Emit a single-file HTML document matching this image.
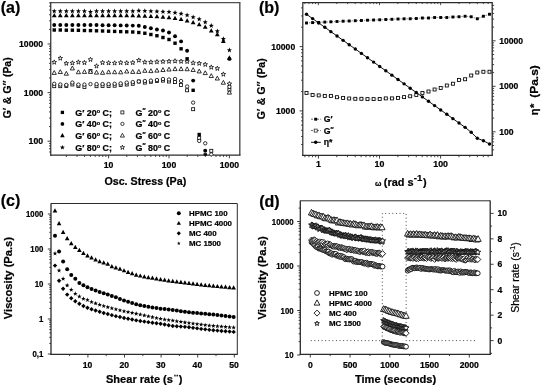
<!DOCTYPE html>
<html><head><meta charset="utf-8"><title>Rheology figure</title>
<style>
html,body{margin:0;padding:0;background:#fff;}
svg{display:block;font-family:'Liberation Sans', Arial, Helvetica, sans-serif;}
text{fill:#000;stroke:#000;stroke-width:0.22px;}
</style></head><body>
<svg width="543" height="387" viewBox="0 0 543 387">
<rect width="543" height="387" fill="#fff"/>
<line x1="50.75" y1="2.60" x2="240.40" y2="2.60" stroke="#505050" stroke-width="1.2" />
<line x1="239.80" y1="2.60" x2="239.80" y2="155.15" stroke="#505050" stroke-width="1.4" />
<line x1="50.75" y1="2.10" x2="50.75" y2="155.65" stroke="#2b2b2b" stroke-width="1.2" />
<line x1="50.15" y1="155.15" x2="240.50" y2="155.15" stroke="#2b2b2b" stroke-width="1.1" />
<line x1="49.05" y1="151.98" x2="50.75" y2="151.98" stroke="#2b2b2b" stroke-width="0.9" />
<line x1="49.05" y1="148.73" x2="50.75" y2="148.73" stroke="#2b2b2b" stroke-width="0.9" />
<line x1="49.05" y1="145.91" x2="50.75" y2="145.91" stroke="#2b2b2b" stroke-width="0.9" />
<line x1="49.05" y1="143.42" x2="50.75" y2="143.42" stroke="#2b2b2b" stroke-width="0.9" />
<line x1="47.55" y1="141.20" x2="50.75" y2="141.20" stroke="#2b2b2b" stroke-width="0.9" />
<line x1="49.05" y1="126.57" x2="50.75" y2="126.57" stroke="#2b2b2b" stroke-width="0.9" />
<line x1="49.05" y1="118.01" x2="50.75" y2="118.01" stroke="#2b2b2b" stroke-width="0.9" />
<line x1="49.05" y1="111.94" x2="50.75" y2="111.94" stroke="#2b2b2b" stroke-width="0.9" />
<line x1="49.05" y1="107.23" x2="50.75" y2="107.23" stroke="#2b2b2b" stroke-width="0.9" />
<line x1="49.05" y1="103.38" x2="50.75" y2="103.38" stroke="#2b2b2b" stroke-width="0.9" />
<line x1="49.05" y1="100.13" x2="50.75" y2="100.13" stroke="#2b2b2b" stroke-width="0.9" />
<line x1="49.05" y1="97.31" x2="50.75" y2="97.31" stroke="#2b2b2b" stroke-width="0.9" />
<line x1="49.05" y1="94.82" x2="50.75" y2="94.82" stroke="#2b2b2b" stroke-width="0.9" />
<line x1="47.55" y1="92.60" x2="50.75" y2="92.60" stroke="#2b2b2b" stroke-width="0.9" />
<line x1="49.05" y1="77.97" x2="50.75" y2="77.97" stroke="#2b2b2b" stroke-width="0.9" />
<line x1="49.05" y1="69.41" x2="50.75" y2="69.41" stroke="#2b2b2b" stroke-width="0.9" />
<line x1="49.05" y1="63.34" x2="50.75" y2="63.34" stroke="#2b2b2b" stroke-width="0.9" />
<line x1="49.05" y1="58.63" x2="50.75" y2="58.63" stroke="#2b2b2b" stroke-width="0.9" />
<line x1="49.05" y1="54.78" x2="50.75" y2="54.78" stroke="#2b2b2b" stroke-width="0.9" />
<line x1="49.05" y1="51.53" x2="50.75" y2="51.53" stroke="#2b2b2b" stroke-width="0.9" />
<line x1="49.05" y1="48.71" x2="50.75" y2="48.71" stroke="#2b2b2b" stroke-width="0.9" />
<line x1="49.05" y1="46.22" x2="50.75" y2="46.22" stroke="#2b2b2b" stroke-width="0.9" />
<line x1="47.55" y1="44.00" x2="50.75" y2="44.00" stroke="#2b2b2b" stroke-width="0.9" />
<line x1="49.05" y1="29.37" x2="50.75" y2="29.37" stroke="#2b2b2b" stroke-width="0.9" />
<line x1="49.05" y1="20.81" x2="50.75" y2="20.81" stroke="#2b2b2b" stroke-width="0.9" />
<line x1="49.05" y1="14.74" x2="50.75" y2="14.74" stroke="#2b2b2b" stroke-width="0.9" />
<line x1="49.05" y1="10.03" x2="50.75" y2="10.03" stroke="#2b2b2b" stroke-width="0.9" />
<line x1="49.05" y1="6.18" x2="50.75" y2="6.18" stroke="#2b2b2b" stroke-width="0.9" />
<line x1="49.05" y1="2.93" x2="50.75" y2="2.93" stroke="#2b2b2b" stroke-width="0.9" />
<line x1="66.38" y1="155.15" x2="66.38" y2="156.95" stroke="#2b2b2b" stroke-width="0.9" />
<line x1="77.02" y1="155.15" x2="77.02" y2="156.95" stroke="#2b2b2b" stroke-width="0.9" />
<line x1="84.56" y1="155.15" x2="84.56" y2="156.95" stroke="#2b2b2b" stroke-width="0.9" />
<line x1="90.42" y1="155.15" x2="90.42" y2="156.95" stroke="#2b2b2b" stroke-width="0.9" />
<line x1="95.20" y1="155.15" x2="95.20" y2="156.95" stroke="#2b2b2b" stroke-width="0.9" />
<line x1="99.24" y1="155.15" x2="99.24" y2="156.95" stroke="#2b2b2b" stroke-width="0.9" />
<line x1="102.75" y1="155.15" x2="102.75" y2="156.95" stroke="#2b2b2b" stroke-width="0.9" />
<line x1="105.84" y1="155.15" x2="105.84" y2="156.95" stroke="#2b2b2b" stroke-width="0.9" />
<line x1="108.60" y1="155.15" x2="108.60" y2="158.35" stroke="#2b2b2b" stroke-width="0.9" />
<line x1="126.78" y1="155.15" x2="126.78" y2="156.95" stroke="#2b2b2b" stroke-width="0.9" />
<line x1="137.42" y1="155.15" x2="137.42" y2="156.95" stroke="#2b2b2b" stroke-width="0.9" />
<line x1="144.96" y1="155.15" x2="144.96" y2="156.95" stroke="#2b2b2b" stroke-width="0.9" />
<line x1="150.82" y1="155.15" x2="150.82" y2="156.95" stroke="#2b2b2b" stroke-width="0.9" />
<line x1="155.60" y1="155.15" x2="155.60" y2="156.95" stroke="#2b2b2b" stroke-width="0.9" />
<line x1="159.64" y1="155.15" x2="159.64" y2="156.95" stroke="#2b2b2b" stroke-width="0.9" />
<line x1="163.15" y1="155.15" x2="163.15" y2="156.95" stroke="#2b2b2b" stroke-width="0.9" />
<line x1="166.24" y1="155.15" x2="166.24" y2="156.95" stroke="#2b2b2b" stroke-width="0.9" />
<line x1="169.00" y1="155.15" x2="169.00" y2="158.35" stroke="#2b2b2b" stroke-width="0.9" />
<line x1="187.18" y1="155.15" x2="187.18" y2="156.95" stroke="#2b2b2b" stroke-width="0.9" />
<line x1="197.82" y1="155.15" x2="197.82" y2="156.95" stroke="#2b2b2b" stroke-width="0.9" />
<line x1="205.36" y1="155.15" x2="205.36" y2="156.95" stroke="#2b2b2b" stroke-width="0.9" />
<line x1="211.22" y1="155.15" x2="211.22" y2="156.95" stroke="#2b2b2b" stroke-width="0.9" />
<line x1="216.00" y1="155.15" x2="216.00" y2="156.95" stroke="#2b2b2b" stroke-width="0.9" />
<line x1="220.04" y1="155.15" x2="220.04" y2="156.95" stroke="#2b2b2b" stroke-width="0.9" />
<line x1="223.55" y1="155.15" x2="223.55" y2="156.95" stroke="#2b2b2b" stroke-width="0.9" />
<line x1="226.64" y1="155.15" x2="226.64" y2="156.95" stroke="#2b2b2b" stroke-width="0.9" />
<line x1="229.40" y1="155.15" x2="229.40" y2="158.35" stroke="#2b2b2b" stroke-width="0.9" />
<text x="43.20" y="47.20" font-size="9" font-weight="bold" text-anchor="end" transform="translate(43.20 47.20) scale(0.97 1) translate(-43.20 -47.20)" >10000</text>
<text x="43.20" y="95.80" font-size="9" font-weight="bold" text-anchor="end" transform="translate(43.20 95.80) scale(0.97 1) translate(-43.20 -95.80)" >1000</text>
<text x="43.20" y="144.40" font-size="9" font-weight="bold" text-anchor="end" transform="translate(43.20 144.40) scale(0.97 1) translate(-43.20 -144.40)" >100</text>
<text x="108.60" y="167.60" font-size="8.7" font-weight="bold" text-anchor="middle" >10</text>
<text x="169.00" y="167.60" font-size="8.7" font-weight="bold" text-anchor="middle" >100</text>
<text x="229.40" y="167.60" font-size="8.7" font-weight="bold" text-anchor="middle" >1000</text>
<text x="11.50" y="87.85" font-size="10.4" font-weight="bold" text-anchor="middle" transform="rotate(-90 11.50 87.85)" style="word-spacing:0.5px">G′ &amp; G″ (Pa)</text>
<text x="145.35" y="185.00" font-size="10.66" font-weight="bold" text-anchor="middle" >Osc. Stress (Pa)</text>
<text x="0.70" y="12.90" font-size="16" font-weight="bold" text-anchor="start" >(a)</text>
<clipPath id="ca"><rect x="50.75" y="2.6" width="189.05" height="152.85000000000002"/></clipPath><g clip-path="url(#ca)">
<rect x="52.74" y="84.70" width="3.00" height="3.00" fill="#fff" stroke="#000" stroke-width="0.8"/>
<rect x="58.78" y="84.70" width="3.00" height="3.00" fill="#fff" stroke="#000" stroke-width="0.8"/>
<rect x="64.82" y="84.50" width="3.00" height="3.00" fill="#fff" stroke="#000" stroke-width="0.8"/>
<rect x="70.86" y="83.00" width="3.00" height="3.00" fill="#fff" stroke="#000" stroke-width="0.8"/>
<rect x="76.90" y="84.50" width="3.00" height="3.00" fill="#fff" stroke="#000" stroke-width="0.8"/>
<rect x="82.94" y="85.40" width="3.00" height="3.00" fill="#fff" stroke="#000" stroke-width="0.8"/>
<rect x="88.98" y="69.50" width="3.00" height="3.00" fill="#fff" stroke="#000" stroke-width="0.8"/>
<rect x="95.02" y="84.70" width="3.00" height="3.00" fill="#fff" stroke="#000" stroke-width="0.8"/>
<rect x="101.06" y="84.50" width="3.00" height="3.00" fill="#fff" stroke="#000" stroke-width="0.8"/>
<rect x="107.10" y="84.50" width="3.00" height="3.00" fill="#fff" stroke="#000" stroke-width="0.8"/>
<rect x="113.14" y="84.20" width="3.00" height="3.00" fill="#fff" stroke="#000" stroke-width="0.8"/>
<rect x="119.18" y="83.40" width="3.00" height="3.00" fill="#fff" stroke="#000" stroke-width="0.8"/>
<rect x="125.22" y="83.00" width="3.00" height="3.00" fill="#fff" stroke="#000" stroke-width="0.8"/>
<rect x="131.26" y="82.30" width="3.00" height="3.00" fill="#fff" stroke="#000" stroke-width="0.8"/>
<rect x="137.30" y="80.00" width="3.00" height="3.00" fill="#fff" stroke="#000" stroke-width="0.8"/>
<rect x="143.34" y="81.10" width="3.00" height="3.00" fill="#fff" stroke="#000" stroke-width="0.8"/>
<rect x="149.38" y="80.30" width="3.00" height="3.00" fill="#fff" stroke="#000" stroke-width="0.8"/>
<rect x="155.42" y="79.50" width="3.00" height="3.00" fill="#fff" stroke="#000" stroke-width="0.8"/>
<rect x="161.46" y="79.10" width="3.00" height="3.00" fill="#fff" stroke="#000" stroke-width="0.8"/>
<rect x="167.50" y="80.00" width="3.00" height="3.00" fill="#fff" stroke="#000" stroke-width="0.8"/>
<rect x="173.54" y="80.60" width="3.00" height="3.00" fill="#fff" stroke="#000" stroke-width="0.8"/>
<rect x="179.58" y="83.40" width="3.00" height="3.00" fill="#fff" stroke="#000" stroke-width="0.8"/>
<rect x="185.62" y="88.80" width="3.00" height="3.00" fill="#fff" stroke="#000" stroke-width="0.8"/>
<rect x="191.66" y="107.70" width="3.00" height="3.00" fill="#fff" stroke="#000" stroke-width="0.8"/>
<rect x="197.70" y="136.60" width="3.00" height="3.00" fill="#fff" stroke="#000" stroke-width="0.8"/>
<rect x="209.78" y="149.30" width="3.00" height="3.00" fill="#fff" stroke="#000" stroke-width="0.8"/>
<rect x="227.90" y="88.30" width="3.00" height="3.00" fill="#fff" stroke="#000" stroke-width="0.8"/>
<circle cx="54.24" cy="83.80" r="1.70" fill="#fff" stroke="#000" stroke-width="0.8"/>
<circle cx="60.28" cy="84.50" r="1.70" fill="#fff" stroke="#000" stroke-width="0.8"/>
<circle cx="66.32" cy="84.90" r="1.70" fill="#fff" stroke="#000" stroke-width="0.8"/>
<circle cx="72.36" cy="82.60" r="1.70" fill="#fff" stroke="#000" stroke-width="0.8"/>
<circle cx="78.40" cy="84.60" r="1.70" fill="#fff" stroke="#000" stroke-width="0.8"/>
<circle cx="84.44" cy="84.60" r="1.70" fill="#fff" stroke="#000" stroke-width="0.8"/>
<circle cx="90.48" cy="84.10" r="1.70" fill="#fff" stroke="#000" stroke-width="0.8"/>
<circle cx="96.52" cy="84.10" r="1.70" fill="#fff" stroke="#000" stroke-width="0.8"/>
<circle cx="102.56" cy="84.10" r="1.70" fill="#fff" stroke="#000" stroke-width="0.8"/>
<circle cx="108.60" cy="84.10" r="1.70" fill="#fff" stroke="#000" stroke-width="0.8"/>
<circle cx="114.64" cy="83.80" r="1.70" fill="#fff" stroke="#000" stroke-width="0.8"/>
<circle cx="120.68" cy="83.40" r="1.70" fill="#fff" stroke="#000" stroke-width="0.8"/>
<circle cx="126.72" cy="82.60" r="1.70" fill="#fff" stroke="#000" stroke-width="0.8"/>
<circle cx="132.76" cy="82.10" r="1.70" fill="#fff" stroke="#000" stroke-width="0.8"/>
<circle cx="138.80" cy="81.50" r="1.70" fill="#fff" stroke="#000" stroke-width="0.8"/>
<circle cx="144.84" cy="81.00" r="1.70" fill="#fff" stroke="#000" stroke-width="0.8"/>
<circle cx="150.88" cy="80.60" r="1.70" fill="#fff" stroke="#000" stroke-width="0.8"/>
<circle cx="156.92" cy="80.00" r="1.70" fill="#fff" stroke="#000" stroke-width="0.8"/>
<circle cx="162.96" cy="79.00" r="1.70" fill="#fff" stroke="#000" stroke-width="0.8"/>
<circle cx="169.00" cy="79.50" r="1.70" fill="#fff" stroke="#000" stroke-width="0.8"/>
<circle cx="175.04" cy="79.00" r="1.70" fill="#fff" stroke="#000" stroke-width="0.8"/>
<circle cx="181.08" cy="81.00" r="1.70" fill="#fff" stroke="#000" stroke-width="0.8"/>
<circle cx="187.12" cy="86.50" r="1.70" fill="#fff" stroke="#000" stroke-width="0.8"/>
<circle cx="193.16" cy="102.60" r="1.70" fill="#fff" stroke="#000" stroke-width="0.8"/>
<circle cx="199.20" cy="140.90" r="1.70" fill="#fff" stroke="#000" stroke-width="0.8"/>
<circle cx="205.24" cy="143.30" r="1.70" fill="#fff" stroke="#000" stroke-width="0.8"/>
<circle cx="211.28" cy="154.40" r="1.70" fill="#fff" stroke="#000" stroke-width="0.8"/>
<circle cx="229.40" cy="86.80" r="1.70" fill="#fff" stroke="#000" stroke-width="0.8"/>
<polygon points="54.24,70.56 52.14,74.42 56.34,74.42" fill="#fff" stroke="#000" stroke-width="0.8" stroke-linejoin="miter"/>
<polygon points="60.28,69.66 58.18,73.52 62.38,73.52" fill="#fff" stroke="#000" stroke-width="0.8" stroke-linejoin="miter"/>
<polygon points="66.32,71.36 64.22,75.22 68.42,75.22" fill="#fff" stroke="#000" stroke-width="0.8" stroke-linejoin="miter"/>
<polygon points="72.36,66.06 70.26,69.92 74.46,69.92" fill="#fff" stroke="#000" stroke-width="0.8" stroke-linejoin="miter"/>
<polygon points="78.40,69.86 76.30,73.72 80.50,73.72" fill="#fff" stroke="#000" stroke-width="0.8" stroke-linejoin="miter"/>
<polygon points="84.44,69.56 82.34,73.42 86.54,73.42" fill="#fff" stroke="#000" stroke-width="0.8" stroke-linejoin="miter"/>
<polygon points="90.48,69.56 88.38,73.42 92.58,73.42" fill="#fff" stroke="#000" stroke-width="0.8" stroke-linejoin="miter"/>
<polygon points="96.52,70.26 94.42,74.12 98.62,74.12" fill="#fff" stroke="#000" stroke-width="0.8" stroke-linejoin="miter"/>
<polygon points="102.56,70.46 100.46,74.32 104.66,74.32" fill="#fff" stroke="#000" stroke-width="0.8" stroke-linejoin="miter"/>
<polygon points="108.60,69.86 106.50,73.72 110.70,73.72" fill="#fff" stroke="#000" stroke-width="0.8" stroke-linejoin="miter"/>
<polygon points="114.64,69.86 112.54,73.72 116.74,73.72" fill="#fff" stroke="#000" stroke-width="0.8" stroke-linejoin="miter"/>
<polygon points="120.68,69.96 118.58,73.82 122.78,73.82" fill="#fff" stroke="#000" stroke-width="0.8" stroke-linejoin="miter"/>
<polygon points="126.72,69.16 124.62,73.02 128.82,73.02" fill="#fff" stroke="#000" stroke-width="0.8" stroke-linejoin="miter"/>
<polygon points="132.76,69.56 130.66,73.42 134.86,73.42" fill="#fff" stroke="#000" stroke-width="0.8" stroke-linejoin="miter"/>
<polygon points="138.80,69.56 136.70,73.42 140.90,73.42" fill="#fff" stroke="#000" stroke-width="0.8" stroke-linejoin="miter"/>
<polygon points="144.84,68.46 142.74,72.32 146.94,72.32" fill="#fff" stroke="#000" stroke-width="0.8" stroke-linejoin="miter"/>
<polygon points="150.88,68.76 148.78,72.62 152.98,72.62" fill="#fff" stroke="#000" stroke-width="0.8" stroke-linejoin="miter"/>
<polygon points="156.92,68.26 154.82,72.12 159.02,72.12" fill="#fff" stroke="#000" stroke-width="0.8" stroke-linejoin="miter"/>
<polygon points="162.96,67.66 160.86,71.52 165.06,71.52" fill="#fff" stroke="#000" stroke-width="0.8" stroke-linejoin="miter"/>
<polygon points="169.00,67.16 166.90,71.02 171.10,71.02" fill="#fff" stroke="#000" stroke-width="0.8" stroke-linejoin="miter"/>
<polygon points="175.04,66.76 172.94,70.62 177.14,70.62" fill="#fff" stroke="#000" stroke-width="0.8" stroke-linejoin="miter"/>
<polygon points="181.08,66.76 178.98,70.62 183.18,70.62" fill="#fff" stroke="#000" stroke-width="0.8" stroke-linejoin="miter"/>
<polygon points="187.12,66.86 185.02,70.72 189.22,70.72" fill="#fff" stroke="#000" stroke-width="0.8" stroke-linejoin="miter"/>
<polygon points="193.16,67.66 191.06,71.52 195.26,71.52" fill="#fff" stroke="#000" stroke-width="0.8" stroke-linejoin="miter"/>
<polygon points="199.20,69.06 197.10,72.92 201.30,72.92" fill="#fff" stroke="#000" stroke-width="0.8" stroke-linejoin="miter"/>
<polygon points="205.24,70.76 203.14,74.62 207.34,74.62" fill="#fff" stroke="#000" stroke-width="0.8" stroke-linejoin="miter"/>
<polygon points="211.28,73.66 209.18,77.52 213.38,77.52" fill="#fff" stroke="#000" stroke-width="0.8" stroke-linejoin="miter"/>
<polygon points="217.32,76.16 215.22,80.02 219.42,80.02" fill="#fff" stroke="#000" stroke-width="0.8" stroke-linejoin="miter"/>
<polygon points="223.36,80.36 221.26,84.22 225.46,84.22" fill="#fff" stroke="#000" stroke-width="0.8" stroke-linejoin="miter"/>
<polygon points="229.40,90.26 227.30,94.12 231.50,94.12" fill="#fff" stroke="#000" stroke-width="0.8" stroke-linejoin="miter"/>
<polygon points="54.24,59.89 54.83,61.48 56.52,61.55 55.20,62.60 55.65,64.23 54.24,63.30 52.83,64.23 53.28,62.60 51.96,61.55 53.65,61.48" fill="#fff" stroke="#000" stroke-width="0.75"/>
<polygon points="60.28,55.89 60.87,57.48 62.56,57.55 61.24,58.60 61.69,60.23 60.28,59.30 58.87,60.23 59.32,58.60 58.00,57.55 59.69,57.48" fill="#fff" stroke="#000" stroke-width="0.75"/>
<polygon points="66.32,60.99 66.91,62.58 68.60,62.65 67.28,63.70 67.73,65.33 66.32,64.40 64.91,65.33 65.36,63.70 64.04,62.65 65.73,62.58" fill="#fff" stroke="#000" stroke-width="0.75"/>
<polygon points="72.36,60.69 72.95,62.28 74.64,62.35 73.32,63.40 73.77,65.03 72.36,64.10 70.95,65.03 71.40,63.40 70.08,62.35 71.77,62.28" fill="#fff" stroke="#000" stroke-width="0.75"/>
<polygon points="78.40,59.79 78.99,61.38 80.68,61.45 79.36,62.50 79.81,64.13 78.40,63.20 76.99,64.13 77.44,62.50 76.12,61.45 77.81,61.38" fill="#fff" stroke="#000" stroke-width="0.75"/>
<polygon points="84.44,60.29 85.03,61.88 86.72,61.95 85.40,63.00 85.85,64.63 84.44,63.70 83.03,64.63 83.48,63.00 82.16,61.95 83.85,61.88" fill="#fff" stroke="#000" stroke-width="0.75"/>
<polygon points="90.48,57.19 91.07,58.78 92.76,58.85 91.44,59.90 91.89,61.53 90.48,60.60 89.07,61.53 89.52,59.90 88.20,58.85 89.89,58.78" fill="#fff" stroke="#000" stroke-width="0.75"/>
<polygon points="96.52,63.69 97.11,65.28 98.80,65.35 97.48,66.40 97.93,68.03 96.52,67.10 95.11,68.03 95.56,66.40 94.24,65.35 95.93,65.28" fill="#fff" stroke="#000" stroke-width="0.75"/>
<polygon points="102.56,60.29 103.15,61.88 104.84,61.95 103.52,63.00 103.97,64.63 102.56,63.70 101.15,64.63 101.60,63.00 100.28,61.95 101.97,61.88" fill="#fff" stroke="#000" stroke-width="0.75"/>
<polygon points="108.60,60.59 109.19,62.18 110.88,62.25 109.56,63.30 110.01,64.93 108.60,64.00 107.19,64.93 107.64,63.30 106.32,62.25 108.01,62.18" fill="#fff" stroke="#000" stroke-width="0.75"/>
<polygon points="114.64,60.69 115.23,62.28 116.92,62.35 115.60,63.40 116.05,65.03 114.64,64.10 113.23,65.03 113.68,63.40 112.36,62.35 114.05,62.28" fill="#fff" stroke="#000" stroke-width="0.75"/>
<polygon points="120.68,60.29 121.27,61.88 122.96,61.95 121.64,63.00 122.09,64.63 120.68,63.70 119.27,64.63 119.72,63.00 118.40,61.95 120.09,61.88" fill="#fff" stroke="#000" stroke-width="0.75"/>
<polygon points="126.72,60.59 127.31,62.18 129.00,62.25 127.68,63.30 128.13,64.93 126.72,64.00 125.31,64.93 125.76,63.30 124.44,62.25 126.13,62.18" fill="#fff" stroke="#000" stroke-width="0.75"/>
<polygon points="132.76,60.29 133.35,61.88 135.04,61.95 133.72,63.00 134.17,64.63 132.76,63.70 131.35,64.63 131.80,63.00 130.48,61.95 132.17,61.88" fill="#fff" stroke="#000" stroke-width="0.75"/>
<polygon points="138.80,57.89 139.39,59.48 141.08,59.55 139.76,60.60 140.21,62.23 138.80,61.30 137.39,62.23 137.84,60.60 136.52,59.55 138.21,59.48" fill="#fff" stroke="#000" stroke-width="0.75"/>
<polygon points="144.84,59.79 145.43,61.38 147.12,61.45 145.80,62.50 146.25,64.13 144.84,63.20 143.43,64.13 143.88,62.50 142.56,61.45 144.25,61.38" fill="#fff" stroke="#000" stroke-width="0.75"/>
<polygon points="150.88,59.79 151.47,61.38 153.16,61.45 151.84,62.50 152.29,64.13 150.88,63.20 149.47,64.13 149.92,62.50 148.60,61.45 150.29,61.38" fill="#fff" stroke="#000" stroke-width="0.75"/>
<polygon points="156.92,59.49 157.51,61.08 159.20,61.15 157.88,62.20 158.33,63.83 156.92,62.90 155.51,63.83 155.96,62.20 154.64,61.15 156.33,61.08" fill="#fff" stroke="#000" stroke-width="0.75"/>
<polygon points="162.96,59.19 163.55,60.78 165.24,60.85 163.92,61.90 164.37,63.53 162.96,62.60 161.55,63.53 162.00,61.90 160.68,60.85 162.37,60.78" fill="#fff" stroke="#000" stroke-width="0.75"/>
<polygon points="169.00,58.99 169.59,60.58 171.28,60.65 169.96,61.70 170.41,63.33 169.00,62.40 167.59,63.33 168.04,61.70 166.72,60.65 168.41,60.58" fill="#fff" stroke="#000" stroke-width="0.75"/>
<polygon points="175.04,58.69 175.63,60.28 177.32,60.35 176.00,61.40 176.45,63.03 175.04,62.10 173.63,63.03 174.08,61.40 172.76,60.35 174.45,60.28" fill="#fff" stroke="#000" stroke-width="0.75"/>
<polygon points="181.08,58.99 181.67,60.58 183.36,60.65 182.04,61.70 182.49,63.33 181.08,62.40 179.67,63.33 180.12,61.70 178.80,60.65 180.49,60.58" fill="#fff" stroke="#000" stroke-width="0.75"/>
<polygon points="187.12,59.19 187.71,60.78 189.40,60.85 188.08,61.90 188.53,63.53 187.12,62.60 185.71,63.53 186.16,61.90 184.84,60.85 186.53,60.78" fill="#fff" stroke="#000" stroke-width="0.75"/>
<polygon points="193.16,60.59 193.75,62.18 195.44,62.25 194.12,63.30 194.57,64.93 193.16,64.00 191.75,64.93 192.20,63.30 190.88,62.25 192.57,62.18" fill="#fff" stroke="#000" stroke-width="0.75"/>
<polygon points="199.20,60.99 199.79,62.58 201.48,62.65 200.16,63.70 200.61,65.33 199.20,64.40 197.79,65.33 198.24,63.70 196.92,62.65 198.61,62.58" fill="#fff" stroke="#000" stroke-width="0.75"/>
<polygon points="205.24,62.09 205.83,63.68 207.52,63.75 206.20,64.80 206.65,66.43 205.24,65.50 203.83,66.43 204.28,64.80 202.96,63.75 204.65,63.68" fill="#fff" stroke="#000" stroke-width="0.75"/>
<polygon points="211.28,64.89 211.87,66.48 213.56,66.55 212.24,67.60 212.69,69.23 211.28,68.30 209.87,69.23 210.32,67.60 209.00,66.55 210.69,66.48" fill="#fff" stroke="#000" stroke-width="0.75"/>
<polygon points="217.32,66.09 217.91,67.68 219.60,67.75 218.28,68.80 218.73,70.43 217.32,69.50 215.91,70.43 216.36,68.80 215.04,67.75 216.73,67.68" fill="#fff" stroke="#000" stroke-width="0.75"/>
<polygon points="223.36,71.89 223.95,73.48 225.64,73.55 224.32,74.60 224.77,76.23 223.36,75.30 221.95,76.23 222.40,74.60 221.08,73.55 222.77,73.48" fill="#fff" stroke="#000" stroke-width="0.75"/>
<polygon points="229.40,81.49 229.99,83.08 231.68,83.15 230.36,84.20 230.81,85.83 229.40,84.90 227.99,85.83 228.44,84.20 227.12,83.15 228.81,83.08" fill="#fff" stroke="#000" stroke-width="0.75"/>
<rect x="52.54" y="28.30" width="3.40" height="3.40" fill="#000" stroke="none" stroke-width="0.7"/>
<rect x="58.58" y="28.30" width="3.40" height="3.40" fill="#000" stroke="none" stroke-width="0.7"/>
<rect x="64.62" y="28.50" width="3.40" height="3.40" fill="#000" stroke="none" stroke-width="0.7"/>
<rect x="70.66" y="28.50" width="3.40" height="3.40" fill="#000" stroke="none" stroke-width="0.7"/>
<rect x="76.70" y="28.60" width="3.40" height="3.40" fill="#000" stroke="none" stroke-width="0.7"/>
<rect x="82.74" y="28.80" width="3.40" height="3.40" fill="#000" stroke="none" stroke-width="0.7"/>
<rect x="88.78" y="28.90" width="3.40" height="3.40" fill="#000" stroke="none" stroke-width="0.7"/>
<rect x="94.82" y="29.10" width="3.40" height="3.40" fill="#000" stroke="none" stroke-width="0.7"/>
<rect x="100.86" y="29.30" width="3.40" height="3.40" fill="#000" stroke="none" stroke-width="0.7"/>
<rect x="106.90" y="29.50" width="3.40" height="3.40" fill="#000" stroke="none" stroke-width="0.7"/>
<rect x="112.94" y="29.70" width="3.40" height="3.40" fill="#000" stroke="none" stroke-width="0.7"/>
<rect x="118.98" y="29.90" width="3.40" height="3.40" fill="#000" stroke="none" stroke-width="0.7"/>
<rect x="125.02" y="30.10" width="3.40" height="3.40" fill="#000" stroke="none" stroke-width="0.7"/>
<rect x="131.06" y="30.30" width="3.40" height="3.40" fill="#000" stroke="none" stroke-width="0.7"/>
<rect x="137.10" y="30.80" width="3.40" height="3.40" fill="#000" stroke="none" stroke-width="0.7"/>
<rect x="143.14" y="31.55" width="3.40" height="3.40" fill="#000" stroke="none" stroke-width="0.7"/>
<rect x="149.18" y="32.80" width="3.40" height="3.40" fill="#000" stroke="none" stroke-width="0.7"/>
<rect x="155.22" y="34.05" width="3.40" height="3.40" fill="#000" stroke="none" stroke-width="0.7"/>
<rect x="161.26" y="35.80" width="3.40" height="3.40" fill="#000" stroke="none" stroke-width="0.7"/>
<rect x="167.30" y="37.80" width="3.40" height="3.40" fill="#000" stroke="none" stroke-width="0.7"/>
<rect x="173.34" y="41.50" width="3.40" height="3.40" fill="#000" stroke="none" stroke-width="0.7"/>
<rect x="179.38" y="47.10" width="3.40" height="3.40" fill="#000" stroke="none" stroke-width="0.7"/>
<rect x="185.42" y="57.10" width="3.40" height="3.40" fill="#000" stroke="none" stroke-width="0.7"/>
<rect x="191.46" y="88.60" width="3.40" height="3.40" fill="#000" stroke="none" stroke-width="0.7"/>
<rect x="197.50" y="132.80" width="3.40" height="3.40" fill="#000" stroke="none" stroke-width="0.7"/>
<rect x="203.54" y="153.20" width="3.40" height="3.40" fill="#000" stroke="none" stroke-width="0.7"/>
<circle cx="54.24" cy="25.00" r="1.95" fill="#000" stroke="none" stroke-width="0.7"/>
<circle cx="60.28" cy="25.00" r="1.95" fill="#000" stroke="none" stroke-width="0.7"/>
<circle cx="66.32" cy="25.00" r="1.95" fill="#000" stroke="none" stroke-width="0.7"/>
<circle cx="72.36" cy="25.00" r="1.95" fill="#000" stroke="none" stroke-width="0.7"/>
<circle cx="78.40" cy="25.00" r="1.95" fill="#000" stroke="none" stroke-width="0.7"/>
<circle cx="84.44" cy="25.00" r="1.95" fill="#000" stroke="none" stroke-width="0.7"/>
<circle cx="90.48" cy="25.00" r="1.95" fill="#000" stroke="none" stroke-width="0.7"/>
<circle cx="96.52" cy="25.00" r="1.95" fill="#000" stroke="none" stroke-width="0.7"/>
<circle cx="102.56" cy="25.20" r="1.95" fill="#000" stroke="none" stroke-width="0.7"/>
<circle cx="108.60" cy="25.20" r="1.95" fill="#000" stroke="none" stroke-width="0.7"/>
<circle cx="114.64" cy="25.30" r="1.95" fill="#000" stroke="none" stroke-width="0.7"/>
<circle cx="120.68" cy="25.40" r="1.95" fill="#000" stroke="none" stroke-width="0.7"/>
<circle cx="126.72" cy="25.50" r="1.95" fill="#000" stroke="none" stroke-width="0.7"/>
<circle cx="132.76" cy="25.60" r="1.95" fill="#000" stroke="none" stroke-width="0.7"/>
<circle cx="138.80" cy="25.75" r="1.95" fill="#000" stroke="none" stroke-width="0.7"/>
<circle cx="144.84" cy="27.00" r="1.95" fill="#000" stroke="none" stroke-width="0.7"/>
<circle cx="150.88" cy="28.25" r="1.95" fill="#000" stroke="none" stroke-width="0.7"/>
<circle cx="156.92" cy="29.50" r="1.95" fill="#000" stroke="none" stroke-width="0.7"/>
<circle cx="162.96" cy="30.50" r="1.95" fill="#000" stroke="none" stroke-width="0.7"/>
<circle cx="169.00" cy="32.50" r="1.95" fill="#000" stroke="none" stroke-width="0.7"/>
<circle cx="175.04" cy="36.25" r="1.95" fill="#000" stroke="none" stroke-width="0.7"/>
<circle cx="181.08" cy="41.40" r="1.95" fill="#000" stroke="none" stroke-width="0.7"/>
<circle cx="187.12" cy="50.70" r="1.95" fill="#000" stroke="none" stroke-width="0.7"/>
<circle cx="193.16" cy="80.60" r="1.95" fill="#000" stroke="none" stroke-width="0.7"/>
<circle cx="205.24" cy="150.80" r="1.95" fill="#000" stroke="none" stroke-width="0.7"/>
<circle cx="229.40" cy="58.90" r="1.95" fill="#000" stroke="none" stroke-width="0.7"/>
<polygon points="54.24,12.94 51.84,17.35 56.64,17.35" fill="#000" stroke="none" stroke-width="0.7" stroke-linejoin="miter"/>
<polygon points="60.28,12.94 57.88,17.35 62.68,17.35" fill="#000" stroke="none" stroke-width="0.7" stroke-linejoin="miter"/>
<polygon points="66.32,12.94 63.92,17.35 68.72,17.35" fill="#000" stroke="none" stroke-width="0.7" stroke-linejoin="miter"/>
<polygon points="72.36,12.94 69.96,17.35 74.76,17.35" fill="#000" stroke="none" stroke-width="0.7" stroke-linejoin="miter"/>
<polygon points="78.40,12.94 76.00,17.35 80.80,17.35" fill="#000" stroke="none" stroke-width="0.7" stroke-linejoin="miter"/>
<polygon points="84.44,12.94 82.04,17.35 86.84,17.35" fill="#000" stroke="none" stroke-width="0.7" stroke-linejoin="miter"/>
<polygon points="90.48,12.94 88.08,17.35 92.88,17.35" fill="#000" stroke="none" stroke-width="0.7" stroke-linejoin="miter"/>
<polygon points="96.52,12.94 94.12,17.35 98.92,17.35" fill="#000" stroke="none" stroke-width="0.7" stroke-linejoin="miter"/>
<polygon points="102.56,12.94 100.16,17.35 104.96,17.35" fill="#000" stroke="none" stroke-width="0.7" stroke-linejoin="miter"/>
<polygon points="108.60,12.94 106.20,17.35 111.00,17.35" fill="#000" stroke="none" stroke-width="0.7" stroke-linejoin="miter"/>
<polygon points="114.64,12.94 112.24,17.35 117.04,17.35" fill="#000" stroke="none" stroke-width="0.7" stroke-linejoin="miter"/>
<polygon points="120.68,12.94 118.28,17.35 123.08,17.35" fill="#000" stroke="none" stroke-width="0.7" stroke-linejoin="miter"/>
<polygon points="126.72,12.94 124.32,17.35 129.12,17.35" fill="#000" stroke="none" stroke-width="0.7" stroke-linejoin="miter"/>
<polygon points="132.76,12.94 130.36,17.35 135.16,17.35" fill="#000" stroke="none" stroke-width="0.7" stroke-linejoin="miter"/>
<polygon points="138.80,13.19 136.40,17.60 141.20,17.60" fill="#000" stroke="none" stroke-width="0.7" stroke-linejoin="miter"/>
<polygon points="144.84,13.44 142.44,17.85 147.24,17.85" fill="#000" stroke="none" stroke-width="0.7" stroke-linejoin="miter"/>
<polygon points="150.88,13.69 148.48,18.10 153.28,18.10" fill="#000" stroke="none" stroke-width="0.7" stroke-linejoin="miter"/>
<polygon points="156.92,13.94 154.52,18.35 159.32,18.35" fill="#000" stroke="none" stroke-width="0.7" stroke-linejoin="miter"/>
<polygon points="162.96,14.44 160.56,18.85 165.36,18.85" fill="#000" stroke="none" stroke-width="0.7" stroke-linejoin="miter"/>
<polygon points="169.00,14.94 166.60,19.35 171.40,19.35" fill="#000" stroke="none" stroke-width="0.7" stroke-linejoin="miter"/>
<polygon points="175.04,15.69 172.64,20.10 177.44,20.10" fill="#000" stroke="none" stroke-width="0.7" stroke-linejoin="miter"/>
<polygon points="181.08,16.69 178.68,21.10 183.48,21.10" fill="#000" stroke="none" stroke-width="0.7" stroke-linejoin="miter"/>
<polygon points="187.12,18.19 184.72,22.60 189.52,22.60" fill="#000" stroke="none" stroke-width="0.7" stroke-linejoin="miter"/>
<polygon points="193.16,19.94 190.76,24.35 195.56,24.35" fill="#000" stroke="none" stroke-width="0.7" stroke-linejoin="miter"/>
<polygon points="199.20,21.94 196.80,26.35 201.60,26.35" fill="#000" stroke="none" stroke-width="0.7" stroke-linejoin="miter"/>
<polygon points="205.24,24.44 202.84,28.85 207.64,28.85" fill="#000" stroke="none" stroke-width="0.7" stroke-linejoin="miter"/>
<polygon points="211.28,28.19 208.88,32.60 213.68,32.60" fill="#000" stroke="none" stroke-width="0.7" stroke-linejoin="miter"/>
<polygon points="217.32,31.94 214.92,36.35 219.72,36.35" fill="#000" stroke="none" stroke-width="0.7" stroke-linejoin="miter"/>
<polygon points="223.36,38.64 220.96,43.05 225.76,43.05" fill="#000" stroke="none" stroke-width="0.7" stroke-linejoin="miter"/>
<polygon points="229.40,55.24 227.00,59.65 231.80,59.65" fill="#000" stroke="none" stroke-width="0.7" stroke-linejoin="miter"/>
<polygon points="54.24,8.52 54.91,10.30 56.81,10.38 55.32,11.57 55.83,13.40 54.24,12.35 52.65,13.40 53.16,11.57 51.67,10.38 53.57,10.30" fill="#000" stroke="none" stroke-width="0.7"/>
<polygon points="60.28,8.52 60.95,10.30 62.85,10.38 61.36,11.57 61.87,13.40 60.28,12.35 58.69,13.40 59.20,11.57 57.71,10.38 59.61,10.30" fill="#000" stroke="none" stroke-width="0.7"/>
<polygon points="66.32,8.52 66.99,10.30 68.89,10.38 67.40,11.57 67.91,13.40 66.32,12.35 64.73,13.40 65.24,11.57 63.75,10.38 65.65,10.30" fill="#000" stroke="none" stroke-width="0.7"/>
<polygon points="72.36,8.52 73.03,10.30 74.93,10.38 73.44,11.57 73.95,13.40 72.36,12.35 70.77,13.40 71.28,11.57 69.79,10.38 71.69,10.30" fill="#000" stroke="none" stroke-width="0.7"/>
<polygon points="78.40,8.52 79.07,10.30 80.97,10.38 79.48,11.57 79.99,13.40 78.40,12.35 76.81,13.40 77.32,11.57 75.83,10.38 77.73,10.30" fill="#000" stroke="none" stroke-width="0.7"/>
<polygon points="84.44,8.52 85.11,10.30 87.01,10.38 85.52,11.57 86.03,13.40 84.44,12.35 82.85,13.40 83.36,11.57 81.87,10.38 83.77,10.30" fill="#000" stroke="none" stroke-width="0.7"/>
<polygon points="90.48,9.12 91.15,10.90 93.05,10.98 91.56,12.17 92.07,14.00 90.48,12.95 88.89,14.00 89.40,12.17 87.91,10.98 89.81,10.90" fill="#000" stroke="none" stroke-width="0.7"/>
<polygon points="96.52,8.52 97.19,10.30 99.09,10.38 97.60,11.57 98.11,13.40 96.52,12.35 94.93,13.40 95.44,11.57 93.95,10.38 95.85,10.30" fill="#000" stroke="none" stroke-width="0.7"/>
<polygon points="102.56,8.52 103.23,10.30 105.13,10.38 103.64,11.57 104.15,13.40 102.56,12.35 100.97,13.40 101.48,11.57 99.99,10.38 101.89,10.30" fill="#000" stroke="none" stroke-width="0.7"/>
<polygon points="108.60,8.52 109.27,10.30 111.17,10.38 109.68,11.57 110.19,13.40 108.60,12.35 107.01,13.40 107.52,11.57 106.03,10.38 107.93,10.30" fill="#000" stroke="none" stroke-width="0.7"/>
<polygon points="114.64,8.52 115.31,10.30 117.21,10.38 115.72,11.57 116.23,13.40 114.64,12.35 113.05,13.40 113.56,11.57 112.07,10.38 113.97,10.30" fill="#000" stroke="none" stroke-width="0.7"/>
<polygon points="120.68,8.52 121.35,10.30 123.25,10.38 121.76,11.57 122.27,13.40 120.68,12.35 119.09,13.40 119.60,11.57 118.11,10.38 120.01,10.30" fill="#000" stroke="none" stroke-width="0.7"/>
<polygon points="126.72,8.52 127.39,10.30 129.29,10.38 127.80,11.57 128.31,13.40 126.72,12.35 125.13,13.40 125.64,11.57 124.15,10.38 126.05,10.30" fill="#000" stroke="none" stroke-width="0.7"/>
<polygon points="132.76,8.52 133.43,10.30 135.33,10.38 133.84,11.57 134.35,13.40 132.76,12.35 131.17,13.40 131.68,11.57 130.19,10.38 132.09,10.30" fill="#000" stroke="none" stroke-width="0.7"/>
<polygon points="138.80,8.02 139.47,9.80 141.37,9.88 139.88,11.07 140.39,12.90 138.80,11.85 137.21,12.90 137.72,11.07 136.23,9.88 138.13,9.80" fill="#000" stroke="none" stroke-width="0.7"/>
<polygon points="144.84,8.27 145.51,10.05 147.41,10.13 145.92,11.32 146.43,13.15 144.84,12.10 143.25,13.15 143.76,11.32 142.27,10.13 144.17,10.05" fill="#000" stroke="none" stroke-width="0.7"/>
<polygon points="150.88,8.52 151.55,10.30 153.45,10.38 151.96,11.57 152.47,13.40 150.88,12.35 149.29,13.40 149.80,11.57 148.31,10.38 150.21,10.30" fill="#000" stroke="none" stroke-width="0.7"/>
<polygon points="156.92,8.77 157.59,10.55 159.49,10.63 158.00,11.82 158.51,13.65 156.92,12.60 155.33,13.65 155.84,11.82 154.35,10.63 156.25,10.55" fill="#000" stroke="none" stroke-width="0.7"/>
<polygon points="162.96,9.02 163.63,10.80 165.53,10.88 164.04,12.07 164.55,13.90 162.96,12.85 161.37,13.90 161.88,12.07 160.39,10.88 162.29,10.80" fill="#000" stroke="none" stroke-width="0.7"/>
<polygon points="169.00,9.27 169.67,11.05 171.57,11.13 170.08,12.32 170.59,14.15 169.00,13.10 167.41,14.15 167.92,12.32 166.43,11.13 168.33,11.05" fill="#000" stroke="none" stroke-width="0.7"/>
<polygon points="175.04,10.02 175.71,11.80 177.61,11.88 176.12,13.07 176.63,14.90 175.04,13.85 173.45,14.90 173.96,13.07 172.47,11.88 174.37,11.80" fill="#000" stroke="none" stroke-width="0.7"/>
<polygon points="181.08,11.02 181.75,12.80 183.65,12.88 182.16,14.07 182.67,15.90 181.08,14.85 179.49,15.90 180.00,14.07 178.51,12.88 180.41,12.80" fill="#000" stroke="none" stroke-width="0.7"/>
<polygon points="187.12,12.52 187.79,14.30 189.69,14.38 188.20,15.57 188.71,17.40 187.12,16.35 185.53,17.40 186.04,15.57 184.55,14.38 186.45,14.30" fill="#000" stroke="none" stroke-width="0.7"/>
<polygon points="193.16,14.52 193.83,16.30 195.73,16.38 194.24,17.57 194.75,19.40 193.16,18.35 191.57,19.40 192.08,17.57 190.59,16.38 192.49,16.30" fill="#000" stroke="none" stroke-width="0.7"/>
<polygon points="199.20,16.52 199.87,18.30 201.77,18.38 200.28,19.57 200.79,21.40 199.20,20.35 197.61,21.40 198.12,19.57 196.63,18.38 198.53,18.30" fill="#000" stroke="none" stroke-width="0.7"/>
<polygon points="205.24,19.52 205.91,21.30 207.81,21.38 206.32,22.57 206.83,24.40 205.24,23.35 203.65,24.40 204.16,22.57 202.67,21.38 204.57,21.30" fill="#000" stroke="none" stroke-width="0.7"/>
<polygon points="211.28,23.02 211.95,24.80 213.85,24.88 212.36,26.07 212.87,27.90 211.28,26.85 209.69,27.90 210.20,26.07 208.71,24.88 210.61,24.80" fill="#000" stroke="none" stroke-width="0.7"/>
<polygon points="217.32,28.52 217.99,30.30 219.89,30.38 218.40,31.57 218.91,33.40 217.32,32.35 215.73,33.40 216.24,31.57 214.75,30.38 216.65,30.30" fill="#000" stroke="none" stroke-width="0.7"/>
<polygon points="223.36,36.27 224.03,38.05 225.93,38.13 224.44,39.32 224.95,41.15 223.36,40.10 221.77,41.15 222.28,39.32 220.79,38.13 222.69,38.05" fill="#000" stroke="none" stroke-width="0.7"/>
<polygon points="229.40,47.52 230.07,49.30 231.97,49.38 230.48,50.57 230.99,52.40 229.40,51.35 227.81,52.40 228.32,50.57 226.83,49.38 228.73,49.30" fill="#000" stroke="none" stroke-width="0.7"/>
</g>
<rect x="60.75" y="110.75" width="3.30" height="3.30" fill="#000" stroke="none" stroke-width="0.7"/>
<rect x="120.90" y="110.90" width="3.00" height="3.00" fill="#fff" stroke="#000" stroke-width="0.75"/>
<text x="75.30" y="115.60" font-size="8.9" font-weight="bold" text-anchor="start" >G′ 20<tspan font-size="5.5" dy="-2.6">o</tspan><tspan dy="2.6"> C;</tspan></text>
<text x="135.60" y="115.60" font-size="8.9" font-weight="bold" text-anchor="start" >G<tspan font-size="6.5" dy="-2.2">″</tspan><tspan dy="2.2"> 20</tspan><tspan font-size="5.5" dy="-2.6">o</tspan><tspan dy="2.6"> C</tspan></text>
<circle cx="62.40" cy="123.90" r="1.85" fill="#000" stroke="none" stroke-width="0.7"/>
<circle cx="122.40" cy="123.90" r="1.65" fill="#fff" stroke="#000" stroke-width="0.75"/>
<text x="75.30" y="127.10" font-size="8.9" font-weight="bold" text-anchor="start" >G′ 40<tspan font-size="5.5" dy="-2.6">o</tspan><tspan dy="2.6"> C;</tspan></text>
<text x="135.60" y="127.10" font-size="8.9" font-weight="bold" text-anchor="start" >G<tspan font-size="6.5" dy="-2.2">″</tspan><tspan dy="2.2"> 40</tspan><tspan font-size="5.5" dy="-2.6">o</tspan><tspan dy="2.6"> C</tspan></text>
<polygon points="62.40,133.05 60.10,137.28 64.70,137.28" fill="#000" stroke="none" stroke-width="0.7" stroke-linejoin="miter"/>
<polygon points="122.40,133.31 120.35,137.08 124.45,137.08" fill="#fff" stroke="#000" stroke-width="0.75" stroke-linejoin="miter"/>
<text x="75.30" y="138.70" font-size="8.9" font-weight="bold" text-anchor="start" >G′ 60<tspan font-size="5.5" dy="-2.6">o</tspan><tspan dy="2.6"> C;</tspan></text>
<text x="135.60" y="138.70" font-size="8.9" font-weight="bold" text-anchor="start" >G<tspan font-size="6.5" dy="-2.2">″</tspan><tspan dy="2.2"> 60</tspan><tspan font-size="5.5" dy="-2.6">o</tspan><tspan dy="2.6"> C</tspan></text>
<polygon points="62.40,144.91 63.04,146.62 64.87,146.70 63.44,147.85 63.93,149.61 62.40,148.60 60.87,149.61 61.36,147.85 59.93,146.70 61.76,146.62" fill="#000" stroke="none" stroke-width="0.7"/>
<polygon points="122.40,145.14 122.98,146.69 124.63,146.76 123.34,147.79 123.78,149.39 122.40,148.47 121.02,149.39 121.46,147.79 120.17,146.76 121.82,146.69" fill="#fff" stroke="#000" stroke-width="0.75"/>
<text x="75.30" y="150.50" font-size="8.9" font-weight="bold" text-anchor="start" >G′ 80<tspan font-size="5.5" dy="-2.6">o</tspan><tspan dy="2.6"> C;</tspan></text>
<text x="135.60" y="150.50" font-size="8.9" font-weight="bold" text-anchor="start" >G<tspan font-size="6.5" dy="-2.2">″</tspan><tspan dy="2.2"> 80</tspan><tspan font-size="5.5" dy="-2.6">o</tspan><tspan dy="2.6"> C</tspan></text>
<line x1="302.80" y1="2.60" x2="492.20" y2="2.60" stroke="#2b2b2b" stroke-width="1.1" />
<line x1="302.80" y1="2.10" x2="302.80" y2="155.90" stroke="#2b2b2b" stroke-width="1.2" />
<line x1="302.20" y1="155.40" x2="492.80" y2="155.40" stroke="#2b2b2b" stroke-width="1.2" />
<line x1="492.20" y1="2.10" x2="492.20" y2="155.90" stroke="#2b2b2b" stroke-width="1.3" />
<line x1="301.10" y1="144.52" x2="302.80" y2="144.52" stroke="#2b2b2b" stroke-width="0.9" />
<line x1="301.10" y1="136.49" x2="302.80" y2="136.49" stroke="#2b2b2b" stroke-width="0.9" />
<line x1="301.10" y1="130.26" x2="302.80" y2="130.26" stroke="#2b2b2b" stroke-width="0.9" />
<line x1="301.10" y1="125.16" x2="302.80" y2="125.16" stroke="#2b2b2b" stroke-width="0.9" />
<line x1="301.10" y1="120.86" x2="302.80" y2="120.86" stroke="#2b2b2b" stroke-width="0.9" />
<line x1="301.10" y1="117.13" x2="302.80" y2="117.13" stroke="#2b2b2b" stroke-width="0.9" />
<line x1="301.10" y1="113.84" x2="302.80" y2="113.84" stroke="#2b2b2b" stroke-width="0.9" />
<line x1="299.60" y1="110.90" x2="302.80" y2="110.90" stroke="#2b2b2b" stroke-width="0.9" />
<line x1="301.10" y1="91.54" x2="302.80" y2="91.54" stroke="#2b2b2b" stroke-width="0.9" />
<line x1="301.10" y1="80.22" x2="302.80" y2="80.22" stroke="#2b2b2b" stroke-width="0.9" />
<line x1="301.10" y1="72.19" x2="302.80" y2="72.19" stroke="#2b2b2b" stroke-width="0.9" />
<line x1="301.10" y1="65.96" x2="302.80" y2="65.96" stroke="#2b2b2b" stroke-width="0.9" />
<line x1="301.10" y1="60.86" x2="302.80" y2="60.86" stroke="#2b2b2b" stroke-width="0.9" />
<line x1="301.10" y1="56.56" x2="302.80" y2="56.56" stroke="#2b2b2b" stroke-width="0.9" />
<line x1="301.10" y1="52.83" x2="302.80" y2="52.83" stroke="#2b2b2b" stroke-width="0.9" />
<line x1="301.10" y1="49.54" x2="302.80" y2="49.54" stroke="#2b2b2b" stroke-width="0.9" />
<line x1="299.60" y1="46.60" x2="302.80" y2="46.60" stroke="#2b2b2b" stroke-width="0.9" />
<line x1="301.10" y1="27.24" x2="302.80" y2="27.24" stroke="#2b2b2b" stroke-width="0.9" />
<line x1="301.10" y1="15.92" x2="302.80" y2="15.92" stroke="#2b2b2b" stroke-width="0.9" />
<line x1="301.10" y1="7.89" x2="302.80" y2="7.89" stroke="#2b2b2b" stroke-width="0.9" />
<line x1="492.20" y1="149.91" x2="494.10" y2="149.91" stroke="#2b2b2b" stroke-width="0.9" />
<line x1="492.20" y1="145.50" x2="494.10" y2="145.50" stroke="#2b2b2b" stroke-width="0.9" />
<line x1="492.20" y1="141.89" x2="494.10" y2="141.89" stroke="#2b2b2b" stroke-width="0.9" />
<line x1="492.20" y1="138.85" x2="494.10" y2="138.85" stroke="#2b2b2b" stroke-width="0.9" />
<line x1="492.20" y1="136.21" x2="494.10" y2="136.21" stroke="#2b2b2b" stroke-width="0.9" />
<line x1="492.20" y1="133.88" x2="494.10" y2="133.88" stroke="#2b2b2b" stroke-width="0.9" />
<line x1="492.20" y1="131.80" x2="495.60" y2="131.80" stroke="#2b2b2b" stroke-width="0.9" />
<line x1="492.20" y1="118.10" x2="494.10" y2="118.10" stroke="#2b2b2b" stroke-width="0.9" />
<line x1="492.20" y1="110.09" x2="494.10" y2="110.09" stroke="#2b2b2b" stroke-width="0.9" />
<line x1="492.20" y1="104.41" x2="494.10" y2="104.41" stroke="#2b2b2b" stroke-width="0.9" />
<line x1="492.20" y1="100.00" x2="494.10" y2="100.00" stroke="#2b2b2b" stroke-width="0.9" />
<line x1="492.20" y1="96.39" x2="494.10" y2="96.39" stroke="#2b2b2b" stroke-width="0.9" />
<line x1="492.20" y1="93.35" x2="494.10" y2="93.35" stroke="#2b2b2b" stroke-width="0.9" />
<line x1="492.20" y1="90.71" x2="494.10" y2="90.71" stroke="#2b2b2b" stroke-width="0.9" />
<line x1="492.20" y1="88.38" x2="494.10" y2="88.38" stroke="#2b2b2b" stroke-width="0.9" />
<line x1="492.20" y1="86.30" x2="495.60" y2="86.30" stroke="#2b2b2b" stroke-width="0.9" />
<line x1="492.20" y1="72.60" x2="494.10" y2="72.60" stroke="#2b2b2b" stroke-width="0.9" />
<line x1="492.20" y1="64.59" x2="494.10" y2="64.59" stroke="#2b2b2b" stroke-width="0.9" />
<line x1="492.20" y1="58.91" x2="494.10" y2="58.91" stroke="#2b2b2b" stroke-width="0.9" />
<line x1="492.20" y1="54.50" x2="494.10" y2="54.50" stroke="#2b2b2b" stroke-width="0.9" />
<line x1="492.20" y1="50.89" x2="494.10" y2="50.89" stroke="#2b2b2b" stroke-width="0.9" />
<line x1="492.20" y1="47.85" x2="494.10" y2="47.85" stroke="#2b2b2b" stroke-width="0.9" />
<line x1="492.20" y1="45.21" x2="494.10" y2="45.21" stroke="#2b2b2b" stroke-width="0.9" />
<line x1="492.20" y1="42.88" x2="494.10" y2="42.88" stroke="#2b2b2b" stroke-width="0.9" />
<line x1="492.20" y1="40.80" x2="495.60" y2="40.80" stroke="#2b2b2b" stroke-width="0.9" />
<line x1="492.20" y1="27.10" x2="494.10" y2="27.10" stroke="#2b2b2b" stroke-width="0.9" />
<line x1="492.20" y1="19.09" x2="494.10" y2="19.09" stroke="#2b2b2b" stroke-width="0.9" />
<line x1="492.20" y1="13.41" x2="494.10" y2="13.41" stroke="#2b2b2b" stroke-width="0.9" />
<line x1="492.20" y1="9.00" x2="494.10" y2="9.00" stroke="#2b2b2b" stroke-width="0.9" />
<line x1="492.20" y1="5.39" x2="494.10" y2="5.39" stroke="#2b2b2b" stroke-width="0.9" />
<line x1="304.85" y1="155.40" x2="304.85" y2="157.20" stroke="#2b2b2b" stroke-width="0.9" />
<line x1="304.85" y1="2.60" x2="304.85" y2="4.10" stroke="#2b2b2b" stroke-width="0.8" />
<line x1="308.94" y1="155.40" x2="308.94" y2="157.20" stroke="#2b2b2b" stroke-width="0.9" />
<line x1="308.94" y1="2.60" x2="308.94" y2="4.10" stroke="#2b2b2b" stroke-width="0.8" />
<line x1="312.48" y1="155.40" x2="312.48" y2="157.20" stroke="#2b2b2b" stroke-width="0.9" />
<line x1="312.48" y1="2.60" x2="312.48" y2="4.10" stroke="#2b2b2b" stroke-width="0.8" />
<line x1="315.60" y1="155.40" x2="315.60" y2="157.20" stroke="#2b2b2b" stroke-width="0.9" />
<line x1="315.60" y1="2.60" x2="315.60" y2="4.10" stroke="#2b2b2b" stroke-width="0.8" />
<line x1="318.40" y1="155.40" x2="318.40" y2="158.60" stroke="#2b2b2b" stroke-width="0.9" />
<line x1="318.40" y1="2.60" x2="318.40" y2="5.20" stroke="#2b2b2b" stroke-width="0.8" />
<line x1="336.79" y1="155.40" x2="336.79" y2="157.20" stroke="#2b2b2b" stroke-width="0.9" />
<line x1="336.79" y1="2.60" x2="336.79" y2="4.10" stroke="#2b2b2b" stroke-width="0.8" />
<line x1="347.55" y1="155.40" x2="347.55" y2="157.20" stroke="#2b2b2b" stroke-width="0.9" />
<line x1="347.55" y1="2.60" x2="347.55" y2="4.10" stroke="#2b2b2b" stroke-width="0.8" />
<line x1="355.19" y1="155.40" x2="355.19" y2="157.20" stroke="#2b2b2b" stroke-width="0.9" />
<line x1="355.19" y1="2.60" x2="355.19" y2="4.10" stroke="#2b2b2b" stroke-width="0.8" />
<line x1="361.11" y1="155.40" x2="361.11" y2="157.20" stroke="#2b2b2b" stroke-width="0.9" />
<line x1="361.11" y1="2.60" x2="361.11" y2="4.10" stroke="#2b2b2b" stroke-width="0.8" />
<line x1="365.95" y1="155.40" x2="365.95" y2="157.20" stroke="#2b2b2b" stroke-width="0.9" />
<line x1="365.95" y1="2.60" x2="365.95" y2="4.10" stroke="#2b2b2b" stroke-width="0.8" />
<line x1="370.04" y1="155.40" x2="370.04" y2="157.20" stroke="#2b2b2b" stroke-width="0.9" />
<line x1="370.04" y1="2.60" x2="370.04" y2="4.10" stroke="#2b2b2b" stroke-width="0.8" />
<line x1="373.58" y1="155.40" x2="373.58" y2="157.20" stroke="#2b2b2b" stroke-width="0.9" />
<line x1="373.58" y1="2.60" x2="373.58" y2="4.10" stroke="#2b2b2b" stroke-width="0.8" />
<line x1="376.70" y1="155.40" x2="376.70" y2="157.20" stroke="#2b2b2b" stroke-width="0.9" />
<line x1="376.70" y1="2.60" x2="376.70" y2="4.10" stroke="#2b2b2b" stroke-width="0.8" />
<line x1="379.50" y1="155.40" x2="379.50" y2="158.60" stroke="#2b2b2b" stroke-width="0.9" />
<line x1="379.50" y1="2.60" x2="379.50" y2="5.20" stroke="#2b2b2b" stroke-width="0.8" />
<line x1="397.89" y1="155.40" x2="397.89" y2="157.20" stroke="#2b2b2b" stroke-width="0.9" />
<line x1="397.89" y1="2.60" x2="397.89" y2="4.10" stroke="#2b2b2b" stroke-width="0.8" />
<line x1="408.65" y1="155.40" x2="408.65" y2="157.20" stroke="#2b2b2b" stroke-width="0.9" />
<line x1="408.65" y1="2.60" x2="408.65" y2="4.10" stroke="#2b2b2b" stroke-width="0.8" />
<line x1="416.29" y1="155.40" x2="416.29" y2="157.20" stroke="#2b2b2b" stroke-width="0.9" />
<line x1="416.29" y1="2.60" x2="416.29" y2="4.10" stroke="#2b2b2b" stroke-width="0.8" />
<line x1="422.21" y1="155.40" x2="422.21" y2="157.20" stroke="#2b2b2b" stroke-width="0.9" />
<line x1="422.21" y1="2.60" x2="422.21" y2="4.10" stroke="#2b2b2b" stroke-width="0.8" />
<line x1="427.05" y1="155.40" x2="427.05" y2="157.20" stroke="#2b2b2b" stroke-width="0.9" />
<line x1="427.05" y1="2.60" x2="427.05" y2="4.10" stroke="#2b2b2b" stroke-width="0.8" />
<line x1="431.14" y1="155.40" x2="431.14" y2="157.20" stroke="#2b2b2b" stroke-width="0.9" />
<line x1="431.14" y1="2.60" x2="431.14" y2="4.10" stroke="#2b2b2b" stroke-width="0.8" />
<line x1="434.68" y1="155.40" x2="434.68" y2="157.20" stroke="#2b2b2b" stroke-width="0.9" />
<line x1="434.68" y1="2.60" x2="434.68" y2="4.10" stroke="#2b2b2b" stroke-width="0.8" />
<line x1="437.80" y1="155.40" x2="437.80" y2="157.20" stroke="#2b2b2b" stroke-width="0.9" />
<line x1="437.80" y1="2.60" x2="437.80" y2="4.10" stroke="#2b2b2b" stroke-width="0.8" />
<line x1="440.60" y1="155.40" x2="440.60" y2="158.60" stroke="#2b2b2b" stroke-width="0.9" />
<line x1="440.60" y1="2.60" x2="440.60" y2="5.20" stroke="#2b2b2b" stroke-width="0.8" />
<line x1="458.99" y1="155.40" x2="458.99" y2="157.20" stroke="#2b2b2b" stroke-width="0.9" />
<line x1="458.99" y1="2.60" x2="458.99" y2="4.10" stroke="#2b2b2b" stroke-width="0.8" />
<line x1="469.75" y1="155.40" x2="469.75" y2="157.20" stroke="#2b2b2b" stroke-width="0.9" />
<line x1="469.75" y1="2.60" x2="469.75" y2="4.10" stroke="#2b2b2b" stroke-width="0.8" />
<line x1="477.39" y1="155.40" x2="477.39" y2="157.20" stroke="#2b2b2b" stroke-width="0.9" />
<line x1="477.39" y1="2.60" x2="477.39" y2="4.10" stroke="#2b2b2b" stroke-width="0.8" />
<line x1="483.31" y1="155.40" x2="483.31" y2="157.20" stroke="#2b2b2b" stroke-width="0.9" />
<line x1="483.31" y1="2.60" x2="483.31" y2="4.10" stroke="#2b2b2b" stroke-width="0.8" />
<line x1="488.15" y1="155.40" x2="488.15" y2="157.20" stroke="#2b2b2b" stroke-width="0.9" />
<line x1="488.15" y1="2.60" x2="488.15" y2="4.10" stroke="#2b2b2b" stroke-width="0.8" />
<text x="295.20" y="49.70" font-size="8.6" font-weight="bold" text-anchor="end" >10000</text>
<text x="295.20" y="114.00" font-size="8.6" font-weight="bold" text-anchor="end" >1000</text>
<text x="499.20" y="43.80" font-size="8.6" font-weight="bold" text-anchor="start" >10000</text>
<text x="499.20" y="89.30" font-size="8.6" font-weight="bold" text-anchor="start" >1000</text>
<text x="499.20" y="134.80" font-size="8.6" font-weight="bold" text-anchor="start" >100</text>
<text x="318.40" y="167.20" font-size="8.8" font-weight="bold" text-anchor="middle" >1</text>
<text x="379.50" y="167.20" font-size="8.8" font-weight="bold" text-anchor="middle" >10</text>
<text x="440.60" y="167.20" font-size="8.8" font-weight="bold" text-anchor="middle" >100</text>
<text x="265.10" y="88.85" font-size="10.4" font-weight="bold" text-anchor="middle" transform="rotate(-90 265.10 88.85)" style="word-spacing:0.5px">G′ &amp; G″ (Pa)</text>
<text x="375.00" y="185.50" font-size="7.6" font-weight="bold" text-anchor="start" >ω</text>
<text x="383.80" y="185.70" font-size="10.9" font-weight="bold" text-anchor="start" >(rad s<tspan font-size="9.6" dy="-4.3" dx="0.4">-1</tspan><tspan dy="4.3" dx="0.5">)</tspan></text>
<text x="537.80" y="115.30" font-size="11" font-weight="bold" text-anchor="start" transform="rotate(-90 537.80 115.30)" >η</text>
<text x="537.80" y="108.00" font-size="11" font-weight="bold" text-anchor="start" transform="rotate(-90 537.80 108.00)" >*</text>
<text x="537.80" y="97.80" font-size="11" font-weight="bold" text-anchor="start" transform="rotate(-90 537.80 97.80) translate(537.80 97.80) scale(1.09 1) translate(-537.80 -97.80)" >(Pa.s)</text>
<text x="258.90" y="13.20" font-size="16" font-weight="bold" text-anchor="start" >(b)</text>
<polyline points="306.50,92.90 312.60,95.00 318.70,95.40 324.80,95.90 330.90,95.90 337.00,97.20 343.10,97.90 349.20,98.50 355.30,98.80 361.40,98.80 367.50,99.10 373.60,99.10 379.70,99.00 385.80,98.40 391.90,98.40 398.00,97.90 404.10,97.10 410.20,96.25 416.30,95.00 422.40,92.90 428.50,91.50 434.60,89.50 440.70,88.00 446.80,85.50 452.90,83.75 459.00,80.00 465.10,79.25 471.20,75.50 477.30,72.50 483.40,71.75 489.50,71.75" fill="none" stroke="#777" stroke-width="0.6" stroke-dasharray="1.2 1"/>
<polyline points="306.50,23.00 312.60,22.60 318.70,22.40 324.80,22.10 330.90,21.80 337.00,21.50 343.10,21.20 349.20,21.00 355.30,20.70 361.40,20.50 367.50,20.20 373.60,20.00 379.70,19.80 385.80,19.50 391.90,19.30 398.00,19.00 404.10,18.80 410.20,18.75 416.30,18.50 422.40,18.00 428.50,18.00 434.60,17.50 440.70,17.50 446.80,17.50 452.90,17.00 459.00,16.75 465.10,16.25 471.20,16.75 477.30,18.75 483.40,16.25 489.50,14.25" fill="none" stroke="#555" stroke-width="0.7" stroke-dasharray="1.5 1"/>
<polyline points="306.50,14.25 312.60,18.60 318.70,22.95 324.80,27.30 330.90,31.65 337.00,36.00 343.10,40.35 349.20,44.70 355.30,49.05 361.40,53.40 367.50,57.75 373.60,62.10 379.70,66.45 385.80,70.80 391.90,75.15 398.00,79.50 404.10,83.85 410.20,88.20 416.30,92.55 422.40,96.90 428.50,101.25 434.60,105.60 440.70,109.95 446.80,114.30 452.90,118.65 459.00,123.00 465.10,127.35 471.20,132.30 477.30,138.25 483.40,140.75 489.50,144.00" fill="none" stroke="#111" stroke-width="1.0" />
<rect x="305.00" y="91.40" width="3.00" height="3.00" fill="#fff" stroke="#000" stroke-width="0.85"/>
<rect x="311.10" y="93.50" width="3.00" height="3.00" fill="#fff" stroke="#000" stroke-width="0.85"/>
<rect x="317.20" y="93.90" width="3.00" height="3.00" fill="#fff" stroke="#000" stroke-width="0.85"/>
<rect x="323.30" y="94.40" width="3.00" height="3.00" fill="#fff" stroke="#000" stroke-width="0.85"/>
<rect x="329.40" y="94.40" width="3.00" height="3.00" fill="#fff" stroke="#000" stroke-width="0.85"/>
<rect x="335.50" y="95.70" width="3.00" height="3.00" fill="#fff" stroke="#000" stroke-width="0.85"/>
<rect x="341.60" y="96.40" width="3.00" height="3.00" fill="#fff" stroke="#000" stroke-width="0.85"/>
<rect x="347.70" y="97.00" width="3.00" height="3.00" fill="#fff" stroke="#000" stroke-width="0.85"/>
<rect x="353.80" y="97.30" width="3.00" height="3.00" fill="#fff" stroke="#000" stroke-width="0.85"/>
<rect x="359.90" y="97.30" width="3.00" height="3.00" fill="#fff" stroke="#000" stroke-width="0.85"/>
<rect x="366.00" y="97.60" width="3.00" height="3.00" fill="#fff" stroke="#000" stroke-width="0.85"/>
<rect x="372.10" y="97.60" width="3.00" height="3.00" fill="#fff" stroke="#000" stroke-width="0.85"/>
<rect x="378.20" y="97.50" width="3.00" height="3.00" fill="#fff" stroke="#000" stroke-width="0.85"/>
<rect x="384.30" y="96.90" width="3.00" height="3.00" fill="#fff" stroke="#000" stroke-width="0.85"/>
<rect x="390.40" y="96.90" width="3.00" height="3.00" fill="#fff" stroke="#000" stroke-width="0.85"/>
<rect x="396.50" y="96.40" width="3.00" height="3.00" fill="#fff" stroke="#000" stroke-width="0.85"/>
<rect x="402.60" y="95.60" width="3.00" height="3.00" fill="#fff" stroke="#000" stroke-width="0.85"/>
<rect x="408.70" y="94.75" width="3.00" height="3.00" fill="#fff" stroke="#000" stroke-width="0.85"/>
<rect x="414.80" y="93.50" width="3.00" height="3.00" fill="#fff" stroke="#000" stroke-width="0.85"/>
<rect x="420.90" y="91.40" width="3.00" height="3.00" fill="#fff" stroke="#000" stroke-width="0.85"/>
<rect x="427.00" y="90.00" width="3.00" height="3.00" fill="#fff" stroke="#000" stroke-width="0.85"/>
<rect x="433.10" y="88.00" width="3.00" height="3.00" fill="#fff" stroke="#000" stroke-width="0.85"/>
<rect x="439.20" y="86.50" width="3.00" height="3.00" fill="#fff" stroke="#000" stroke-width="0.85"/>
<rect x="445.30" y="84.00" width="3.00" height="3.00" fill="#fff" stroke="#000" stroke-width="0.85"/>
<rect x="451.40" y="82.25" width="3.00" height="3.00" fill="#fff" stroke="#000" stroke-width="0.85"/>
<rect x="457.50" y="78.50" width="3.00" height="3.00" fill="#fff" stroke="#000" stroke-width="0.85"/>
<rect x="463.60" y="77.75" width="3.00" height="3.00" fill="#fff" stroke="#000" stroke-width="0.85"/>
<rect x="469.70" y="74.00" width="3.00" height="3.00" fill="#fff" stroke="#000" stroke-width="0.85"/>
<rect x="475.80" y="71.00" width="3.00" height="3.00" fill="#fff" stroke="#000" stroke-width="0.85"/>
<rect x="481.90" y="70.25" width="3.00" height="3.00" fill="#fff" stroke="#000" stroke-width="0.85"/>
<rect x="488.00" y="70.25" width="3.00" height="3.00" fill="#fff" stroke="#000" stroke-width="0.85"/>
<rect x="305.05" y="21.55" width="2.90" height="2.90" fill="#000" stroke="none" stroke-width="0.7"/>
<rect x="311.15" y="21.15" width="2.90" height="2.90" fill="#000" stroke="none" stroke-width="0.7"/>
<rect x="317.25" y="20.95" width="2.90" height="2.90" fill="#000" stroke="none" stroke-width="0.7"/>
<rect x="323.35" y="20.65" width="2.90" height="2.90" fill="#000" stroke="none" stroke-width="0.7"/>
<rect x="329.45" y="20.35" width="2.90" height="2.90" fill="#000" stroke="none" stroke-width="0.7"/>
<rect x="335.55" y="20.05" width="2.90" height="2.90" fill="#000" stroke="none" stroke-width="0.7"/>
<rect x="341.65" y="19.75" width="2.90" height="2.90" fill="#000" stroke="none" stroke-width="0.7"/>
<rect x="347.75" y="19.55" width="2.90" height="2.90" fill="#000" stroke="none" stroke-width="0.7"/>
<rect x="353.85" y="19.25" width="2.90" height="2.90" fill="#000" stroke="none" stroke-width="0.7"/>
<rect x="359.95" y="19.05" width="2.90" height="2.90" fill="#000" stroke="none" stroke-width="0.7"/>
<rect x="366.05" y="18.75" width="2.90" height="2.90" fill="#000" stroke="none" stroke-width="0.7"/>
<rect x="372.15" y="18.55" width="2.90" height="2.90" fill="#000" stroke="none" stroke-width="0.7"/>
<rect x="378.25" y="18.35" width="2.90" height="2.90" fill="#000" stroke="none" stroke-width="0.7"/>
<rect x="384.35" y="18.05" width="2.90" height="2.90" fill="#000" stroke="none" stroke-width="0.7"/>
<rect x="390.45" y="17.85" width="2.90" height="2.90" fill="#000" stroke="none" stroke-width="0.7"/>
<rect x="396.55" y="17.55" width="2.90" height="2.90" fill="#000" stroke="none" stroke-width="0.7"/>
<rect x="402.65" y="17.35" width="2.90" height="2.90" fill="#000" stroke="none" stroke-width="0.7"/>
<rect x="408.75" y="17.30" width="2.90" height="2.90" fill="#000" stroke="none" stroke-width="0.7"/>
<rect x="414.85" y="17.05" width="2.90" height="2.90" fill="#000" stroke="none" stroke-width="0.7"/>
<rect x="420.95" y="16.55" width="2.90" height="2.90" fill="#000" stroke="none" stroke-width="0.7"/>
<rect x="427.05" y="16.55" width="2.90" height="2.90" fill="#000" stroke="none" stroke-width="0.7"/>
<rect x="433.15" y="16.05" width="2.90" height="2.90" fill="#000" stroke="none" stroke-width="0.7"/>
<rect x="439.25" y="16.05" width="2.90" height="2.90" fill="#000" stroke="none" stroke-width="0.7"/>
<rect x="445.35" y="16.05" width="2.90" height="2.90" fill="#000" stroke="none" stroke-width="0.7"/>
<rect x="451.45" y="15.55" width="2.90" height="2.90" fill="#000" stroke="none" stroke-width="0.7"/>
<rect x="457.55" y="15.30" width="2.90" height="2.90" fill="#000" stroke="none" stroke-width="0.7"/>
<rect x="463.65" y="14.80" width="2.90" height="2.90" fill="#000" stroke="none" stroke-width="0.7"/>
<rect x="469.75" y="15.30" width="2.90" height="2.90" fill="#000" stroke="none" stroke-width="0.7"/>
<rect x="475.85" y="17.30" width="2.90" height="2.90" fill="#000" stroke="none" stroke-width="0.7"/>
<rect x="481.95" y="14.80" width="2.90" height="2.90" fill="#000" stroke="none" stroke-width="0.7"/>
<rect x="488.05" y="12.80" width="2.90" height="2.90" fill="#000" stroke="none" stroke-width="0.7"/>
<circle cx="306.50" cy="14.25" r="1.70" fill="#000" stroke="none" stroke-width="0.7"/>
<circle cx="312.60" cy="18.60" r="1.70" fill="#000" stroke="none" stroke-width="0.7"/>
<circle cx="318.70" cy="22.95" r="1.70" fill="#000" stroke="none" stroke-width="0.7"/>
<circle cx="324.80" cy="27.30" r="1.70" fill="#000" stroke="none" stroke-width="0.7"/>
<circle cx="330.90" cy="31.65" r="1.70" fill="#000" stroke="none" stroke-width="0.7"/>
<circle cx="337.00" cy="36.00" r="1.70" fill="#000" stroke="none" stroke-width="0.7"/>
<circle cx="343.10" cy="40.35" r="1.70" fill="#000" stroke="none" stroke-width="0.7"/>
<circle cx="349.20" cy="44.70" r="1.70" fill="#000" stroke="none" stroke-width="0.7"/>
<circle cx="355.30" cy="49.05" r="1.70" fill="#000" stroke="none" stroke-width="0.7"/>
<circle cx="361.40" cy="53.40" r="1.70" fill="#000" stroke="none" stroke-width="0.7"/>
<circle cx="367.50" cy="57.75" r="1.70" fill="#000" stroke="none" stroke-width="0.7"/>
<circle cx="373.60" cy="62.10" r="1.70" fill="#000" stroke="none" stroke-width="0.7"/>
<circle cx="379.70" cy="66.45" r="1.70" fill="#000" stroke="none" stroke-width="0.7"/>
<circle cx="385.80" cy="70.80" r="1.70" fill="#000" stroke="none" stroke-width="0.7"/>
<circle cx="391.90" cy="75.15" r="1.70" fill="#000" stroke="none" stroke-width="0.7"/>
<circle cx="398.00" cy="79.50" r="1.70" fill="#000" stroke="none" stroke-width="0.7"/>
<circle cx="404.10" cy="83.85" r="1.70" fill="#000" stroke="none" stroke-width="0.7"/>
<circle cx="410.20" cy="88.20" r="1.70" fill="#000" stroke="none" stroke-width="0.7"/>
<circle cx="416.30" cy="92.55" r="1.70" fill="#000" stroke="none" stroke-width="0.7"/>
<circle cx="422.40" cy="96.90" r="1.70" fill="#000" stroke="none" stroke-width="0.7"/>
<circle cx="428.50" cy="101.25" r="1.70" fill="#000" stroke="none" stroke-width="0.7"/>
<circle cx="434.60" cy="105.60" r="1.70" fill="#000" stroke="none" stroke-width="0.7"/>
<circle cx="440.70" cy="109.95" r="1.70" fill="#000" stroke="none" stroke-width="0.7"/>
<circle cx="446.80" cy="114.30" r="1.70" fill="#000" stroke="none" stroke-width="0.7"/>
<circle cx="452.90" cy="118.65" r="1.70" fill="#000" stroke="none" stroke-width="0.7"/>
<circle cx="459.00" cy="123.00" r="1.70" fill="#000" stroke="none" stroke-width="0.7"/>
<circle cx="465.10" cy="127.35" r="1.70" fill="#000" stroke="none" stroke-width="0.7"/>
<circle cx="471.20" cy="132.30" r="1.70" fill="#000" stroke="none" stroke-width="0.7"/>
<circle cx="477.30" cy="138.25" r="1.70" fill="#000" stroke="none" stroke-width="0.7"/>
<circle cx="483.40" cy="140.75" r="1.70" fill="#000" stroke="none" stroke-width="0.7"/>
<circle cx="489.50" cy="144.00" r="1.70" fill="#000" stroke="none" stroke-width="0.7"/>
<line x1="311.00" y1="119.20" x2="320.80" y2="119.20" stroke="#444" stroke-width="0.8" stroke-dasharray="2 1"/>
<rect x="314.25" y="117.75" width="2.90" height="2.90" fill="#000" stroke="none" stroke-width="0.7"/>
<text x="323.80" y="122.30" font-size="8.7" font-weight="bold" text-anchor="start" >G′</text>
<line x1="311.00" y1="130.60" x2="320.80" y2="130.60" stroke="#444" stroke-width="0.8" stroke-dasharray="2 1"/>
<rect x="314.20" y="129.10" width="3.00" height="3.00" fill="#fff" stroke="#222" stroke-width="0.75"/>
<text x="323.80" y="133.70" font-size="8.7" font-weight="bold" text-anchor="start" >G<tspan font-size="6.5" dy="-2.2">″</tspan></text>
<line x1="311.00" y1="142.30" x2="320.80" y2="142.30" stroke="#111" stroke-width="1.0" />
<circle cx="315.70" cy="142.30" r="1.70" fill="#000" stroke="none" stroke-width="0.7"/>
<text x="323.80" y="145.40" font-size="8.7" font-weight="bold" text-anchor="start" >η*</text>
<line x1="51.00" y1="203.50" x2="237.30" y2="203.50" stroke="#2b2b2b" stroke-width="1.0" />
<line x1="237.30" y1="203.50" x2="237.30" y2="354.30" stroke="#2b2b2b" stroke-width="1.0" />
<line x1="51.00" y1="203.20" x2="51.00" y2="354.90" stroke="#2b2b2b" stroke-width="1.3" />
<line x1="50.40" y1="354.30" x2="237.80" y2="354.30" stroke="#2b2b2b" stroke-width="1.3" />
<line x1="47.80" y1="354.00" x2="51.00" y2="354.00" stroke="#2b2b2b" stroke-width="0.9" />
<line x1="49.30" y1="343.46" x2="51.00" y2="343.46" stroke="#2b2b2b" stroke-width="0.9" />
<line x1="49.30" y1="337.30" x2="51.00" y2="337.30" stroke="#2b2b2b" stroke-width="0.9" />
<line x1="49.30" y1="332.93" x2="51.00" y2="332.93" stroke="#2b2b2b" stroke-width="0.9" />
<line x1="49.30" y1="329.54" x2="51.00" y2="329.54" stroke="#2b2b2b" stroke-width="0.9" />
<line x1="49.30" y1="326.76" x2="51.00" y2="326.76" stroke="#2b2b2b" stroke-width="0.9" />
<line x1="49.30" y1="324.42" x2="51.00" y2="324.42" stroke="#2b2b2b" stroke-width="0.9" />
<line x1="49.30" y1="322.39" x2="51.00" y2="322.39" stroke="#2b2b2b" stroke-width="0.9" />
<line x1="49.30" y1="320.60" x2="51.00" y2="320.60" stroke="#2b2b2b" stroke-width="0.9" />
<line x1="47.80" y1="319.00" x2="51.00" y2="319.00" stroke="#2b2b2b" stroke-width="0.9" />
<line x1="49.30" y1="308.46" x2="51.00" y2="308.46" stroke="#2b2b2b" stroke-width="0.9" />
<line x1="49.30" y1="302.30" x2="51.00" y2="302.30" stroke="#2b2b2b" stroke-width="0.9" />
<line x1="49.30" y1="297.93" x2="51.00" y2="297.93" stroke="#2b2b2b" stroke-width="0.9" />
<line x1="49.30" y1="294.54" x2="51.00" y2="294.54" stroke="#2b2b2b" stroke-width="0.9" />
<line x1="49.30" y1="291.76" x2="51.00" y2="291.76" stroke="#2b2b2b" stroke-width="0.9" />
<line x1="49.30" y1="289.42" x2="51.00" y2="289.42" stroke="#2b2b2b" stroke-width="0.9" />
<line x1="49.30" y1="287.39" x2="51.00" y2="287.39" stroke="#2b2b2b" stroke-width="0.9" />
<line x1="49.30" y1="285.60" x2="51.00" y2="285.60" stroke="#2b2b2b" stroke-width="0.9" />
<line x1="47.80" y1="284.00" x2="51.00" y2="284.00" stroke="#2b2b2b" stroke-width="0.9" />
<line x1="49.30" y1="273.46" x2="51.00" y2="273.46" stroke="#2b2b2b" stroke-width="0.9" />
<line x1="49.30" y1="267.30" x2="51.00" y2="267.30" stroke="#2b2b2b" stroke-width="0.9" />
<line x1="49.30" y1="262.93" x2="51.00" y2="262.93" stroke="#2b2b2b" stroke-width="0.9" />
<line x1="49.30" y1="259.54" x2="51.00" y2="259.54" stroke="#2b2b2b" stroke-width="0.9" />
<line x1="49.30" y1="256.76" x2="51.00" y2="256.76" stroke="#2b2b2b" stroke-width="0.9" />
<line x1="49.30" y1="254.42" x2="51.00" y2="254.42" stroke="#2b2b2b" stroke-width="0.9" />
<line x1="49.30" y1="252.39" x2="51.00" y2="252.39" stroke="#2b2b2b" stroke-width="0.9" />
<line x1="49.30" y1="250.60" x2="51.00" y2="250.60" stroke="#2b2b2b" stroke-width="0.9" />
<line x1="47.80" y1="249.00" x2="51.00" y2="249.00" stroke="#2b2b2b" stroke-width="0.9" />
<line x1="49.30" y1="238.46" x2="51.00" y2="238.46" stroke="#2b2b2b" stroke-width="0.9" />
<line x1="49.30" y1="232.30" x2="51.00" y2="232.30" stroke="#2b2b2b" stroke-width="0.9" />
<line x1="49.30" y1="227.93" x2="51.00" y2="227.93" stroke="#2b2b2b" stroke-width="0.9" />
<line x1="49.30" y1="224.54" x2="51.00" y2="224.54" stroke="#2b2b2b" stroke-width="0.9" />
<line x1="49.30" y1="221.76" x2="51.00" y2="221.76" stroke="#2b2b2b" stroke-width="0.9" />
<line x1="49.30" y1="219.42" x2="51.00" y2="219.42" stroke="#2b2b2b" stroke-width="0.9" />
<line x1="49.30" y1="217.39" x2="51.00" y2="217.39" stroke="#2b2b2b" stroke-width="0.9" />
<line x1="49.30" y1="215.60" x2="51.00" y2="215.60" stroke="#2b2b2b" stroke-width="0.9" />
<line x1="47.80" y1="214.00" x2="51.00" y2="214.00" stroke="#2b2b2b" stroke-width="0.9" />
<line x1="69.60" y1="354.30" x2="69.60" y2="356.10" stroke="#2b2b2b" stroke-width="0.9" />
<line x1="87.90" y1="354.30" x2="87.90" y2="357.50" stroke="#2b2b2b" stroke-width="0.9" />
<line x1="106.20" y1="354.30" x2="106.20" y2="356.10" stroke="#2b2b2b" stroke-width="0.9" />
<line x1="124.50" y1="354.30" x2="124.50" y2="357.50" stroke="#2b2b2b" stroke-width="0.9" />
<line x1="142.80" y1="354.30" x2="142.80" y2="356.10" stroke="#2b2b2b" stroke-width="0.9" />
<line x1="161.10" y1="354.30" x2="161.10" y2="357.50" stroke="#2b2b2b" stroke-width="0.9" />
<line x1="179.40" y1="354.30" x2="179.40" y2="356.10" stroke="#2b2b2b" stroke-width="0.9" />
<line x1="197.70" y1="354.30" x2="197.70" y2="357.50" stroke="#2b2b2b" stroke-width="0.9" />
<line x1="216.00" y1="354.30" x2="216.00" y2="356.10" stroke="#2b2b2b" stroke-width="0.9" />
<line x1="234.30" y1="354.30" x2="234.30" y2="357.50" stroke="#2b2b2b" stroke-width="0.9" />
<text x="43.40" y="217.10" font-size="8.7" font-weight="bold" text-anchor="end" transform="translate(43.40 217.10) scale(0.9 1) translate(-43.40 -217.10)" >1000</text>
<text x="43.40" y="252.10" font-size="8.7" font-weight="bold" text-anchor="end" transform="translate(43.40 252.10) scale(0.9 1) translate(-43.40 -252.10)" >100</text>
<text x="43.40" y="287.10" font-size="8.7" font-weight="bold" text-anchor="end" transform="translate(43.40 287.10) scale(0.9 1) translate(-43.40 -287.10)" >10</text>
<text x="43.40" y="322.10" font-size="8.7" font-weight="bold" text-anchor="end" transform="translate(43.40 322.10) scale(0.9 1) translate(-43.40 -322.10)" >1</text>
<text x="43.40" y="357.10" font-size="8.7" font-weight="bold" text-anchor="end" transform="translate(43.40 357.10) scale(0.9 1) translate(-43.40 -357.10)" >0,1</text>
<text x="87.60" y="368.20" font-size="8.6" font-weight="bold" text-anchor="middle" >10</text>
<text x="124.20" y="368.20" font-size="8.6" font-weight="bold" text-anchor="middle" >20</text>
<text x="160.80" y="368.20" font-size="8.6" font-weight="bold" text-anchor="middle" >30</text>
<text x="197.40" y="368.20" font-size="8.6" font-weight="bold" text-anchor="middle" >40</text>
<text x="234.00" y="368.20" font-size="8.6" font-weight="bold" text-anchor="middle" >50</text>
<text x="12.30" y="278.10" font-size="11.15" font-weight="bold" text-anchor="middle" transform="rotate(-90 12.30 278.10)" >Viscosity (Pa.s)</text>
<text x="106.00" y="382.70" font-size="11.05" font-weight="bold" text-anchor="start" >Shear rate (s<tspan dx="1.2" dy="0.6">¨</tspan><tspan dx="1.0" dy="-0.6">)</tspan></text>
<text x="0.70" y="205.80" font-size="16" font-weight="bold" text-anchor="start" >(c)</text>
<polygon points="55.00,263.40 57.20,265.60 55.00,267.80 52.80,265.60" fill="#000" stroke="none" stroke-width="0.7"/>
<polygon points="59.06,278.60 61.26,280.80 59.06,283.00 56.86,280.80" fill="#000" stroke="none" stroke-width="0.7"/>
<polygon points="63.12,286.60 65.32,288.80 63.12,291.00 60.92,288.80" fill="#000" stroke="none" stroke-width="0.7"/>
<polygon points="67.18,292.40 69.38,294.60 67.18,296.80 64.98,294.60" fill="#000" stroke="none" stroke-width="0.7"/>
<polygon points="71.24,296.10 73.44,298.30 71.24,300.50 69.04,298.30" fill="#000" stroke="none" stroke-width="0.7"/>
<polygon points="75.30,299.00 77.50,301.20 75.30,303.40 73.10,301.20" fill="#000" stroke="none" stroke-width="0.7"/>
<polygon points="79.36,301.60 81.56,303.80 79.36,306.00 77.16,303.80" fill="#000" stroke="none" stroke-width="0.7"/>
<polygon points="83.42,303.80 85.62,306.00 83.42,308.20 81.22,306.00" fill="#000" stroke="none" stroke-width="0.7"/>
<polygon points="87.48,305.50 89.68,307.70 87.48,309.90 85.28,307.70" fill="#000" stroke="none" stroke-width="0.7"/>
<polygon points="91.54,307.10 93.74,309.30 91.54,311.50 89.34,309.30" fill="#000" stroke="none" stroke-width="0.7"/>
<polygon points="95.60,308.35 97.80,310.55 95.60,312.75 93.40,310.55" fill="#000" stroke="none" stroke-width="0.7"/>
<polygon points="99.66,309.50 101.86,311.70 99.66,313.90 97.46,311.70" fill="#000" stroke="none" stroke-width="0.7"/>
<polygon points="103.72,310.73 105.92,312.93 103.72,315.13 101.52,312.93" fill="#000" stroke="none" stroke-width="0.7"/>
<polygon points="107.78,311.87 109.98,314.07 107.78,316.27 105.58,314.07" fill="#000" stroke="none" stroke-width="0.7"/>
<polygon points="111.84,312.93 114.04,315.13 111.84,317.33 109.64,315.13" fill="#000" stroke="none" stroke-width="0.7"/>
<polygon points="115.90,313.93 118.10,316.13 115.90,318.33 113.70,316.13" fill="#000" stroke="none" stroke-width="0.7"/>
<polygon points="119.96,314.86 122.16,317.06 119.96,319.26 117.76,317.06" fill="#000" stroke="none" stroke-width="0.7"/>
<polygon points="124.02,315.74 126.22,317.94 124.02,320.14 121.82,317.94" fill="#000" stroke="none" stroke-width="0.7"/>
<polygon points="128.08,316.58 130.28,318.78 128.08,320.98 125.88,318.78" fill="#000" stroke="none" stroke-width="0.7"/>
<polygon points="132.14,317.37 134.34,319.57 132.14,321.77 129.94,319.57" fill="#000" stroke="none" stroke-width="0.7"/>
<polygon points="136.20,318.13 138.40,320.33 136.20,322.53 134.00,320.33" fill="#000" stroke="none" stroke-width="0.7"/>
<polygon points="140.26,318.84 142.46,321.04 140.26,323.24 138.06,321.04" fill="#000" stroke="none" stroke-width="0.7"/>
<polygon points="144.32,319.41 146.52,321.61 144.32,323.81 142.12,321.61" fill="#000" stroke="none" stroke-width="0.7"/>
<polygon points="148.38,319.96 150.58,322.16 148.38,324.36 146.18,322.16" fill="#000" stroke="none" stroke-width="0.7"/>
<polygon points="152.44,320.49 154.64,322.69 152.44,324.89 150.24,322.69" fill="#000" stroke="none" stroke-width="0.7"/>
<polygon points="156.50,321.00 158.70,323.20 156.50,325.40 154.30,323.20" fill="#000" stroke="none" stroke-width="0.7"/>
<polygon points="160.56,321.49 162.76,323.69 160.56,325.89 158.36,323.69" fill="#000" stroke="none" stroke-width="0.7"/>
<polygon points="164.62,322.27 166.82,324.47 164.62,326.67 162.42,324.47" fill="#000" stroke="none" stroke-width="0.7"/>
<polygon points="168.68,323.07 170.88,325.27 168.68,327.47 166.48,325.27" fill="#000" stroke="none" stroke-width="0.7"/>
<polygon points="172.74,323.76 174.94,325.96 172.74,328.16 170.54,325.96" fill="#000" stroke="none" stroke-width="0.7"/>
<polygon points="176.80,324.07 179.00,326.27 176.80,328.47 174.60,326.27" fill="#000" stroke="none" stroke-width="0.7"/>
<polygon points="180.86,324.38 183.06,326.58 180.86,328.78 178.66,326.58" fill="#000" stroke="none" stroke-width="0.7"/>
<polygon points="184.92,324.67 187.12,326.87 184.92,329.07 182.72,326.87" fill="#000" stroke="none" stroke-width="0.7"/>
<polygon points="188.98,325.11 191.18,327.31 188.98,329.51 186.78,327.31" fill="#000" stroke="none" stroke-width="0.7"/>
<polygon points="193.04,325.65 195.24,327.85 193.04,330.05 190.84,327.85" fill="#000" stroke="none" stroke-width="0.7"/>
<polygon points="197.10,326.17 199.30,328.37 197.10,330.57 194.90,328.37" fill="#000" stroke="none" stroke-width="0.7"/>
<polygon points="201.16,326.68 203.36,328.88 201.16,331.08 198.96,328.88" fill="#000" stroke="none" stroke-width="0.7"/>
<polygon points="205.22,327.17 207.42,329.37 205.22,331.57 203.02,329.37" fill="#000" stroke="none" stroke-width="0.7"/>
<polygon points="209.28,327.66 211.48,329.86 209.28,332.06 207.08,329.86" fill="#000" stroke="none" stroke-width="0.7"/>
<polygon points="213.34,328.05 215.54,330.25 213.34,332.45 211.14,330.25" fill="#000" stroke="none" stroke-width="0.7"/>
<polygon points="217.40,328.39 219.60,330.59 217.40,332.79 215.20,330.59" fill="#000" stroke="none" stroke-width="0.7"/>
<polygon points="221.46,328.73 223.66,330.93 221.46,333.13 219.26,330.93" fill="#000" stroke="none" stroke-width="0.7"/>
<polygon points="225.52,329.06 227.72,331.26 225.52,333.46 223.32,331.26" fill="#000" stroke="none" stroke-width="0.7"/>
<polygon points="229.58,329.39 231.78,331.59 229.58,333.79 227.38,331.59" fill="#000" stroke="none" stroke-width="0.7"/>
<polygon points="233.64,329.70 235.84,331.90 233.64,334.10 231.44,331.90" fill="#000" stroke="none" stroke-width="0.7"/>
<polygon points="55.00,251.04 55.59,252.63 57.28,252.70 55.96,253.75 56.41,255.38 55.00,254.45 53.59,255.38 54.04,253.75 52.72,252.70 54.41,252.63" fill="#000" stroke="none" stroke-width="0.7"/>
<polygon points="59.06,268.09 59.65,269.68 61.34,269.75 60.02,270.80 60.47,272.43 59.06,271.50 57.65,272.43 58.10,270.80 56.78,269.75 58.47,269.68" fill="#000" stroke="none" stroke-width="0.7"/>
<polygon points="63.12,276.29 63.71,277.88 65.40,277.95 64.08,279.00 64.53,280.63 63.12,279.70 61.71,280.63 62.16,279.00 60.84,277.95 62.53,277.88" fill="#000" stroke="none" stroke-width="0.7"/>
<polygon points="67.18,282.99 67.77,284.58 69.46,284.65 68.14,285.70 68.59,287.33 67.18,286.40 65.77,287.33 66.22,285.70 64.90,284.65 66.59,284.58" fill="#000" stroke="none" stroke-width="0.7"/>
<polygon points="71.24,287.29 71.83,288.88 73.52,288.95 72.20,290.00 72.65,291.63 71.24,290.70 69.83,291.63 70.28,290.00 68.96,288.95 70.65,288.88" fill="#000" stroke="none" stroke-width="0.7"/>
<polygon points="75.30,291.29 75.89,292.88 77.58,292.95 76.26,294.00 76.71,295.63 75.30,294.70 73.89,295.63 74.34,294.00 73.02,292.95 74.71,292.88" fill="#000" stroke="none" stroke-width="0.7"/>
<polygon points="79.36,294.09 79.95,295.68 81.64,295.75 80.32,296.80 80.77,298.43 79.36,297.50 77.95,298.43 78.40,296.80 77.08,295.75 78.77,295.68" fill="#000" stroke="none" stroke-width="0.7"/>
<polygon points="83.42,296.29 84.01,297.88 85.70,297.95 84.38,299.00 84.83,300.63 83.42,299.70 82.01,300.63 82.46,299.00 81.14,297.95 82.83,297.88" fill="#000" stroke="none" stroke-width="0.7"/>
<polygon points="87.48,297.59 88.07,299.18 89.76,299.25 88.44,300.30 88.89,301.93 87.48,301.00 86.07,301.93 86.52,300.30 85.20,299.25 86.89,299.18" fill="#000" stroke="none" stroke-width="0.7"/>
<polygon points="91.54,299.59 92.13,301.18 93.82,301.25 92.50,302.30 92.95,303.93 91.54,303.00 90.13,303.93 90.58,302.30 89.26,301.25 90.95,301.18" fill="#000" stroke="none" stroke-width="0.7"/>
<polygon points="95.60,301.00 96.19,302.59 97.88,302.66 96.56,303.71 97.01,305.34 95.60,304.41 94.19,305.34 94.64,303.71 93.32,302.66 95.01,302.59" fill="#000" stroke="none" stroke-width="0.7"/>
<polygon points="99.66,302.29 100.25,303.88 101.94,303.95 100.62,305.00 101.07,306.63 99.66,305.70 98.25,306.63 98.70,305.00 97.38,303.95 99.07,303.88" fill="#000" stroke="none" stroke-width="0.7"/>
<polygon points="103.72,303.57 104.31,305.16 106.00,305.23 104.68,306.29 105.13,307.92 103.72,306.98 102.31,307.92 102.76,306.29 101.44,305.23 103.13,305.16" fill="#000" stroke="none" stroke-width="0.7"/>
<polygon points="107.78,304.76 108.37,306.35 110.06,306.42 108.74,307.47 109.19,309.10 107.78,308.17 106.37,309.10 106.82,307.47 105.50,306.42 107.19,306.35" fill="#000" stroke="none" stroke-width="0.7"/>
<polygon points="111.84,305.87 112.43,307.45 114.12,307.53 112.80,308.58 113.25,310.21 111.84,309.28 110.43,310.21 110.88,308.58 109.56,307.53 111.25,307.45" fill="#000" stroke="none" stroke-width="0.7"/>
<polygon points="115.90,306.91 116.49,308.49 118.18,308.57 116.86,309.62 117.31,311.25 115.90,310.32 114.49,311.25 114.94,309.62 113.62,308.57 115.31,308.49" fill="#000" stroke="none" stroke-width="0.7"/>
<polygon points="119.96,307.88 120.55,309.47 122.24,309.54 120.92,310.59 121.37,312.22 119.96,311.29 118.55,312.22 119.00,310.59 117.68,309.54 119.37,309.47" fill="#000" stroke="none" stroke-width="0.7"/>
<polygon points="124.02,308.80 124.61,310.39 126.30,310.46 124.98,311.51 125.43,313.14 124.02,312.21 122.61,313.14 123.06,311.51 121.74,310.46 123.43,310.39" fill="#000" stroke="none" stroke-width="0.7"/>
<polygon points="128.08,309.67 128.67,311.26 130.36,311.33 129.04,312.39 129.49,314.02 128.08,313.08 126.67,314.02 127.12,312.39 125.80,311.33 127.49,311.26" fill="#000" stroke="none" stroke-width="0.7"/>
<polygon points="132.14,310.50 132.73,312.09 134.42,312.16 133.10,313.21 133.55,314.84 132.14,313.91 130.73,314.84 131.18,313.21 129.86,312.16 131.55,312.09" fill="#000" stroke="none" stroke-width="0.7"/>
<polygon points="136.20,311.29 136.79,312.87 138.48,312.95 137.16,314.00 137.61,315.63 136.20,314.70 134.79,315.63 135.24,314.00 133.92,312.95 135.61,312.87" fill="#000" stroke="none" stroke-width="0.7"/>
<polygon points="140.26,312.05 140.85,313.64 142.54,313.71 141.22,314.77 141.67,316.40 140.26,315.46 138.85,316.40 139.30,314.77 137.98,313.71 139.67,313.64" fill="#000" stroke="none" stroke-width="0.7"/>
<polygon points="144.32,313.00 144.91,314.59 146.60,314.66 145.28,315.72 145.73,317.35 144.32,316.41 142.91,317.35 143.36,315.72 142.04,314.66 143.73,314.59" fill="#000" stroke="none" stroke-width="0.7"/>
<polygon points="148.38,313.92 148.97,315.50 150.66,315.57 149.34,316.63 149.79,318.26 148.38,317.32 146.97,318.26 147.42,316.63 146.10,315.57 147.79,315.50" fill="#000" stroke="none" stroke-width="0.7"/>
<polygon points="152.44,314.79 153.03,316.37 154.72,316.45 153.40,317.50 153.85,319.13 152.44,318.20 151.03,319.13 151.48,317.50 150.16,316.45 151.85,316.37" fill="#000" stroke="none" stroke-width="0.7"/>
<polygon points="156.50,315.63 157.09,317.21 158.78,317.29 157.46,318.34 157.91,319.97 156.50,319.04 155.09,319.97 155.54,318.34 154.22,317.29 155.91,317.21" fill="#000" stroke="none" stroke-width="0.7"/>
<polygon points="160.56,316.44 161.15,318.02 162.84,318.10 161.52,319.15 161.97,320.78 160.56,319.84 159.15,320.78 159.60,319.15 158.28,318.10 159.97,318.02" fill="#000" stroke="none" stroke-width="0.7"/>
<polygon points="164.62,317.06 165.21,318.64 166.90,318.72 165.58,319.77 166.03,321.40 164.62,320.47 163.21,321.40 163.66,319.77 162.34,318.72 164.03,318.64" fill="#000" stroke="none" stroke-width="0.7"/>
<polygon points="168.68,317.64 169.27,319.22 170.96,319.29 169.64,320.35 170.09,321.98 168.68,321.04 167.27,321.98 167.72,320.35 166.40,319.29 168.09,319.22" fill="#000" stroke="none" stroke-width="0.7"/>
<polygon points="172.74,318.21 173.33,319.79 175.02,319.87 173.70,320.92 174.15,322.55 172.74,321.62 171.33,322.55 171.78,320.92 170.46,319.87 172.15,319.79" fill="#000" stroke="none" stroke-width="0.7"/>
<polygon points="176.80,318.84 177.39,320.42 179.08,320.50 177.76,321.55 178.21,323.18 176.80,322.25 175.39,323.18 175.84,321.55 174.52,320.50 176.21,320.42" fill="#000" stroke="none" stroke-width="0.7"/>
<polygon points="180.86,319.45 181.45,321.03 183.14,321.11 181.82,322.16 182.27,323.79 180.86,322.86 179.45,323.79 179.90,322.16 178.58,321.11 180.27,321.03" fill="#000" stroke="none" stroke-width="0.7"/>
<polygon points="184.92,320.04 185.51,321.62 187.20,321.70 185.88,322.75 186.33,324.38 184.92,323.45 183.51,324.38 183.96,322.75 182.64,321.70 184.33,321.62" fill="#000" stroke="none" stroke-width="0.7"/>
<polygon points="188.98,320.60 189.57,322.19 191.26,322.26 189.94,323.31 190.39,324.94 188.98,324.01 187.57,324.94 188.02,323.31 186.70,322.26 188.39,322.19" fill="#000" stroke="none" stroke-width="0.7"/>
<polygon points="193.04,321.14 193.63,322.72 195.32,322.80 194.00,323.85 194.45,325.48 193.04,324.55 191.63,325.48 192.08,323.85 190.76,322.80 192.45,322.72" fill="#000" stroke="none" stroke-width="0.7"/>
<polygon points="197.10,321.66 197.69,323.25 199.38,323.32 198.06,324.37 198.51,326.00 197.10,325.07 195.69,326.00 196.14,324.37 194.82,323.32 196.51,323.25" fill="#000" stroke="none" stroke-width="0.7"/>
<polygon points="201.16,322.17 201.75,323.76 203.44,323.83 202.12,324.88 202.57,326.51 201.16,325.58 199.75,326.51 200.20,324.88 198.88,323.83 200.57,323.76" fill="#000" stroke="none" stroke-width="0.7"/>
<polygon points="205.22,322.67 205.81,324.25 207.50,324.33 206.18,325.38 206.63,327.01 205.22,326.07 203.81,327.01 204.26,325.38 202.94,324.33 204.63,324.25" fill="#000" stroke="none" stroke-width="0.7"/>
<polygon points="209.28,323.15 209.87,324.73 211.56,324.81 210.24,325.86 210.69,327.49 209.28,326.56 207.87,327.49 208.32,325.86 207.00,324.81 208.69,324.73" fill="#000" stroke="none" stroke-width="0.7"/>
<polygon points="213.34,323.53 213.93,325.11 215.62,325.19 214.30,326.24 214.75,327.87 213.34,326.93 211.93,327.87 212.38,326.24 211.06,325.19 212.75,325.11" fill="#000" stroke="none" stroke-width="0.7"/>
<polygon points="217.40,323.86 217.99,325.44 219.68,325.51 218.36,326.57 218.81,328.20 217.40,327.26 215.99,328.20 216.44,326.57 215.12,325.51 216.81,325.44" fill="#000" stroke="none" stroke-width="0.7"/>
<polygon points="221.46,324.18 222.05,325.76 223.74,325.83 222.42,326.89 222.87,328.52 221.46,327.58 220.05,328.52 220.50,326.89 219.18,325.83 220.87,325.76" fill="#000" stroke="none" stroke-width="0.7"/>
<polygon points="225.52,324.49 226.11,326.07 227.80,326.15 226.48,327.20 226.93,328.83 225.52,327.90 224.11,328.83 224.56,327.20 223.24,326.15 224.93,326.07" fill="#000" stroke="none" stroke-width="0.7"/>
<polygon points="229.58,324.80 230.17,326.38 231.86,326.45 230.54,327.51 230.99,329.14 229.58,328.20 228.17,329.14 228.62,327.51 227.30,326.45 228.99,326.38" fill="#000" stroke="none" stroke-width="0.7"/>
<polygon points="233.64,325.09 234.23,326.68 235.92,326.75 234.60,327.80 235.05,329.43 233.64,328.50 232.23,329.43 232.68,327.80 231.36,326.75 233.05,326.68" fill="#000" stroke="none" stroke-width="0.7"/>
<circle cx="55.00" cy="235.75" r="2.00" fill="#000" stroke="none" stroke-width="0.7"/>
<circle cx="59.06" cy="251.50" r="2.00" fill="#000" stroke="none" stroke-width="0.7"/>
<circle cx="63.12" cy="261.50" r="2.00" fill="#000" stroke="none" stroke-width="0.7"/>
<circle cx="67.18" cy="269.30" r="2.00" fill="#000" stroke="none" stroke-width="0.7"/>
<circle cx="71.24" cy="275.00" r="2.00" fill="#000" stroke="none" stroke-width="0.7"/>
<circle cx="75.30" cy="278.80" r="2.00" fill="#000" stroke="none" stroke-width="0.7"/>
<circle cx="79.36" cy="282.90" r="2.00" fill="#000" stroke="none" stroke-width="0.7"/>
<circle cx="83.42" cy="285.30" r="2.00" fill="#000" stroke="none" stroke-width="0.7"/>
<circle cx="87.48" cy="287.30" r="2.00" fill="#000" stroke="none" stroke-width="0.7"/>
<circle cx="91.54" cy="289.10" r="2.00" fill="#000" stroke="none" stroke-width="0.7"/>
<circle cx="95.60" cy="290.56" r="2.00" fill="#000" stroke="none" stroke-width="0.7"/>
<circle cx="99.66" cy="291.90" r="2.00" fill="#000" stroke="none" stroke-width="0.7"/>
<circle cx="103.72" cy="293.30" r="2.00" fill="#000" stroke="none" stroke-width="0.7"/>
<circle cx="107.78" cy="294.60" r="2.00" fill="#000" stroke="none" stroke-width="0.7"/>
<circle cx="111.84" cy="295.99" r="2.00" fill="#000" stroke="none" stroke-width="0.7"/>
<circle cx="115.90" cy="297.30" r="2.00" fill="#000" stroke="none" stroke-width="0.7"/>
<circle cx="119.96" cy="298.99" r="2.00" fill="#000" stroke="none" stroke-width="0.7"/>
<circle cx="124.02" cy="300.57" r="2.00" fill="#000" stroke="none" stroke-width="0.7"/>
<circle cx="128.08" cy="301.87" r="2.00" fill="#000" stroke="none" stroke-width="0.7"/>
<circle cx="132.14" cy="303.11" r="2.00" fill="#000" stroke="none" stroke-width="0.7"/>
<circle cx="136.20" cy="304.27" r="2.00" fill="#000" stroke="none" stroke-width="0.7"/>
<circle cx="140.26" cy="305.19" r="2.00" fill="#000" stroke="none" stroke-width="0.7"/>
<circle cx="144.32" cy="306.06" r="2.00" fill="#000" stroke="none" stroke-width="0.7"/>
<circle cx="148.38" cy="306.75" r="2.00" fill="#000" stroke="none" stroke-width="0.7"/>
<circle cx="152.44" cy="307.41" r="2.00" fill="#000" stroke="none" stroke-width="0.7"/>
<circle cx="156.50" cy="308.05" r="2.00" fill="#000" stroke="none" stroke-width="0.7"/>
<circle cx="160.56" cy="308.67" r="2.00" fill="#000" stroke="none" stroke-width="0.7"/>
<circle cx="164.62" cy="309.10" r="2.00" fill="#000" stroke="none" stroke-width="0.7"/>
<circle cx="168.68" cy="309.49" r="2.00" fill="#000" stroke="none" stroke-width="0.7"/>
<circle cx="172.74" cy="309.92" r="2.00" fill="#000" stroke="none" stroke-width="0.7"/>
<circle cx="176.80" cy="310.55" r="2.00" fill="#000" stroke="none" stroke-width="0.7"/>
<circle cx="180.86" cy="311.16" r="2.00" fill="#000" stroke="none" stroke-width="0.7"/>
<circle cx="184.92" cy="311.75" r="2.00" fill="#000" stroke="none" stroke-width="0.7"/>
<circle cx="188.98" cy="312.23" r="2.00" fill="#000" stroke="none" stroke-width="0.7"/>
<circle cx="193.04" cy="312.64" r="2.00" fill="#000" stroke="none" stroke-width="0.7"/>
<circle cx="197.10" cy="313.03" r="2.00" fill="#000" stroke="none" stroke-width="0.7"/>
<circle cx="201.16" cy="313.41" r="2.00" fill="#000" stroke="none" stroke-width="0.7"/>
<circle cx="205.22" cy="313.78" r="2.00" fill="#000" stroke="none" stroke-width="0.7"/>
<circle cx="209.28" cy="314.14" r="2.00" fill="#000" stroke="none" stroke-width="0.7"/>
<circle cx="213.34" cy="314.61" r="2.00" fill="#000" stroke="none" stroke-width="0.7"/>
<circle cx="217.40" cy="315.11" r="2.00" fill="#000" stroke="none" stroke-width="0.7"/>
<circle cx="221.46" cy="315.60" r="2.00" fill="#000" stroke="none" stroke-width="0.7"/>
<circle cx="225.52" cy="316.08" r="2.00" fill="#000" stroke="none" stroke-width="0.7"/>
<circle cx="229.58" cy="316.55" r="2.00" fill="#000" stroke="none" stroke-width="0.7"/>
<circle cx="233.64" cy="317.00" r="2.00" fill="#000" stroke="none" stroke-width="0.7"/>
<polygon points="55.00,208.30 52.70,212.53 57.30,212.53" fill="#000" stroke="none" stroke-width="0.7" stroke-linejoin="miter"/>
<polygon points="59.06,221.05 56.76,225.28 61.36,225.28" fill="#000" stroke="none" stroke-width="0.7" stroke-linejoin="miter"/>
<polygon points="63.12,229.80 60.82,234.03 65.42,234.03" fill="#000" stroke="none" stroke-width="0.7" stroke-linejoin="miter"/>
<polygon points="67.18,236.05 64.88,240.28 69.48,240.28" fill="#000" stroke="none" stroke-width="0.7" stroke-linejoin="miter"/>
<polygon points="71.24,241.05 68.94,245.28 73.54,245.28" fill="#000" stroke="none" stroke-width="0.7" stroke-linejoin="miter"/>
<polygon points="75.30,244.80 73.00,249.03 77.60,249.03" fill="#000" stroke="none" stroke-width="0.7" stroke-linejoin="miter"/>
<polygon points="79.36,247.80 77.06,252.03 81.66,252.03" fill="#000" stroke="none" stroke-width="0.7" stroke-linejoin="miter"/>
<polygon points="83.42,250.80 81.12,255.03 85.72,255.03" fill="#000" stroke="none" stroke-width="0.7" stroke-linejoin="miter"/>
<polygon points="87.48,253.30 85.18,257.53 89.78,257.53" fill="#000" stroke="none" stroke-width="0.7" stroke-linejoin="miter"/>
<polygon points="91.54,255.30 89.24,259.53 93.84,259.53" fill="#000" stroke="none" stroke-width="0.7" stroke-linejoin="miter"/>
<polygon points="95.60,257.30 93.30,261.53 97.90,261.53" fill="#000" stroke="none" stroke-width="0.7" stroke-linejoin="miter"/>
<polygon points="99.66,259.05 97.36,263.28 101.96,263.28" fill="#000" stroke="none" stroke-width="0.7" stroke-linejoin="miter"/>
<polygon points="103.72,260.30 101.42,264.53 106.02,264.53" fill="#000" stroke="none" stroke-width="0.7" stroke-linejoin="miter"/>
<polygon points="107.78,261.55 105.48,265.78 110.08,265.78" fill="#000" stroke="none" stroke-width="0.7" stroke-linejoin="miter"/>
<polygon points="111.84,264.05 109.54,268.28 114.14,268.28" fill="#000" stroke="none" stroke-width="0.7" stroke-linejoin="miter"/>
<polygon points="115.90,265.30 113.60,269.53 118.20,269.53" fill="#000" stroke="none" stroke-width="0.7" stroke-linejoin="miter"/>
<polygon points="119.96,266.55 117.66,270.78 122.26,270.78" fill="#000" stroke="none" stroke-width="0.7" stroke-linejoin="miter"/>
<polygon points="124.02,268.14 121.72,272.37 126.32,272.37" fill="#000" stroke="none" stroke-width="0.7" stroke-linejoin="miter"/>
<polygon points="128.08,269.64 125.78,273.88 130.38,273.88" fill="#000" stroke="none" stroke-width="0.7" stroke-linejoin="miter"/>
<polygon points="132.14,271.08 129.84,275.31 134.44,275.31" fill="#000" stroke="none" stroke-width="0.7" stroke-linejoin="miter"/>
<polygon points="136.20,272.44 133.90,276.67 138.50,276.67" fill="#000" stroke="none" stroke-width="0.7" stroke-linejoin="miter"/>
<polygon points="140.26,273.38 137.96,277.62 142.56,277.62" fill="#000" stroke="none" stroke-width="0.7" stroke-linejoin="miter"/>
<polygon points="144.32,274.16 142.02,278.39 146.62,278.39" fill="#000" stroke="none" stroke-width="0.7" stroke-linejoin="miter"/>
<polygon points="148.38,274.90 146.08,279.13 150.68,279.13" fill="#000" stroke="none" stroke-width="0.7" stroke-linejoin="miter"/>
<polygon points="152.44,275.61 150.14,279.85 154.74,279.85" fill="#000" stroke="none" stroke-width="0.7" stroke-linejoin="miter"/>
<polygon points="156.50,276.30 154.20,280.53 158.80,280.53" fill="#000" stroke="none" stroke-width="0.7" stroke-linejoin="miter"/>
<polygon points="160.56,276.96 158.26,281.19 162.86,281.19" fill="#000" stroke="none" stroke-width="0.7" stroke-linejoin="miter"/>
<polygon points="164.62,277.57 162.32,281.80 166.92,281.80" fill="#000" stroke="none" stroke-width="0.7" stroke-linejoin="miter"/>
<polygon points="168.68,278.16 166.38,282.39 170.98,282.39" fill="#000" stroke="none" stroke-width="0.7" stroke-linejoin="miter"/>
<polygon points="172.74,278.73 170.44,282.96 175.04,282.96" fill="#000" stroke="none" stroke-width="0.7" stroke-linejoin="miter"/>
<polygon points="176.80,279.28 174.50,283.51 179.10,283.51" fill="#000" stroke="none" stroke-width="0.7" stroke-linejoin="miter"/>
<polygon points="180.86,279.81 178.56,284.04 183.16,284.04" fill="#000" stroke="none" stroke-width="0.7" stroke-linejoin="miter"/>
<polygon points="184.92,280.32 182.62,284.56 187.22,284.56" fill="#000" stroke="none" stroke-width="0.7" stroke-linejoin="miter"/>
<polygon points="188.98,280.82 186.68,285.06 191.28,285.06" fill="#000" stroke="none" stroke-width="0.7" stroke-linejoin="miter"/>
<polygon points="193.04,281.31 190.74,285.54 195.34,285.54" fill="#000" stroke="none" stroke-width="0.7" stroke-linejoin="miter"/>
<polygon points="197.10,281.78 194.80,286.01 199.40,286.01" fill="#000" stroke="none" stroke-width="0.7" stroke-linejoin="miter"/>
<polygon points="201.16,282.24 198.86,286.47 203.46,286.47" fill="#000" stroke="none" stroke-width="0.7" stroke-linejoin="miter"/>
<polygon points="205.22,282.68 202.92,286.91 207.52,286.91" fill="#000" stroke="none" stroke-width="0.7" stroke-linejoin="miter"/>
<polygon points="209.28,283.12 206.98,287.35 211.58,287.35" fill="#000" stroke="none" stroke-width="0.7" stroke-linejoin="miter"/>
<polygon points="213.34,283.51 211.04,287.74 215.64,287.74" fill="#000" stroke="none" stroke-width="0.7" stroke-linejoin="miter"/>
<polygon points="217.40,283.89 215.10,288.12 219.70,288.12" fill="#000" stroke="none" stroke-width="0.7" stroke-linejoin="miter"/>
<polygon points="221.46,284.25 219.16,288.48 223.76,288.48" fill="#000" stroke="none" stroke-width="0.7" stroke-linejoin="miter"/>
<polygon points="225.52,284.61 223.22,288.84 227.82,288.84" fill="#000" stroke="none" stroke-width="0.7" stroke-linejoin="miter"/>
<polygon points="229.58,284.96 227.28,289.19 231.88,289.19" fill="#000" stroke="none" stroke-width="0.7" stroke-linejoin="miter"/>
<polygon points="233.64,285.30 231.34,289.53 235.94,289.53" fill="#000" stroke="none" stroke-width="0.7" stroke-linejoin="miter"/>
<circle cx="178.80" cy="213.20" r="1.95" fill="#000" stroke="none" stroke-width="0.7"/>
<text x="189.00" y="215.80" font-size="8.1" font-weight="bold" text-anchor="start" transform="translate(189.00 215.80) scale(0.975 1) translate(-189.00 -215.80)" >HPMC 100</text>
<polygon points="178.80,220.91 176.65,224.86 180.95,224.86" fill="#000" stroke="none" stroke-width="0.7" stroke-linejoin="miter"/>
<text x="189.00" y="225.80" font-size="8.1" font-weight="bold" text-anchor="start" transform="translate(189.00 225.80) scale(0.975 1) translate(-189.00 -225.80)" >HPMC 4000</text>
<polygon points="178.80,231.20 180.90,233.30 178.80,235.40 176.70,233.30" fill="#000" stroke="none" stroke-width="0.7"/>
<text x="189.00" y="235.90" font-size="8.1" font-weight="bold" text-anchor="start" transform="translate(189.00 235.90) scale(0.975 1) translate(-189.00 -235.90)" >MC 400</text>
<polygon points="178.80,241.41 179.28,242.69 180.65,242.75 179.58,243.61 179.95,244.93 178.80,244.17 177.65,244.93 178.02,243.61 176.95,242.75 178.32,242.69" fill="#000" stroke="none" stroke-width="0.7"/>
<text x="189.00" y="245.80" font-size="8.1" font-weight="bold" text-anchor="start" transform="translate(189.00 245.80) scale(0.975 1) translate(-189.00 -245.80)" >MC 1500</text>
<line x1="300.30" y1="200.80" x2="490.20" y2="200.80" stroke="#2b2b2b" stroke-width="1.0" />
<line x1="300.30" y1="200.50" x2="300.30" y2="354.90" stroke="#2b2b2b" stroke-width="1.3" />
<line x1="299.70" y1="354.30" x2="490.80" y2="354.30" stroke="#2b2b2b" stroke-width="1.3" />
<line x1="490.20" y1="200.50" x2="490.20" y2="354.90" stroke="#2b2b2b" stroke-width="1.3" />
<line x1="297.10" y1="355.00" x2="300.30" y2="355.00" stroke="#2b2b2b" stroke-width="0.9" />
<line x1="298.60" y1="341.60" x2="300.30" y2="341.60" stroke="#2b2b2b" stroke-width="0.9" />
<line x1="298.60" y1="333.77" x2="300.30" y2="333.77" stroke="#2b2b2b" stroke-width="0.9" />
<line x1="298.60" y1="328.21" x2="300.30" y2="328.21" stroke="#2b2b2b" stroke-width="0.9" />
<line x1="298.60" y1="323.90" x2="300.30" y2="323.90" stroke="#2b2b2b" stroke-width="0.9" />
<line x1="298.60" y1="320.37" x2="300.30" y2="320.37" stroke="#2b2b2b" stroke-width="0.9" />
<line x1="298.60" y1="317.39" x2="300.30" y2="317.39" stroke="#2b2b2b" stroke-width="0.9" />
<line x1="298.60" y1="314.81" x2="300.30" y2="314.81" stroke="#2b2b2b" stroke-width="0.9" />
<line x1="298.60" y1="312.54" x2="300.30" y2="312.54" stroke="#2b2b2b" stroke-width="0.9" />
<line x1="297.10" y1="310.50" x2="300.30" y2="310.50" stroke="#2b2b2b" stroke-width="0.9" />
<line x1="298.60" y1="297.10" x2="300.30" y2="297.10" stroke="#2b2b2b" stroke-width="0.9" />
<line x1="298.60" y1="289.27" x2="300.30" y2="289.27" stroke="#2b2b2b" stroke-width="0.9" />
<line x1="298.60" y1="283.71" x2="300.30" y2="283.71" stroke="#2b2b2b" stroke-width="0.9" />
<line x1="298.60" y1="279.40" x2="300.30" y2="279.40" stroke="#2b2b2b" stroke-width="0.9" />
<line x1="298.60" y1="275.87" x2="300.30" y2="275.87" stroke="#2b2b2b" stroke-width="0.9" />
<line x1="298.60" y1="272.89" x2="300.30" y2="272.89" stroke="#2b2b2b" stroke-width="0.9" />
<line x1="298.60" y1="270.31" x2="300.30" y2="270.31" stroke="#2b2b2b" stroke-width="0.9" />
<line x1="298.60" y1="268.04" x2="300.30" y2="268.04" stroke="#2b2b2b" stroke-width="0.9" />
<line x1="297.10" y1="266.00" x2="300.30" y2="266.00" stroke="#2b2b2b" stroke-width="0.9" />
<line x1="298.60" y1="252.60" x2="300.30" y2="252.60" stroke="#2b2b2b" stroke-width="0.9" />
<line x1="298.60" y1="244.77" x2="300.30" y2="244.77" stroke="#2b2b2b" stroke-width="0.9" />
<line x1="298.60" y1="239.21" x2="300.30" y2="239.21" stroke="#2b2b2b" stroke-width="0.9" />
<line x1="298.60" y1="234.90" x2="300.30" y2="234.90" stroke="#2b2b2b" stroke-width="0.9" />
<line x1="298.60" y1="231.37" x2="300.30" y2="231.37" stroke="#2b2b2b" stroke-width="0.9" />
<line x1="298.60" y1="228.39" x2="300.30" y2="228.39" stroke="#2b2b2b" stroke-width="0.9" />
<line x1="298.60" y1="225.81" x2="300.30" y2="225.81" stroke="#2b2b2b" stroke-width="0.9" />
<line x1="298.60" y1="223.54" x2="300.30" y2="223.54" stroke="#2b2b2b" stroke-width="0.9" />
<line x1="297.10" y1="221.50" x2="300.30" y2="221.50" stroke="#2b2b2b" stroke-width="0.9" />
<line x1="298.60" y1="208.10" x2="300.30" y2="208.10" stroke="#2b2b2b" stroke-width="0.9" />
<line x1="490.20" y1="353.32" x2="492.10" y2="353.32" stroke="#2b2b2b" stroke-width="0.9" />
<line x1="490.20" y1="340.60" x2="493.60" y2="340.60" stroke="#2b2b2b" stroke-width="0.9" />
<line x1="490.20" y1="327.88" x2="492.10" y2="327.88" stroke="#2b2b2b" stroke-width="0.9" />
<line x1="490.20" y1="315.16" x2="493.60" y2="315.16" stroke="#2b2b2b" stroke-width="0.9" />
<line x1="490.20" y1="302.44" x2="492.10" y2="302.44" stroke="#2b2b2b" stroke-width="0.9" />
<line x1="490.20" y1="289.72" x2="493.60" y2="289.72" stroke="#2b2b2b" stroke-width="0.9" />
<line x1="490.20" y1="277.00" x2="492.10" y2="277.00" stroke="#2b2b2b" stroke-width="0.9" />
<line x1="490.20" y1="264.28" x2="493.60" y2="264.28" stroke="#2b2b2b" stroke-width="0.9" />
<line x1="490.20" y1="251.56" x2="492.10" y2="251.56" stroke="#2b2b2b" stroke-width="0.9" />
<line x1="490.20" y1="238.84" x2="493.60" y2="238.84" stroke="#2b2b2b" stroke-width="0.9" />
<line x1="490.20" y1="226.12" x2="492.10" y2="226.12" stroke="#2b2b2b" stroke-width="0.9" />
<line x1="490.20" y1="213.40" x2="493.60" y2="213.40" stroke="#2b2b2b" stroke-width="0.9" />
<line x1="310.30" y1="354.30" x2="310.30" y2="357.50" stroke="#2b2b2b" stroke-width="0.9" />
<line x1="330.18" y1="354.30" x2="330.18" y2="356.10" stroke="#2b2b2b" stroke-width="0.9" />
<line x1="350.05" y1="354.30" x2="350.05" y2="357.50" stroke="#2b2b2b" stroke-width="0.9" />
<line x1="369.93" y1="354.30" x2="369.93" y2="356.10" stroke="#2b2b2b" stroke-width="0.9" />
<line x1="389.80" y1="354.30" x2="389.80" y2="357.50" stroke="#2b2b2b" stroke-width="0.9" />
<line x1="409.68" y1="354.30" x2="409.68" y2="356.10" stroke="#2b2b2b" stroke-width="0.9" />
<line x1="429.55" y1="354.30" x2="429.55" y2="357.50" stroke="#2b2b2b" stroke-width="0.9" />
<line x1="449.43" y1="354.30" x2="449.43" y2="356.10" stroke="#2b2b2b" stroke-width="0.9" />
<line x1="469.30" y1="354.30" x2="469.30" y2="357.50" stroke="#2b2b2b" stroke-width="0.9" />
<text x="293.60" y="224.60" font-size="8.6" font-weight="bold" text-anchor="end" transform="translate(293.60 224.60) scale(0.91 1) translate(-293.60 -224.60)" >10000</text>
<text x="293.60" y="269.10" font-size="8.6" font-weight="bold" text-anchor="end" transform="translate(293.60 269.10) scale(0.91 1) translate(-293.60 -269.10)" >1000</text>
<text x="293.60" y="313.60" font-size="8.6" font-weight="bold" text-anchor="end" transform="translate(293.60 313.60) scale(0.91 1) translate(-293.60 -313.60)" >100</text>
<text x="293.60" y="358.10" font-size="8.6" font-weight="bold" text-anchor="end" transform="translate(293.60 358.10) scale(0.91 1) translate(-293.60 -358.10)" >10</text>
<text x="497.50" y="343.60" font-size="8.6" font-weight="bold" text-anchor="start" >0</text>
<text x="497.50" y="318.16" font-size="8.6" font-weight="bold" text-anchor="start" >2</text>
<text x="497.50" y="292.72" font-size="8.6" font-weight="bold" text-anchor="start" >4</text>
<text x="497.50" y="267.28" font-size="8.6" font-weight="bold" text-anchor="start" >6</text>
<text x="497.50" y="241.84" font-size="8.6" font-weight="bold" text-anchor="start" >8</text>
<text x="497.50" y="216.40" font-size="8.6" font-weight="bold" text-anchor="start" >10</text>
<text x="310.30" y="368.20" font-size="8.6" font-weight="bold" text-anchor="middle" >0</text>
<text x="350.05" y="368.20" font-size="8.6" font-weight="bold" text-anchor="middle" >500</text>
<text x="389.80" y="368.20" font-size="8.6" font-weight="bold" text-anchor="middle" >1000</text>
<text x="429.55" y="368.20" font-size="8.6" font-weight="bold" text-anchor="middle" >1500</text>
<text x="469.30" y="368.20" font-size="8.6" font-weight="bold" text-anchor="middle" >2000</text>
<text x="266.20" y="277.90" font-size="11.3" font-weight="bold" text-anchor="middle" transform="rotate(-90 266.20 277.90)" >Viscosity (Pa.s)</text>
<text x="395.50" y="382.60" font-size="11.1" font-weight="bold" text-anchor="middle" >Time (seconds)</text>
<text x="518.60" y="277.50" font-size="10.5" font-weight="normal" text-anchor="middle" transform="rotate(-90 518.60 277.50)" stroke="#000" stroke-width="0.3">Shear rate (s<tspan font-size="7" dy="-3.6">-1</tspan><tspan dy="3.6">)</tspan></text>
<text x="259.20" y="206.60" font-size="16" font-weight="bold" text-anchor="start" >(d)</text>
<polyline points="310.75,340.60 382.30,340.60 382.30,213.40 406.15,213.40 406.15,340.60 475.31,340.60" fill="none" stroke="#333" stroke-width="0.9" stroke-dasharray="1 2.6"/>
<circle cx="311.50" cy="242.35" r="2.35" fill="#fff" stroke="#111" stroke-width="0.9"/>
<circle cx="312.40" cy="242.33" r="2.35" fill="#fff" stroke="#111" stroke-width="0.9"/>
<circle cx="313.30" cy="243.64" r="2.35" fill="#fff" stroke="#111" stroke-width="0.9"/>
<circle cx="314.20" cy="244.88" r="2.35" fill="#fff" stroke="#111" stroke-width="0.9"/>
<circle cx="315.10" cy="245.35" r="2.35" fill="#fff" stroke="#111" stroke-width="0.9"/>
<circle cx="316.00" cy="246.80" r="2.35" fill="#fff" stroke="#111" stroke-width="0.9"/>
<circle cx="316.90" cy="247.19" r="2.35" fill="#fff" stroke="#111" stroke-width="0.9"/>
<circle cx="317.80" cy="246.70" r="2.35" fill="#fff" stroke="#111" stroke-width="0.9"/>
<circle cx="318.70" cy="248.48" r="2.35" fill="#fff" stroke="#111" stroke-width="0.9"/>
<circle cx="319.60" cy="248.66" r="2.35" fill="#fff" stroke="#111" stroke-width="0.9"/>
<circle cx="320.50" cy="248.43" r="2.35" fill="#fff" stroke="#111" stroke-width="0.9"/>
<circle cx="321.40" cy="249.05" r="2.35" fill="#fff" stroke="#111" stroke-width="0.9"/>
<circle cx="322.30" cy="249.78" r="2.35" fill="#fff" stroke="#111" stroke-width="0.9"/>
<circle cx="323.20" cy="249.78" r="2.35" fill="#fff" stroke="#111" stroke-width="0.9"/>
<circle cx="324.10" cy="250.18" r="2.35" fill="#fff" stroke="#111" stroke-width="0.9"/>
<circle cx="325.00" cy="249.96" r="2.35" fill="#fff" stroke="#111" stroke-width="0.9"/>
<circle cx="325.90" cy="251.36" r="2.35" fill="#fff" stroke="#111" stroke-width="0.9"/>
<circle cx="326.80" cy="251.53" r="2.35" fill="#fff" stroke="#111" stroke-width="0.9"/>
<circle cx="327.70" cy="251.99" r="2.35" fill="#fff" stroke="#111" stroke-width="0.9"/>
<circle cx="328.60" cy="251.48" r="2.35" fill="#fff" stroke="#111" stroke-width="0.9"/>
<circle cx="329.50" cy="253.46" r="2.35" fill="#fff" stroke="#111" stroke-width="0.9"/>
<circle cx="330.40" cy="253.10" r="2.35" fill="#fff" stroke="#111" stroke-width="0.9"/>
<circle cx="331.30" cy="253.22" r="2.35" fill="#fff" stroke="#111" stroke-width="0.9"/>
<circle cx="332.20" cy="254.75" r="2.35" fill="#fff" stroke="#111" stroke-width="0.9"/>
<circle cx="333.10" cy="254.02" r="2.35" fill="#fff" stroke="#111" stroke-width="0.9"/>
<circle cx="334.00" cy="253.63" r="2.35" fill="#fff" stroke="#111" stroke-width="0.9"/>
<circle cx="334.90" cy="254.46" r="2.35" fill="#fff" stroke="#111" stroke-width="0.9"/>
<circle cx="335.80" cy="253.83" r="2.35" fill="#fff" stroke="#111" stroke-width="0.9"/>
<circle cx="336.70" cy="255.80" r="2.35" fill="#fff" stroke="#111" stroke-width="0.9"/>
<circle cx="337.60" cy="255.38" r="2.35" fill="#fff" stroke="#111" stroke-width="0.9"/>
<circle cx="338.50" cy="255.52" r="2.35" fill="#fff" stroke="#111" stroke-width="0.9"/>
<circle cx="339.40" cy="256.74" r="2.35" fill="#fff" stroke="#111" stroke-width="0.9"/>
<circle cx="340.30" cy="255.68" r="2.35" fill="#fff" stroke="#111" stroke-width="0.9"/>
<circle cx="341.20" cy="257.08" r="2.35" fill="#fff" stroke="#111" stroke-width="0.9"/>
<circle cx="342.10" cy="256.09" r="2.35" fill="#fff" stroke="#111" stroke-width="0.9"/>
<circle cx="343.00" cy="257.10" r="2.35" fill="#fff" stroke="#111" stroke-width="0.9"/>
<circle cx="343.90" cy="257.14" r="2.35" fill="#fff" stroke="#111" stroke-width="0.9"/>
<circle cx="344.80" cy="258.78" r="2.35" fill="#fff" stroke="#111" stroke-width="0.9"/>
<circle cx="345.70" cy="259.24" r="2.35" fill="#fff" stroke="#111" stroke-width="0.9"/>
<circle cx="346.60" cy="258.50" r="2.35" fill="#fff" stroke="#111" stroke-width="0.9"/>
<circle cx="347.50" cy="259.35" r="2.35" fill="#fff" stroke="#111" stroke-width="0.9"/>
<circle cx="348.40" cy="259.07" r="2.35" fill="#fff" stroke="#111" stroke-width="0.9"/>
<circle cx="349.30" cy="259.68" r="2.35" fill="#fff" stroke="#111" stroke-width="0.9"/>
<circle cx="350.20" cy="259.25" r="2.35" fill="#fff" stroke="#111" stroke-width="0.9"/>
<circle cx="351.10" cy="259.00" r="2.35" fill="#fff" stroke="#111" stroke-width="0.9"/>
<circle cx="352.00" cy="259.19" r="2.35" fill="#fff" stroke="#111" stroke-width="0.9"/>
<circle cx="352.90" cy="260.51" r="2.35" fill="#fff" stroke="#111" stroke-width="0.9"/>
<circle cx="353.80" cy="261.68" r="2.35" fill="#fff" stroke="#111" stroke-width="0.9"/>
<circle cx="354.70" cy="260.92" r="2.35" fill="#fff" stroke="#111" stroke-width="0.9"/>
<circle cx="355.60" cy="260.76" r="2.35" fill="#fff" stroke="#111" stroke-width="0.9"/>
<circle cx="356.50" cy="262.21" r="2.35" fill="#fff" stroke="#111" stroke-width="0.9"/>
<circle cx="357.40" cy="261.60" r="2.35" fill="#fff" stroke="#111" stroke-width="0.9"/>
<circle cx="358.30" cy="261.77" r="2.35" fill="#fff" stroke="#111" stroke-width="0.9"/>
<circle cx="359.20" cy="262.07" r="2.35" fill="#fff" stroke="#111" stroke-width="0.9"/>
<circle cx="360.10" cy="262.11" r="2.35" fill="#fff" stroke="#111" stroke-width="0.9"/>
<circle cx="361.00" cy="262.26" r="2.35" fill="#fff" stroke="#111" stroke-width="0.9"/>
<circle cx="361.90" cy="261.93" r="2.35" fill="#fff" stroke="#111" stroke-width="0.9"/>
<circle cx="362.80" cy="263.11" r="2.35" fill="#fff" stroke="#111" stroke-width="0.9"/>
<circle cx="363.70" cy="262.98" r="2.35" fill="#fff" stroke="#111" stroke-width="0.9"/>
<circle cx="364.60" cy="263.79" r="2.35" fill="#fff" stroke="#111" stroke-width="0.9"/>
<circle cx="365.50" cy="263.18" r="2.35" fill="#fff" stroke="#111" stroke-width="0.9"/>
<circle cx="366.40" cy="262.58" r="2.35" fill="#fff" stroke="#111" stroke-width="0.9"/>
<circle cx="367.30" cy="263.66" r="2.35" fill="#fff" stroke="#111" stroke-width="0.9"/>
<circle cx="368.20" cy="264.73" r="2.35" fill="#fff" stroke="#111" stroke-width="0.9"/>
<circle cx="369.10" cy="263.86" r="2.35" fill="#fff" stroke="#111" stroke-width="0.9"/>
<circle cx="370.00" cy="263.77" r="2.35" fill="#fff" stroke="#111" stroke-width="0.9"/>
<circle cx="370.90" cy="263.79" r="2.35" fill="#fff" stroke="#111" stroke-width="0.9"/>
<circle cx="371.80" cy="264.03" r="2.35" fill="#fff" stroke="#111" stroke-width="0.9"/>
<circle cx="372.70" cy="264.58" r="2.35" fill="#fff" stroke="#111" stroke-width="0.9"/>
<circle cx="373.60" cy="264.31" r="2.35" fill="#fff" stroke="#111" stroke-width="0.9"/>
<circle cx="374.50" cy="265.82" r="2.35" fill="#fff" stroke="#111" stroke-width="0.9"/>
<circle cx="375.40" cy="265.10" r="2.35" fill="#fff" stroke="#111" stroke-width="0.9"/>
<circle cx="376.30" cy="265.46" r="2.35" fill="#fff" stroke="#111" stroke-width="0.9"/>
<circle cx="377.20" cy="266.30" r="2.35" fill="#fff" stroke="#111" stroke-width="0.9"/>
<circle cx="378.10" cy="266.50" r="2.35" fill="#fff" stroke="#111" stroke-width="0.9"/>
<circle cx="379.00" cy="265.81" r="2.35" fill="#fff" stroke="#111" stroke-width="0.9"/>
<circle cx="379.90" cy="266.26" r="2.35" fill="#fff" stroke="#111" stroke-width="0.9"/>
<circle cx="380.80" cy="266.63" r="2.35" fill="#fff" stroke="#111" stroke-width="0.9"/>
<circle cx="381.70" cy="266.33" r="2.35" fill="#fff" stroke="#111" stroke-width="0.9"/>
<circle cx="382.60" cy="266.60" r="2.35" fill="#fff" stroke="#111" stroke-width="0.9"/>
<circle cx="383.60" cy="342.03" r="2.35" fill="#fff" stroke="#111" stroke-width="0.9"/>
<circle cx="384.50" cy="342.61" r="2.35" fill="#fff" stroke="#111" stroke-width="0.9"/>
<circle cx="385.40" cy="342.86" r="2.35" fill="#fff" stroke="#111" stroke-width="0.9"/>
<circle cx="386.30" cy="343.00" r="2.35" fill="#fff" stroke="#111" stroke-width="0.9"/>
<circle cx="387.20" cy="343.01" r="2.35" fill="#fff" stroke="#111" stroke-width="0.9"/>
<circle cx="388.10" cy="343.34" r="2.35" fill="#fff" stroke="#111" stroke-width="0.9"/>
<circle cx="389.00" cy="343.49" r="2.35" fill="#fff" stroke="#111" stroke-width="0.9"/>
<circle cx="389.90" cy="343.75" r="2.35" fill="#fff" stroke="#111" stroke-width="0.9"/>
<circle cx="390.80" cy="344.20" r="2.35" fill="#fff" stroke="#111" stroke-width="0.9"/>
<circle cx="391.70" cy="344.45" r="2.35" fill="#fff" stroke="#111" stroke-width="0.9"/>
<circle cx="392.60" cy="344.53" r="2.35" fill="#fff" stroke="#111" stroke-width="0.9"/>
<circle cx="393.50" cy="344.73" r="2.35" fill="#fff" stroke="#111" stroke-width="0.9"/>
<circle cx="394.40" cy="344.96" r="2.35" fill="#fff" stroke="#111" stroke-width="0.9"/>
<circle cx="395.30" cy="345.04" r="2.35" fill="#fff" stroke="#111" stroke-width="0.9"/>
<circle cx="396.20" cy="345.17" r="2.35" fill="#fff" stroke="#111" stroke-width="0.9"/>
<circle cx="397.10" cy="345.22" r="2.35" fill="#fff" stroke="#111" stroke-width="0.9"/>
<circle cx="398.00" cy="345.46" r="2.35" fill="#fff" stroke="#111" stroke-width="0.9"/>
<circle cx="398.90" cy="345.94" r="2.35" fill="#fff" stroke="#111" stroke-width="0.9"/>
<circle cx="399.80" cy="345.88" r="2.35" fill="#fff" stroke="#111" stroke-width="0.9"/>
<circle cx="400.70" cy="345.83" r="2.35" fill="#fff" stroke="#111" stroke-width="0.9"/>
<circle cx="401.60" cy="345.95" r="2.35" fill="#fff" stroke="#111" stroke-width="0.9"/>
<circle cx="402.50" cy="346.03" r="2.35" fill="#fff" stroke="#111" stroke-width="0.9"/>
<circle cx="403.40" cy="346.36" r="2.35" fill="#fff" stroke="#111" stroke-width="0.9"/>
<circle cx="404.30" cy="346.50" r="2.35" fill="#fff" stroke="#111" stroke-width="0.9"/>
<circle cx="405.20" cy="346.37" r="2.35" fill="#fff" stroke="#111" stroke-width="0.9"/>
<circle cx="406.10" cy="346.72" r="2.35" fill="#fff" stroke="#111" stroke-width="0.9"/>
<circle cx="407.60" cy="270.74" r="2.35" fill="#fff" stroke="#111" stroke-width="0.9"/>
<circle cx="408.50" cy="269.54" r="2.35" fill="#fff" stroke="#111" stroke-width="0.9"/>
<circle cx="409.40" cy="269.86" r="2.35" fill="#fff" stroke="#111" stroke-width="0.9"/>
<circle cx="410.30" cy="268.80" r="2.35" fill="#fff" stroke="#111" stroke-width="0.9"/>
<circle cx="411.20" cy="269.22" r="2.35" fill="#fff" stroke="#111" stroke-width="0.9"/>
<circle cx="412.10" cy="267.77" r="2.35" fill="#fff" stroke="#111" stroke-width="0.9"/>
<circle cx="413.00" cy="267.67" r="2.35" fill="#fff" stroke="#111" stroke-width="0.9"/>
<circle cx="413.90" cy="267.99" r="2.35" fill="#fff" stroke="#111" stroke-width="0.9"/>
<circle cx="414.80" cy="268.39" r="2.35" fill="#fff" stroke="#111" stroke-width="0.9"/>
<circle cx="415.70" cy="268.17" r="2.35" fill="#fff" stroke="#111" stroke-width="0.9"/>
<circle cx="416.60" cy="267.29" r="2.35" fill="#fff" stroke="#111" stroke-width="0.9"/>
<circle cx="417.50" cy="268.02" r="2.35" fill="#fff" stroke="#111" stroke-width="0.9"/>
<circle cx="418.40" cy="267.97" r="2.35" fill="#fff" stroke="#111" stroke-width="0.9"/>
<circle cx="419.30" cy="267.77" r="2.35" fill="#fff" stroke="#111" stroke-width="0.9"/>
<circle cx="420.20" cy="267.70" r="2.35" fill="#fff" stroke="#111" stroke-width="0.9"/>
<circle cx="421.10" cy="269.01" r="2.35" fill="#fff" stroke="#111" stroke-width="0.9"/>
<circle cx="422.00" cy="268.04" r="2.35" fill="#fff" stroke="#111" stroke-width="0.9"/>
<circle cx="422.90" cy="267.93" r="2.35" fill="#fff" stroke="#111" stroke-width="0.9"/>
<circle cx="423.80" cy="268.77" r="2.35" fill="#fff" stroke="#111" stroke-width="0.9"/>
<circle cx="424.70" cy="268.63" r="2.35" fill="#fff" stroke="#111" stroke-width="0.9"/>
<circle cx="425.60" cy="268.63" r="2.35" fill="#fff" stroke="#111" stroke-width="0.9"/>
<circle cx="426.50" cy="269.17" r="2.35" fill="#fff" stroke="#111" stroke-width="0.9"/>
<circle cx="427.40" cy="269.13" r="2.35" fill="#fff" stroke="#111" stroke-width="0.9"/>
<circle cx="428.30" cy="269.18" r="2.35" fill="#fff" stroke="#111" stroke-width="0.9"/>
<circle cx="429.20" cy="269.59" r="2.35" fill="#fff" stroke="#111" stroke-width="0.9"/>
<circle cx="430.10" cy="269.35" r="2.35" fill="#fff" stroke="#111" stroke-width="0.9"/>
<circle cx="431.00" cy="269.01" r="2.35" fill="#fff" stroke="#111" stroke-width="0.9"/>
<circle cx="431.90" cy="269.25" r="2.35" fill="#fff" stroke="#111" stroke-width="0.9"/>
<circle cx="432.80" cy="269.28" r="2.35" fill="#fff" stroke="#111" stroke-width="0.9"/>
<circle cx="433.70" cy="269.75" r="2.35" fill="#fff" stroke="#111" stroke-width="0.9"/>
<circle cx="434.60" cy="269.21" r="2.35" fill="#fff" stroke="#111" stroke-width="0.9"/>
<circle cx="435.50" cy="268.94" r="2.35" fill="#fff" stroke="#111" stroke-width="0.9"/>
<circle cx="436.40" cy="270.01" r="2.35" fill="#fff" stroke="#111" stroke-width="0.9"/>
<circle cx="437.30" cy="269.41" r="2.35" fill="#fff" stroke="#111" stroke-width="0.9"/>
<circle cx="438.20" cy="269.21" r="2.35" fill="#fff" stroke="#111" stroke-width="0.9"/>
<circle cx="439.10" cy="270.48" r="2.35" fill="#fff" stroke="#111" stroke-width="0.9"/>
<circle cx="440.00" cy="270.04" r="2.35" fill="#fff" stroke="#111" stroke-width="0.9"/>
<circle cx="440.90" cy="270.72" r="2.35" fill="#fff" stroke="#111" stroke-width="0.9"/>
<circle cx="441.80" cy="270.28" r="2.35" fill="#fff" stroke="#111" stroke-width="0.9"/>
<circle cx="442.70" cy="270.06" r="2.35" fill="#fff" stroke="#111" stroke-width="0.9"/>
<circle cx="443.60" cy="270.07" r="2.35" fill="#fff" stroke="#111" stroke-width="0.9"/>
<circle cx="444.50" cy="270.50" r="2.35" fill="#fff" stroke="#111" stroke-width="0.9"/>
<circle cx="445.40" cy="270.70" r="2.35" fill="#fff" stroke="#111" stroke-width="0.9"/>
<circle cx="446.30" cy="270.49" r="2.35" fill="#fff" stroke="#111" stroke-width="0.9"/>
<circle cx="447.20" cy="270.84" r="2.35" fill="#fff" stroke="#111" stroke-width="0.9"/>
<circle cx="448.10" cy="270.28" r="2.35" fill="#fff" stroke="#111" stroke-width="0.9"/>
<circle cx="449.00" cy="271.13" r="2.35" fill="#fff" stroke="#111" stroke-width="0.9"/>
<circle cx="449.90" cy="270.30" r="2.35" fill="#fff" stroke="#111" stroke-width="0.9"/>
<circle cx="450.80" cy="271.17" r="2.35" fill="#fff" stroke="#111" stroke-width="0.9"/>
<circle cx="451.70" cy="271.68" r="2.35" fill="#fff" stroke="#111" stroke-width="0.9"/>
<circle cx="452.60" cy="271.95" r="2.35" fill="#fff" stroke="#111" stroke-width="0.9"/>
<circle cx="453.50" cy="272.34" r="2.35" fill="#fff" stroke="#111" stroke-width="0.9"/>
<circle cx="454.40" cy="270.77" r="2.35" fill="#fff" stroke="#111" stroke-width="0.9"/>
<circle cx="455.30" cy="272.00" r="2.35" fill="#fff" stroke="#111" stroke-width="0.9"/>
<circle cx="456.20" cy="272.30" r="2.35" fill="#fff" stroke="#111" stroke-width="0.9"/>
<circle cx="457.10" cy="272.26" r="2.35" fill="#fff" stroke="#111" stroke-width="0.9"/>
<circle cx="458.00" cy="271.38" r="2.35" fill="#fff" stroke="#111" stroke-width="0.9"/>
<circle cx="458.90" cy="272.12" r="2.35" fill="#fff" stroke="#111" stroke-width="0.9"/>
<circle cx="459.80" cy="272.91" r="2.35" fill="#fff" stroke="#111" stroke-width="0.9"/>
<circle cx="460.70" cy="271.30" r="2.35" fill="#fff" stroke="#111" stroke-width="0.9"/>
<circle cx="461.60" cy="272.35" r="2.35" fill="#fff" stroke="#111" stroke-width="0.9"/>
<circle cx="462.50" cy="272.73" r="2.35" fill="#fff" stroke="#111" stroke-width="0.9"/>
<circle cx="463.40" cy="271.89" r="2.35" fill="#fff" stroke="#111" stroke-width="0.9"/>
<circle cx="464.30" cy="272.59" r="2.35" fill="#fff" stroke="#111" stroke-width="0.9"/>
<circle cx="465.20" cy="271.83" r="2.35" fill="#fff" stroke="#111" stroke-width="0.9"/>
<circle cx="466.10" cy="272.02" r="2.35" fill="#fff" stroke="#111" stroke-width="0.9"/>
<circle cx="467.00" cy="272.08" r="2.35" fill="#fff" stroke="#111" stroke-width="0.9"/>
<circle cx="467.90" cy="272.65" r="2.35" fill="#fff" stroke="#111" stroke-width="0.9"/>
<circle cx="468.80" cy="272.57" r="2.35" fill="#fff" stroke="#111" stroke-width="0.9"/>
<circle cx="469.70" cy="273.16" r="2.35" fill="#fff" stroke="#111" stroke-width="0.9"/>
<circle cx="470.60" cy="272.27" r="2.35" fill="#fff" stroke="#111" stroke-width="0.9"/>
<circle cx="471.50" cy="272.74" r="2.35" fill="#fff" stroke="#111" stroke-width="0.9"/>
<circle cx="472.40" cy="273.35" r="2.35" fill="#fff" stroke="#111" stroke-width="0.9"/>
<circle cx="473.30" cy="273.21" r="2.35" fill="#fff" stroke="#111" stroke-width="0.9"/>
<circle cx="474.20" cy="272.33" r="2.35" fill="#fff" stroke="#111" stroke-width="0.9"/>
<circle cx="475.10" cy="273.39" r="2.35" fill="#fff" stroke="#111" stroke-width="0.9"/>
<circle cx="476.00" cy="272.88" r="2.35" fill="#fff" stroke="#111" stroke-width="0.9"/>
<circle cx="476.90" cy="273.37" r="2.35" fill="#fff" stroke="#111" stroke-width="0.9"/>
<circle cx="477.80" cy="273.24" r="2.35" fill="#fff" stroke="#111" stroke-width="0.9"/>
<polygon points="311.50,237.05 314.50,240.05 311.50,243.05 308.50,240.05" fill="#fff" stroke="#111" stroke-width="0.9"/>
<polygon points="312.40,237.77 315.40,240.77 312.40,243.77 309.40,240.77" fill="#fff" stroke="#111" stroke-width="0.9"/>
<polygon points="313.30,237.47 316.30,240.47 313.30,243.47 310.30,240.47" fill="#fff" stroke="#111" stroke-width="0.9"/>
<polygon points="314.20,236.74 317.20,239.74 314.20,242.74 311.20,239.74" fill="#fff" stroke="#111" stroke-width="0.9"/>
<polygon points="315.10,237.24 318.10,240.24 315.10,243.24 312.10,240.24" fill="#fff" stroke="#111" stroke-width="0.9"/>
<polygon points="316.00,238.55 319.00,241.55 316.00,244.55 313.00,241.55" fill="#fff" stroke="#111" stroke-width="0.9"/>
<polygon points="316.90,238.31 319.90,241.31 316.90,244.31 313.90,241.31" fill="#fff" stroke="#111" stroke-width="0.9"/>
<polygon points="317.80,239.26 320.80,242.26 317.80,245.26 314.80,242.26" fill="#fff" stroke="#111" stroke-width="0.9"/>
<polygon points="318.70,239.09 321.70,242.09 318.70,245.09 315.70,242.09" fill="#fff" stroke="#111" stroke-width="0.9"/>
<polygon points="319.60,238.83 322.60,241.83 319.60,244.83 316.60,241.83" fill="#fff" stroke="#111" stroke-width="0.9"/>
<polygon points="320.50,240.01 323.50,243.01 320.50,246.01 317.50,243.01" fill="#fff" stroke="#111" stroke-width="0.9"/>
<polygon points="321.40,239.32 324.40,242.32 321.40,245.32 318.40,242.32" fill="#fff" stroke="#111" stroke-width="0.9"/>
<polygon points="322.30,238.95 325.30,241.95 322.30,244.95 319.30,241.95" fill="#fff" stroke="#111" stroke-width="0.9"/>
<polygon points="323.20,241.27 326.20,244.27 323.20,247.27 320.20,244.27" fill="#fff" stroke="#111" stroke-width="0.9"/>
<polygon points="324.10,239.54 327.10,242.54 324.10,245.54 321.10,242.54" fill="#fff" stroke="#111" stroke-width="0.9"/>
<polygon points="325.00,241.07 328.00,244.07 325.00,247.07 322.00,244.07" fill="#fff" stroke="#111" stroke-width="0.9"/>
<polygon points="325.90,241.47 328.90,244.47 325.90,247.47 322.90,244.47" fill="#fff" stroke="#111" stroke-width="0.9"/>
<polygon points="326.80,241.33 329.80,244.33 326.80,247.33 323.80,244.33" fill="#fff" stroke="#111" stroke-width="0.9"/>
<polygon points="327.70,240.68 330.70,243.68 327.70,246.68 324.70,243.68" fill="#fff" stroke="#111" stroke-width="0.9"/>
<polygon points="328.60,242.28 331.60,245.28 328.60,248.28 325.60,245.28" fill="#fff" stroke="#111" stroke-width="0.9"/>
<polygon points="329.50,241.31 332.50,244.31 329.50,247.31 326.50,244.31" fill="#fff" stroke="#111" stroke-width="0.9"/>
<polygon points="330.40,241.61 333.40,244.61 330.40,247.61 327.40,244.61" fill="#fff" stroke="#111" stroke-width="0.9"/>
<polygon points="331.30,242.36 334.30,245.36 331.30,248.36 328.30,245.36" fill="#fff" stroke="#111" stroke-width="0.9"/>
<polygon points="332.20,243.15 335.20,246.15 332.20,249.15 329.20,246.15" fill="#fff" stroke="#111" stroke-width="0.9"/>
<polygon points="333.10,243.11 336.10,246.11 333.10,249.11 330.10,246.11" fill="#fff" stroke="#111" stroke-width="0.9"/>
<polygon points="334.00,243.57 337.00,246.57 334.00,249.57 331.00,246.57" fill="#fff" stroke="#111" stroke-width="0.9"/>
<polygon points="334.90,243.15 337.90,246.15 334.90,249.15 331.90,246.15" fill="#fff" stroke="#111" stroke-width="0.9"/>
<polygon points="335.80,243.48 338.80,246.48 335.80,249.48 332.80,246.48" fill="#fff" stroke="#111" stroke-width="0.9"/>
<polygon points="336.70,243.21 339.70,246.21 336.70,249.21 333.70,246.21" fill="#fff" stroke="#111" stroke-width="0.9"/>
<polygon points="337.60,243.82 340.60,246.82 337.60,249.82 334.60,246.82" fill="#fff" stroke="#111" stroke-width="0.9"/>
<polygon points="338.50,244.48 341.50,247.48 338.50,250.48 335.50,247.48" fill="#fff" stroke="#111" stroke-width="0.9"/>
<polygon points="339.40,244.23 342.40,247.23 339.40,250.23 336.40,247.23" fill="#fff" stroke="#111" stroke-width="0.9"/>
<polygon points="340.30,244.82 343.30,247.82 340.30,250.82 337.30,247.82" fill="#fff" stroke="#111" stroke-width="0.9"/>
<polygon points="341.20,244.50 344.20,247.50 341.20,250.50 338.20,247.50" fill="#fff" stroke="#111" stroke-width="0.9"/>
<polygon points="342.10,244.70 345.10,247.70 342.10,250.70 339.10,247.70" fill="#fff" stroke="#111" stroke-width="0.9"/>
<polygon points="343.00,245.22 346.00,248.22 343.00,251.22 340.00,248.22" fill="#fff" stroke="#111" stroke-width="0.9"/>
<polygon points="343.90,245.30 346.90,248.30 343.90,251.30 340.90,248.30" fill="#fff" stroke="#111" stroke-width="0.9"/>
<polygon points="344.80,245.90 347.80,248.90 344.80,251.90 341.80,248.90" fill="#fff" stroke="#111" stroke-width="0.9"/>
<polygon points="345.70,245.90 348.70,248.90 345.70,251.90 342.70,248.90" fill="#fff" stroke="#111" stroke-width="0.9"/>
<polygon points="346.60,246.88 349.60,249.88 346.60,252.88 343.60,249.88" fill="#fff" stroke="#111" stroke-width="0.9"/>
<polygon points="347.50,246.07 350.50,249.07 347.50,252.07 344.50,249.07" fill="#fff" stroke="#111" stroke-width="0.9"/>
<polygon points="348.40,246.20 351.40,249.20 348.40,252.20 345.40,249.20" fill="#fff" stroke="#111" stroke-width="0.9"/>
<polygon points="349.30,245.94 352.30,248.94 349.30,251.94 346.30,248.94" fill="#fff" stroke="#111" stroke-width="0.9"/>
<polygon points="350.20,246.61 353.20,249.61 350.20,252.61 347.20,249.61" fill="#fff" stroke="#111" stroke-width="0.9"/>
<polygon points="351.10,247.08 354.10,250.08 351.10,253.08 348.10,250.08" fill="#fff" stroke="#111" stroke-width="0.9"/>
<polygon points="352.00,246.50 355.00,249.50 352.00,252.50 349.00,249.50" fill="#fff" stroke="#111" stroke-width="0.9"/>
<polygon points="352.90,246.99 355.90,249.99 352.90,252.99 349.90,249.99" fill="#fff" stroke="#111" stroke-width="0.9"/>
<polygon points="353.80,247.51 356.80,250.51 353.80,253.51 350.80,250.51" fill="#fff" stroke="#111" stroke-width="0.9"/>
<polygon points="354.70,247.23 357.70,250.23 354.70,253.23 351.70,250.23" fill="#fff" stroke="#111" stroke-width="0.9"/>
<polygon points="355.60,247.17 358.60,250.17 355.60,253.17 352.60,250.17" fill="#fff" stroke="#111" stroke-width="0.9"/>
<polygon points="356.50,248.06 359.50,251.06 356.50,254.06 353.50,251.06" fill="#fff" stroke="#111" stroke-width="0.9"/>
<polygon points="357.40,247.76 360.40,250.76 357.40,253.76 354.40,250.76" fill="#fff" stroke="#111" stroke-width="0.9"/>
<polygon points="358.30,248.05 361.30,251.05 358.30,254.05 355.30,251.05" fill="#fff" stroke="#111" stroke-width="0.9"/>
<polygon points="359.20,248.58 362.20,251.58 359.20,254.58 356.20,251.58" fill="#fff" stroke="#111" stroke-width="0.9"/>
<polygon points="360.10,248.70 363.10,251.70 360.10,254.70 357.10,251.70" fill="#fff" stroke="#111" stroke-width="0.9"/>
<polygon points="361.00,248.10 364.00,251.10 361.00,254.10 358.00,251.10" fill="#fff" stroke="#111" stroke-width="0.9"/>
<polygon points="361.90,248.15 364.90,251.15 361.90,254.15 358.90,251.15" fill="#fff" stroke="#111" stroke-width="0.9"/>
<polygon points="362.80,248.69 365.80,251.69 362.80,254.69 359.80,251.69" fill="#fff" stroke="#111" stroke-width="0.9"/>
<polygon points="363.70,248.62 366.70,251.62 363.70,254.62 360.70,251.62" fill="#fff" stroke="#111" stroke-width="0.9"/>
<polygon points="364.60,247.88 367.60,250.88 364.60,253.88 361.60,250.88" fill="#fff" stroke="#111" stroke-width="0.9"/>
<polygon points="365.50,249.61 368.50,252.61 365.50,255.61 362.50,252.61" fill="#fff" stroke="#111" stroke-width="0.9"/>
<polygon points="366.40,249.12 369.40,252.12 366.40,255.12 363.40,252.12" fill="#fff" stroke="#111" stroke-width="0.9"/>
<polygon points="367.30,249.60 370.30,252.60 367.30,255.60 364.30,252.60" fill="#fff" stroke="#111" stroke-width="0.9"/>
<polygon points="368.20,248.73 371.20,251.73 368.20,254.73 365.20,251.73" fill="#fff" stroke="#111" stroke-width="0.9"/>
<polygon points="369.10,250.05 372.10,253.05 369.10,256.05 366.10,253.05" fill="#fff" stroke="#111" stroke-width="0.9"/>
<polygon points="370.00,249.19 373.00,252.19 370.00,255.19 367.00,252.19" fill="#fff" stroke="#111" stroke-width="0.9"/>
<polygon points="370.90,249.52 373.90,252.52 370.90,255.52 367.90,252.52" fill="#fff" stroke="#111" stroke-width="0.9"/>
<polygon points="371.80,248.96 374.80,251.96 371.80,254.96 368.80,251.96" fill="#fff" stroke="#111" stroke-width="0.9"/>
<polygon points="372.70,249.66 375.70,252.66 372.70,255.66 369.70,252.66" fill="#fff" stroke="#111" stroke-width="0.9"/>
<polygon points="373.60,249.72 376.60,252.72 373.60,255.72 370.60,252.72" fill="#fff" stroke="#111" stroke-width="0.9"/>
<polygon points="374.50,249.83 377.50,252.83 374.50,255.83 371.50,252.83" fill="#fff" stroke="#111" stroke-width="0.9"/>
<polygon points="375.40,250.23 378.40,253.23 375.40,256.23 372.40,253.23" fill="#fff" stroke="#111" stroke-width="0.9"/>
<polygon points="376.30,250.12 379.30,253.12 376.30,256.12 373.30,253.12" fill="#fff" stroke="#111" stroke-width="0.9"/>
<polygon points="377.20,250.67 380.20,253.67 377.20,256.67 374.20,253.67" fill="#fff" stroke="#111" stroke-width="0.9"/>
<polygon points="378.10,250.03 381.10,253.03 378.10,256.03 375.10,253.03" fill="#fff" stroke="#111" stroke-width="0.9"/>
<polygon points="379.00,249.86 382.00,252.86 379.00,255.86 376.00,252.86" fill="#fff" stroke="#111" stroke-width="0.9"/>
<polygon points="379.90,250.43 382.90,253.43 379.90,256.43 376.90,253.43" fill="#fff" stroke="#111" stroke-width="0.9"/>
<polygon points="380.80,250.84 383.80,253.84 380.80,256.84 377.80,253.84" fill="#fff" stroke="#111" stroke-width="0.9"/>
<polygon points="381.70,251.24 384.70,254.24 381.70,257.24 378.70,254.24" fill="#fff" stroke="#111" stroke-width="0.9"/>
<polygon points="382.60,250.70 385.60,253.70 382.60,256.70 379.60,253.70" fill="#fff" stroke="#111" stroke-width="0.9"/>
<polygon points="383.60,323.62 386.60,326.62 383.60,329.62 380.60,326.62" fill="#fff" stroke="#111" stroke-width="0.9"/>
<polygon points="384.50,323.66 387.50,326.66 384.50,329.66 381.50,326.66" fill="#fff" stroke="#111" stroke-width="0.9"/>
<polygon points="385.40,324.40 388.40,327.40 385.40,330.40 382.40,327.40" fill="#fff" stroke="#111" stroke-width="0.9"/>
<polygon points="386.30,324.98 389.30,327.98 386.30,330.98 383.30,327.98" fill="#fff" stroke="#111" stroke-width="0.9"/>
<polygon points="387.20,325.20 390.20,328.20 387.20,331.20 384.20,328.20" fill="#fff" stroke="#111" stroke-width="0.9"/>
<polygon points="388.10,325.53 391.10,328.53 388.10,331.53 385.10,328.53" fill="#fff" stroke="#111" stroke-width="0.9"/>
<polygon points="389.00,326.08 392.00,329.08 389.00,332.08 386.00,329.08" fill="#fff" stroke="#111" stroke-width="0.9"/>
<polygon points="389.90,326.38 392.90,329.38 389.90,332.38 386.90,329.38" fill="#fff" stroke="#111" stroke-width="0.9"/>
<polygon points="390.80,326.85 393.80,329.85 390.80,332.85 387.80,329.85" fill="#fff" stroke="#111" stroke-width="0.9"/>
<polygon points="391.70,327.03 394.70,330.03 391.70,333.03 388.70,330.03" fill="#fff" stroke="#111" stroke-width="0.9"/>
<polygon points="392.60,327.52 395.60,330.52 392.60,333.52 389.60,330.52" fill="#fff" stroke="#111" stroke-width="0.9"/>
<polygon points="393.50,327.67 396.50,330.67 393.50,333.67 390.50,330.67" fill="#fff" stroke="#111" stroke-width="0.9"/>
<polygon points="394.40,327.77 397.40,330.77 394.40,333.77 391.40,330.77" fill="#fff" stroke="#111" stroke-width="0.9"/>
<polygon points="395.30,328.25 398.30,331.25 395.30,334.25 392.30,331.25" fill="#fff" stroke="#111" stroke-width="0.9"/>
<polygon points="396.20,328.58 399.20,331.58 396.20,334.58 393.20,331.58" fill="#fff" stroke="#111" stroke-width="0.9"/>
<polygon points="397.10,328.63 400.10,331.63 397.10,334.63 394.10,331.63" fill="#fff" stroke="#111" stroke-width="0.9"/>
<polygon points="398.00,328.94 401.00,331.94 398.00,334.94 395.00,331.94" fill="#fff" stroke="#111" stroke-width="0.9"/>
<polygon points="398.90,328.79 401.90,331.79 398.90,334.79 395.90,331.79" fill="#fff" stroke="#111" stroke-width="0.9"/>
<polygon points="399.80,329.41 402.80,332.41 399.80,335.41 396.80,332.41" fill="#fff" stroke="#111" stroke-width="0.9"/>
<polygon points="400.70,329.32 403.70,332.32 400.70,335.32 397.70,332.32" fill="#fff" stroke="#111" stroke-width="0.9"/>
<polygon points="401.60,329.23 404.60,332.23 401.60,335.23 398.60,332.23" fill="#fff" stroke="#111" stroke-width="0.9"/>
<polygon points="402.50,329.41 405.50,332.41 402.50,335.41 399.50,332.41" fill="#fff" stroke="#111" stroke-width="0.9"/>
<polygon points="403.40,329.78 406.40,332.78 403.40,335.78 400.40,332.78" fill="#fff" stroke="#111" stroke-width="0.9"/>
<polygon points="404.30,330.07 407.30,333.07 404.30,336.07 401.30,333.07" fill="#fff" stroke="#111" stroke-width="0.9"/>
<polygon points="405.20,330.08 408.20,333.08 405.20,336.08 402.20,333.08" fill="#fff" stroke="#111" stroke-width="0.9"/>
<polygon points="406.10,330.22 409.10,333.22 406.10,336.22 403.10,333.22" fill="#fff" stroke="#111" stroke-width="0.9"/>
<polygon points="407.60,255.04 410.60,258.04 407.60,261.04 404.60,258.04" fill="#fff" stroke="#111" stroke-width="0.9"/>
<polygon points="408.50,254.25 411.50,257.25 408.50,260.25 405.50,257.25" fill="#fff" stroke="#111" stroke-width="0.9"/>
<polygon points="409.40,254.13 412.40,257.13 409.40,260.13 406.40,257.13" fill="#fff" stroke="#111" stroke-width="0.9"/>
<polygon points="410.30,255.24 413.30,258.24 410.30,261.24 407.30,258.24" fill="#fff" stroke="#111" stroke-width="0.9"/>
<polygon points="411.20,255.05 414.20,258.05 411.20,261.05 408.20,258.05" fill="#fff" stroke="#111" stroke-width="0.9"/>
<polygon points="412.10,254.78 415.10,257.78 412.10,260.78 409.10,257.78" fill="#fff" stroke="#111" stroke-width="0.9"/>
<polygon points="413.00,255.44 416.00,258.44 413.00,261.44 410.00,258.44" fill="#fff" stroke="#111" stroke-width="0.9"/>
<polygon points="413.90,254.32 416.90,257.32 413.90,260.32 410.90,257.32" fill="#fff" stroke="#111" stroke-width="0.9"/>
<polygon points="414.80,254.59 417.80,257.59 414.80,260.59 411.80,257.59" fill="#fff" stroke="#111" stroke-width="0.9"/>
<polygon points="415.70,255.31 418.70,258.31 415.70,261.31 412.70,258.31" fill="#fff" stroke="#111" stroke-width="0.9"/>
<polygon points="416.60,255.72 419.60,258.72 416.60,261.72 413.60,258.72" fill="#fff" stroke="#111" stroke-width="0.9"/>
<polygon points="417.50,254.80 420.50,257.80 417.50,260.80 414.50,257.80" fill="#fff" stroke="#111" stroke-width="0.9"/>
<polygon points="418.40,255.64 421.40,258.64 418.40,261.64 415.40,258.64" fill="#fff" stroke="#111" stroke-width="0.9"/>
<polygon points="419.30,254.50 422.30,257.50 419.30,260.50 416.30,257.50" fill="#fff" stroke="#111" stroke-width="0.9"/>
<polygon points="420.20,254.96 423.20,257.96 420.20,260.96 417.20,257.96" fill="#fff" stroke="#111" stroke-width="0.9"/>
<polygon points="421.10,254.71 424.10,257.71 421.10,260.71 418.10,257.71" fill="#fff" stroke="#111" stroke-width="0.9"/>
<polygon points="422.00,254.01 425.00,257.01 422.00,260.01 419.00,257.01" fill="#fff" stroke="#111" stroke-width="0.9"/>
<polygon points="422.90,254.93 425.90,257.93 422.90,260.93 419.90,257.93" fill="#fff" stroke="#111" stroke-width="0.9"/>
<polygon points="423.80,255.27 426.80,258.27 423.80,261.27 420.80,258.27" fill="#fff" stroke="#111" stroke-width="0.9"/>
<polygon points="424.70,254.73 427.70,257.73 424.70,260.73 421.70,257.73" fill="#fff" stroke="#111" stroke-width="0.9"/>
<polygon points="425.60,254.76 428.60,257.76 425.60,260.76 422.60,257.76" fill="#fff" stroke="#111" stroke-width="0.9"/>
<polygon points="426.50,255.50 429.50,258.50 426.50,261.50 423.50,258.50" fill="#fff" stroke="#111" stroke-width="0.9"/>
<polygon points="427.40,254.18 430.40,257.18 427.40,260.18 424.40,257.18" fill="#fff" stroke="#111" stroke-width="0.9"/>
<polygon points="428.30,254.05 431.30,257.05 428.30,260.05 425.30,257.05" fill="#fff" stroke="#111" stroke-width="0.9"/>
<polygon points="429.20,254.47 432.20,257.47 429.20,260.47 426.20,257.47" fill="#fff" stroke="#111" stroke-width="0.9"/>
<polygon points="430.10,254.20 433.10,257.20 430.10,260.20 427.10,257.20" fill="#fff" stroke="#111" stroke-width="0.9"/>
<polygon points="431.00,255.50 434.00,258.50 431.00,261.50 428.00,258.50" fill="#fff" stroke="#111" stroke-width="0.9"/>
<polygon points="431.90,255.01 434.90,258.01 431.90,261.01 428.90,258.01" fill="#fff" stroke="#111" stroke-width="0.9"/>
<polygon points="432.80,254.45 435.80,257.45 432.80,260.45 429.80,257.45" fill="#fff" stroke="#111" stroke-width="0.9"/>
<polygon points="433.70,254.60 436.70,257.60 433.70,260.60 430.70,257.60" fill="#fff" stroke="#111" stroke-width="0.9"/>
<polygon points="434.60,256.36 437.60,259.36 434.60,262.36 431.60,259.36" fill="#fff" stroke="#111" stroke-width="0.9"/>
<polygon points="435.50,254.65 438.50,257.65 435.50,260.65 432.50,257.65" fill="#fff" stroke="#111" stroke-width="0.9"/>
<polygon points="436.40,254.60 439.40,257.60 436.40,260.60 433.40,257.60" fill="#fff" stroke="#111" stroke-width="0.9"/>
<polygon points="437.30,255.16 440.30,258.16 437.30,261.16 434.30,258.16" fill="#fff" stroke="#111" stroke-width="0.9"/>
<polygon points="438.20,255.35 441.20,258.35 438.20,261.35 435.20,258.35" fill="#fff" stroke="#111" stroke-width="0.9"/>
<polygon points="439.10,255.17 442.10,258.17 439.10,261.17 436.10,258.17" fill="#fff" stroke="#111" stroke-width="0.9"/>
<polygon points="440.00,254.63 443.00,257.63 440.00,260.63 437.00,257.63" fill="#fff" stroke="#111" stroke-width="0.9"/>
<polygon points="440.90,254.53 443.90,257.53 440.90,260.53 437.90,257.53" fill="#fff" stroke="#111" stroke-width="0.9"/>
<polygon points="441.80,255.43 444.80,258.43 441.80,261.43 438.80,258.43" fill="#fff" stroke="#111" stroke-width="0.9"/>
<polygon points="442.70,255.13 445.70,258.13 442.70,261.13 439.70,258.13" fill="#fff" stroke="#111" stroke-width="0.9"/>
<polygon points="443.60,254.36 446.60,257.36 443.60,260.36 440.60,257.36" fill="#fff" stroke="#111" stroke-width="0.9"/>
<polygon points="444.50,255.79 447.50,258.79 444.50,261.79 441.50,258.79" fill="#fff" stroke="#111" stroke-width="0.9"/>
<polygon points="445.40,255.62 448.40,258.62 445.40,261.62 442.40,258.62" fill="#fff" stroke="#111" stroke-width="0.9"/>
<polygon points="446.30,255.14 449.30,258.14 446.30,261.14 443.30,258.14" fill="#fff" stroke="#111" stroke-width="0.9"/>
<polygon points="447.20,255.15 450.20,258.15 447.20,261.15 444.20,258.15" fill="#fff" stroke="#111" stroke-width="0.9"/>
<polygon points="448.10,255.42 451.10,258.42 448.10,261.42 445.10,258.42" fill="#fff" stroke="#111" stroke-width="0.9"/>
<polygon points="449.00,254.99 452.00,257.99 449.00,260.99 446.00,257.99" fill="#fff" stroke="#111" stroke-width="0.9"/>
<polygon points="449.90,254.68 452.90,257.68 449.90,260.68 446.90,257.68" fill="#fff" stroke="#111" stroke-width="0.9"/>
<polygon points="450.80,255.54 453.80,258.54 450.80,261.54 447.80,258.54" fill="#fff" stroke="#111" stroke-width="0.9"/>
<polygon points="451.70,254.69 454.70,257.69 451.70,260.69 448.70,257.69" fill="#fff" stroke="#111" stroke-width="0.9"/>
<polygon points="452.60,255.63 455.60,258.63 452.60,261.63 449.60,258.63" fill="#fff" stroke="#111" stroke-width="0.9"/>
<polygon points="453.50,254.74 456.50,257.74 453.50,260.74 450.50,257.74" fill="#fff" stroke="#111" stroke-width="0.9"/>
<polygon points="454.40,255.43 457.40,258.43 454.40,261.43 451.40,258.43" fill="#fff" stroke="#111" stroke-width="0.9"/>
<polygon points="455.30,255.44 458.30,258.44 455.30,261.44 452.30,258.44" fill="#fff" stroke="#111" stroke-width="0.9"/>
<polygon points="456.20,256.44 459.20,259.44 456.20,262.44 453.20,259.44" fill="#fff" stroke="#111" stroke-width="0.9"/>
<polygon points="457.10,255.06 460.10,258.06 457.10,261.06 454.10,258.06" fill="#fff" stroke="#111" stroke-width="0.9"/>
<polygon points="458.00,254.92 461.00,257.92 458.00,260.92 455.00,257.92" fill="#fff" stroke="#111" stroke-width="0.9"/>
<polygon points="458.90,255.34 461.90,258.34 458.90,261.34 455.90,258.34" fill="#fff" stroke="#111" stroke-width="0.9"/>
<polygon points="459.80,255.14 462.80,258.14 459.80,261.14 456.80,258.14" fill="#fff" stroke="#111" stroke-width="0.9"/>
<polygon points="460.70,255.45 463.70,258.45 460.70,261.45 457.70,258.45" fill="#fff" stroke="#111" stroke-width="0.9"/>
<polygon points="461.60,255.99 464.60,258.99 461.60,261.99 458.60,258.99" fill="#fff" stroke="#111" stroke-width="0.9"/>
<polygon points="462.50,256.20 465.50,259.20 462.50,262.20 459.50,259.20" fill="#fff" stroke="#111" stroke-width="0.9"/>
<polygon points="463.40,256.69 466.40,259.69 463.40,262.69 460.40,259.69" fill="#fff" stroke="#111" stroke-width="0.9"/>
<polygon points="464.30,255.53 467.30,258.53 464.30,261.53 461.30,258.53" fill="#fff" stroke="#111" stroke-width="0.9"/>
<polygon points="465.20,257.25 468.20,260.25 465.20,263.25 462.20,260.25" fill="#fff" stroke="#111" stroke-width="0.9"/>
<polygon points="466.10,256.96 469.10,259.96 466.10,262.96 463.10,259.96" fill="#fff" stroke="#111" stroke-width="0.9"/>
<polygon points="467.00,255.91 470.00,258.91 467.00,261.91 464.00,258.91" fill="#fff" stroke="#111" stroke-width="0.9"/>
<polygon points="467.90,254.90 470.90,257.90 467.90,260.90 464.90,257.90" fill="#fff" stroke="#111" stroke-width="0.9"/>
<polygon points="468.80,256.04 471.80,259.04 468.80,262.04 465.80,259.04" fill="#fff" stroke="#111" stroke-width="0.9"/>
<polygon points="469.70,256.16 472.70,259.16 469.70,262.16 466.70,259.16" fill="#fff" stroke="#111" stroke-width="0.9"/>
<polygon points="470.60,255.01 473.60,258.01 470.60,261.01 467.60,258.01" fill="#fff" stroke="#111" stroke-width="0.9"/>
<polygon points="471.50,256.24 474.50,259.24 471.50,262.24 468.50,259.24" fill="#fff" stroke="#111" stroke-width="0.9"/>
<polygon points="472.40,256.14 475.40,259.14 472.40,262.14 469.40,259.14" fill="#fff" stroke="#111" stroke-width="0.9"/>
<polygon points="473.30,255.88 476.30,258.88 473.30,261.88 470.30,258.88" fill="#fff" stroke="#111" stroke-width="0.9"/>
<polygon points="474.20,256.63 477.20,259.63 474.20,262.63 471.20,259.63" fill="#fff" stroke="#111" stroke-width="0.9"/>
<polygon points="475.10,256.85 478.10,259.85 475.10,262.85 472.10,259.85" fill="#fff" stroke="#111" stroke-width="0.9"/>
<polygon points="476.00,256.15 479.00,259.15 476.00,262.15 473.00,259.15" fill="#fff" stroke="#111" stroke-width="0.9"/>
<polygon points="476.90,256.54 479.90,259.54 476.90,262.54 473.90,259.54" fill="#fff" stroke="#111" stroke-width="0.9"/>
<polygon points="477.80,256.47 480.80,259.47 477.80,262.47 474.80,259.47" fill="#fff" stroke="#111" stroke-width="0.9"/>
<polygon points="311.50,221.92 312.27,223.97 314.45,224.06 312.74,225.42 313.32,227.53 311.50,226.32 309.68,227.53 310.26,225.42 308.55,224.06 310.73,223.97" fill="#fff" stroke="#111" stroke-width="0.9"/>
<polygon points="312.40,222.17 313.17,224.22 315.35,224.31 313.64,225.67 314.22,227.78 312.40,226.57 310.58,227.78 311.16,225.67 309.45,224.31 311.63,224.22" fill="#fff" stroke="#111" stroke-width="0.9"/>
<polygon points="313.30,222.92 314.07,224.96 316.25,225.06 314.54,226.42 315.12,228.53 313.30,227.32 311.48,228.53 312.06,226.42 310.35,225.06 312.53,224.96" fill="#fff" stroke="#111" stroke-width="0.9"/>
<polygon points="314.20,223.45 314.97,225.50 317.15,225.60 315.44,226.96 316.02,229.06 314.20,227.86 312.38,229.06 312.96,226.96 311.25,225.60 313.43,225.50" fill="#fff" stroke="#111" stroke-width="0.9"/>
<polygon points="315.10,223.23 315.87,225.27 318.05,225.37 316.34,226.73 316.92,228.83 315.10,227.63 313.28,228.83 313.86,226.73 312.15,225.37 314.33,225.27" fill="#fff" stroke="#111" stroke-width="0.9"/>
<polygon points="316.00,222.72 316.77,224.76 318.95,224.86 317.24,226.22 317.82,228.32 316.00,227.12 314.18,228.32 314.76,226.22 313.05,224.86 315.23,224.76" fill="#fff" stroke="#111" stroke-width="0.9"/>
<polygon points="316.90,224.43 317.67,226.48 319.85,226.57 318.14,227.93 318.72,230.04 316.90,228.83 315.08,230.04 315.66,227.93 313.95,226.57 316.13,226.48" fill="#fff" stroke="#111" stroke-width="0.9"/>
<polygon points="317.80,223.65 318.57,225.70 320.75,225.80 319.04,227.16 319.62,229.26 317.80,228.06 315.98,229.26 316.56,227.16 314.85,225.80 317.03,225.70" fill="#fff" stroke="#111" stroke-width="0.9"/>
<polygon points="318.70,224.83 319.47,226.88 321.65,226.97 319.94,228.33 320.52,230.44 318.70,229.23 316.88,230.44 317.46,228.33 315.75,226.97 317.93,226.88" fill="#fff" stroke="#111" stroke-width="0.9"/>
<polygon points="319.60,225.97 320.37,228.02 322.55,228.11 320.84,229.47 321.42,231.58 319.60,230.37 317.78,231.58 318.36,229.47 316.65,228.11 318.83,228.02" fill="#fff" stroke="#111" stroke-width="0.9"/>
<polygon points="320.50,225.39 321.27,227.44 323.45,227.53 321.74,228.89 322.32,231.00 320.50,229.79 318.68,231.00 319.26,228.89 317.55,227.53 319.73,227.44" fill="#fff" stroke="#111" stroke-width="0.9"/>
<polygon points="321.40,225.12 322.17,227.16 324.35,227.26 322.64,228.62 323.22,230.73 321.40,229.52 319.58,230.73 320.16,228.62 318.45,227.26 320.63,227.16" fill="#fff" stroke="#111" stroke-width="0.9"/>
<polygon points="322.30,225.30 323.07,227.34 325.25,227.44 323.54,228.80 324.12,230.91 322.30,229.70 320.48,230.91 321.06,228.80 319.35,227.44 321.53,227.34" fill="#fff" stroke="#111" stroke-width="0.9"/>
<polygon points="323.20,226.93 323.97,228.97 326.15,229.07 324.44,230.43 325.02,232.54 323.20,231.33 321.38,232.54 321.96,230.43 320.25,229.07 322.43,228.97" fill="#fff" stroke="#111" stroke-width="0.9"/>
<polygon points="324.10,226.65 324.87,228.70 327.05,228.79 325.34,230.15 325.92,232.26 324.10,231.05 322.28,232.26 322.86,230.15 321.15,228.79 323.33,228.70" fill="#fff" stroke="#111" stroke-width="0.9"/>
<polygon points="325.00,227.24 325.77,229.29 327.95,229.38 326.24,230.75 326.82,232.85 325.00,231.64 323.18,232.85 323.76,230.75 322.05,229.38 324.23,229.29" fill="#fff" stroke="#111" stroke-width="0.9"/>
<polygon points="325.90,227.75 326.67,229.80 328.85,229.89 327.14,231.25 327.72,233.36 325.90,232.15 324.08,233.36 324.66,231.25 322.95,229.89 325.13,229.80" fill="#fff" stroke="#111" stroke-width="0.9"/>
<polygon points="326.80,227.58 327.57,229.63 329.75,229.72 328.04,231.08 328.62,233.19 326.80,231.98 324.98,233.19 325.56,231.08 323.85,229.72 326.03,229.63" fill="#fff" stroke="#111" stroke-width="0.9"/>
<polygon points="327.70,227.76 328.47,229.81 330.65,229.91 328.94,231.27 329.52,233.37 327.70,232.17 325.88,233.37 326.46,231.27 324.75,229.91 326.93,229.81" fill="#fff" stroke="#111" stroke-width="0.9"/>
<polygon points="328.60,227.76 329.37,229.81 331.55,229.90 329.84,231.26 330.42,233.37 328.60,232.16 326.78,233.37 327.36,231.26 325.65,229.90 327.83,229.81" fill="#fff" stroke="#111" stroke-width="0.9"/>
<polygon points="329.50,227.01 330.27,229.05 332.45,229.15 330.74,230.51 331.32,232.61 329.50,231.41 327.68,232.61 328.26,230.51 326.55,229.15 328.73,229.05" fill="#fff" stroke="#111" stroke-width="0.9"/>
<polygon points="330.40,228.10 331.17,230.15 333.35,230.25 331.64,231.61 332.22,233.71 330.40,232.51 328.58,233.71 329.16,231.61 327.45,230.25 329.63,230.15" fill="#fff" stroke="#111" stroke-width="0.9"/>
<polygon points="331.30,229.14 332.07,231.19 334.25,231.29 332.54,232.65 333.12,234.75 331.30,233.55 329.48,234.75 330.06,232.65 328.35,231.29 330.53,231.19" fill="#fff" stroke="#111" stroke-width="0.9"/>
<polygon points="332.20,229.34 332.97,231.38 335.15,231.48 333.44,232.84 334.02,234.94 332.20,233.74 330.38,234.94 330.96,232.84 329.25,231.48 331.43,231.38" fill="#fff" stroke="#111" stroke-width="0.9"/>
<polygon points="333.10,229.85 333.87,231.90 336.05,231.99 334.34,233.35 334.92,235.46 333.10,234.25 331.28,235.46 331.86,233.35 330.15,231.99 332.33,231.90" fill="#fff" stroke="#111" stroke-width="0.9"/>
<polygon points="334.00,229.81 334.77,231.86 336.95,231.96 335.24,233.32 335.82,235.42 334.00,234.22 332.18,235.42 332.76,233.32 331.05,231.96 333.23,231.86" fill="#fff" stroke="#111" stroke-width="0.9"/>
<polygon points="334.90,230.18 335.67,232.23 337.85,232.33 336.14,233.69 336.72,235.79 334.90,234.59 333.08,235.79 333.66,233.69 331.95,232.33 334.13,232.23" fill="#fff" stroke="#111" stroke-width="0.9"/>
<polygon points="335.80,230.72 336.57,232.77 338.75,232.87 337.04,234.23 337.62,236.33 335.80,235.13 333.98,236.33 334.56,234.23 332.85,232.87 335.03,232.77" fill="#fff" stroke="#111" stroke-width="0.9"/>
<polygon points="336.70,230.11 337.47,232.16 339.65,232.26 337.94,233.62 338.52,235.72 336.70,234.52 334.88,235.72 335.46,233.62 333.75,232.26 335.93,232.16" fill="#fff" stroke="#111" stroke-width="0.9"/>
<polygon points="337.60,230.64 338.37,232.69 340.55,232.78 338.84,234.14 339.42,236.25 337.60,235.04 335.78,236.25 336.36,234.14 334.65,232.78 336.83,232.69" fill="#fff" stroke="#111" stroke-width="0.9"/>
<polygon points="338.50,230.21 339.27,232.25 341.45,232.35 339.74,233.71 340.32,235.81 338.50,234.61 336.68,235.81 337.26,233.71 335.55,232.35 337.73,232.25" fill="#fff" stroke="#111" stroke-width="0.9"/>
<polygon points="339.40,231.72 340.17,233.77 342.35,233.86 340.64,235.22 341.22,237.33 339.40,236.12 337.58,237.33 338.16,235.22 336.45,233.86 338.63,233.77" fill="#fff" stroke="#111" stroke-width="0.9"/>
<polygon points="340.30,231.48 341.07,233.53 343.25,233.62 341.54,234.98 342.12,237.09 340.30,235.88 338.48,237.09 339.06,234.98 337.35,233.62 339.53,233.53" fill="#fff" stroke="#111" stroke-width="0.9"/>
<polygon points="341.20,231.93 341.97,233.98 344.15,234.08 342.44,235.44 343.02,237.54 341.20,236.34 339.38,237.54 339.96,235.44 338.25,234.08 340.43,233.98" fill="#fff" stroke="#111" stroke-width="0.9"/>
<polygon points="342.10,232.69 342.87,234.73 345.05,234.83 343.34,236.19 343.92,238.29 342.10,237.09 340.28,238.29 340.86,236.19 339.15,234.83 341.33,234.73" fill="#fff" stroke="#111" stroke-width="0.9"/>
<polygon points="343.00,232.68 343.77,234.73 345.95,234.82 344.24,236.18 344.82,238.29 343.00,237.08 341.18,238.29 341.76,236.18 340.05,234.82 342.23,234.73" fill="#fff" stroke="#111" stroke-width="0.9"/>
<polygon points="343.90,232.34 344.67,234.38 346.85,234.48 345.14,235.84 345.72,237.95 343.90,236.74 342.08,237.95 342.66,235.84 340.95,234.48 343.13,234.38" fill="#fff" stroke="#111" stroke-width="0.9"/>
<polygon points="344.80,232.99 345.57,235.03 347.75,235.13 346.04,236.49 346.62,238.60 344.80,237.39 342.98,238.60 343.56,236.49 341.85,235.13 344.03,235.03" fill="#fff" stroke="#111" stroke-width="0.9"/>
<polygon points="345.70,232.11 346.47,234.15 348.65,234.25 346.94,235.61 347.52,237.71 345.70,236.51 343.88,237.71 344.46,235.61 342.75,234.25 344.93,234.15" fill="#fff" stroke="#111" stroke-width="0.9"/>
<polygon points="346.60,233.26 347.37,235.31 349.55,235.41 347.84,236.77 348.42,238.87 346.60,237.67 344.78,238.87 345.36,236.77 343.65,235.41 345.83,235.31" fill="#fff" stroke="#111" stroke-width="0.9"/>
<polygon points="347.50,233.30 348.27,235.35 350.45,235.45 348.74,236.81 349.32,238.91 347.50,237.71 345.68,238.91 346.26,236.81 344.55,235.45 346.73,235.35" fill="#fff" stroke="#111" stroke-width="0.9"/>
<polygon points="348.40,232.58 349.17,234.63 351.35,234.73 349.64,236.09 350.22,238.19 348.40,236.99 346.58,238.19 347.16,236.09 345.45,234.73 347.63,234.63" fill="#fff" stroke="#111" stroke-width="0.9"/>
<polygon points="349.30,234.22 350.07,236.27 352.25,236.36 350.54,237.72 351.12,239.83 349.30,238.62 347.48,239.83 348.06,237.72 346.35,236.36 348.53,236.27" fill="#fff" stroke="#111" stroke-width="0.9"/>
<polygon points="350.20,233.36 350.97,235.40 353.15,235.50 351.44,236.86 352.02,238.96 350.20,237.76 348.38,238.96 348.96,236.86 347.25,235.50 349.43,235.40" fill="#fff" stroke="#111" stroke-width="0.9"/>
<polygon points="351.10,234.21 351.87,236.25 354.05,236.35 352.34,237.71 352.92,239.82 351.10,238.61 349.28,239.82 349.86,237.71 348.15,236.35 350.33,236.25" fill="#fff" stroke="#111" stroke-width="0.9"/>
<polygon points="352.00,233.81 352.77,235.86 354.95,235.96 353.24,237.32 353.82,239.42 352.00,238.22 350.18,239.42 350.76,237.32 349.05,235.96 351.23,235.86" fill="#fff" stroke="#111" stroke-width="0.9"/>
<polygon points="352.90,234.68 353.67,236.72 355.85,236.82 354.14,238.18 354.72,240.29 352.90,239.08 351.08,240.29 351.66,238.18 349.95,236.82 352.13,236.72" fill="#fff" stroke="#111" stroke-width="0.9"/>
<polygon points="353.80,234.99 354.57,237.04 356.75,237.14 355.04,238.50 355.62,240.60 353.80,239.40 351.98,240.60 352.56,238.50 350.85,237.14 353.03,237.04" fill="#fff" stroke="#111" stroke-width="0.9"/>
<polygon points="354.70,234.08 355.47,236.13 357.65,236.22 355.94,237.58 356.52,239.69 354.70,238.48 352.88,239.69 353.46,237.58 351.75,236.22 353.93,236.13" fill="#fff" stroke="#111" stroke-width="0.9"/>
<polygon points="355.60,233.89 356.37,235.93 358.55,236.03 356.84,237.39 357.42,239.50 355.60,238.29 353.78,239.50 354.36,237.39 352.65,236.03 354.83,235.93" fill="#fff" stroke="#111" stroke-width="0.9"/>
<polygon points="356.50,234.74 357.27,236.79 359.45,236.89 357.74,238.25 358.32,240.35 356.50,239.15 354.68,240.35 355.26,238.25 353.55,236.89 355.73,236.79" fill="#fff" stroke="#111" stroke-width="0.9"/>
<polygon points="357.40,235.39 358.17,237.44 360.35,237.53 358.64,238.89 359.22,241.00 357.40,239.79 355.58,241.00 356.16,238.89 354.45,237.53 356.63,237.44" fill="#fff" stroke="#111" stroke-width="0.9"/>
<polygon points="358.30,234.94 359.07,236.99 361.25,237.08 359.54,238.44 360.12,240.55 358.30,239.34 356.48,240.55 357.06,238.44 355.35,237.08 357.53,236.99" fill="#fff" stroke="#111" stroke-width="0.9"/>
<polygon points="359.20,234.98 359.97,237.02 362.15,237.12 360.44,238.48 361.02,240.58 359.20,239.38 357.38,240.58 357.96,238.48 356.25,237.12 358.43,237.02" fill="#fff" stroke="#111" stroke-width="0.9"/>
<polygon points="360.10,235.68 360.87,237.73 363.05,237.83 361.34,239.19 361.92,241.29 360.10,240.09 358.28,241.29 358.86,239.19 357.15,237.83 359.33,237.73" fill="#fff" stroke="#111" stroke-width="0.9"/>
<polygon points="361.00,234.22 361.77,236.26 363.95,236.36 362.24,237.72 362.82,239.83 361.00,238.62 359.18,239.83 359.76,237.72 358.05,236.36 360.23,236.26" fill="#fff" stroke="#111" stroke-width="0.9"/>
<polygon points="361.90,235.42 362.67,237.47 364.85,237.57 363.14,238.93 363.72,241.03 361.90,239.83 360.08,241.03 360.66,238.93 358.95,237.57 361.13,237.47" fill="#fff" stroke="#111" stroke-width="0.9"/>
<polygon points="362.80,235.22 363.57,237.27 365.75,237.36 364.04,238.72 364.62,240.83 362.80,239.62 360.98,240.83 361.56,238.72 359.85,237.36 362.03,237.27" fill="#fff" stroke="#111" stroke-width="0.9"/>
<polygon points="363.70,236.22 364.47,238.26 366.65,238.36 364.94,239.72 365.52,241.83 363.70,240.62 361.88,241.83 362.46,239.72 360.75,238.36 362.93,238.26" fill="#fff" stroke="#111" stroke-width="0.9"/>
<polygon points="364.60,235.86 365.37,237.91 367.55,238.00 365.84,239.36 366.42,241.47 364.60,240.26 362.78,241.47 363.36,239.36 361.65,238.00 363.83,237.91" fill="#fff" stroke="#111" stroke-width="0.9"/>
<polygon points="365.50,235.83 366.27,237.87 368.45,237.97 366.74,239.33 367.32,241.44 365.50,240.23 363.68,241.44 364.26,239.33 362.55,237.97 364.73,237.87" fill="#fff" stroke="#111" stroke-width="0.9"/>
<polygon points="366.40,236.37 367.17,238.41 369.35,238.51 367.64,239.87 368.22,241.97 366.40,240.77 364.58,241.97 365.16,239.87 363.45,238.51 365.63,238.41" fill="#fff" stroke="#111" stroke-width="0.9"/>
<polygon points="367.30,235.93 368.07,237.98 370.25,238.08 368.54,239.44 369.12,241.54 367.30,240.34 365.48,241.54 366.06,239.44 364.35,238.08 366.53,237.98" fill="#fff" stroke="#111" stroke-width="0.9"/>
<polygon points="368.20,236.73 368.97,238.77 371.15,238.87 369.44,240.23 370.02,242.33 368.20,241.13 366.38,242.33 366.96,240.23 365.25,238.87 367.43,238.77" fill="#fff" stroke="#111" stroke-width="0.9"/>
<polygon points="369.10,236.45 369.87,238.50 372.05,238.60 370.34,239.96 370.92,242.06 369.10,240.86 367.28,242.06 367.86,239.96 366.15,238.60 368.33,238.50" fill="#fff" stroke="#111" stroke-width="0.9"/>
<polygon points="370.00,236.67 370.77,238.72 372.95,238.81 371.24,240.17 371.82,242.28 370.00,241.07 368.18,242.28 368.76,240.17 367.05,238.81 369.23,238.72" fill="#fff" stroke="#111" stroke-width="0.9"/>
<polygon points="370.90,236.56 371.67,238.61 373.85,238.71 372.14,240.07 372.72,242.17 370.90,240.97 369.08,242.17 369.66,240.07 367.95,238.71 370.13,238.61" fill="#fff" stroke="#111" stroke-width="0.9"/>
<polygon points="371.80,237.44 372.57,239.49 374.75,239.58 373.04,240.94 373.62,243.05 371.80,241.84 369.98,243.05 370.56,240.94 368.85,239.58 371.03,239.49" fill="#fff" stroke="#111" stroke-width="0.9"/>
<polygon points="372.70,237.00 373.47,239.04 375.65,239.14 373.94,240.50 374.52,242.60 372.70,241.40 370.88,242.60 371.46,240.50 369.75,239.14 371.93,239.04" fill="#fff" stroke="#111" stroke-width="0.9"/>
<polygon points="373.60,237.38 374.37,239.42 376.55,239.52 374.84,240.88 375.42,242.98 373.60,241.78 371.78,242.98 372.36,240.88 370.65,239.52 372.83,239.42" fill="#fff" stroke="#111" stroke-width="0.9"/>
<polygon points="374.50,237.42 375.27,239.46 377.45,239.56 375.74,240.92 376.32,243.02 374.50,241.82 372.68,243.02 373.26,240.92 371.55,239.56 373.73,239.46" fill="#fff" stroke="#111" stroke-width="0.9"/>
<polygon points="375.40,236.84 376.17,238.88 378.35,238.98 376.64,240.34 377.22,242.45 375.40,241.24 373.58,242.45 374.16,240.34 372.45,238.98 374.63,238.88" fill="#fff" stroke="#111" stroke-width="0.9"/>
<polygon points="376.30,237.59 377.07,239.64 379.25,239.73 377.54,241.09 378.12,243.20 376.30,241.99 374.48,243.20 375.06,241.09 373.35,239.73 375.53,239.64" fill="#fff" stroke="#111" stroke-width="0.9"/>
<polygon points="377.20,237.54 377.97,239.59 380.15,239.68 378.44,241.04 379.02,243.15 377.20,241.94 375.38,243.15 375.96,241.04 374.25,239.68 376.43,239.59" fill="#fff" stroke="#111" stroke-width="0.9"/>
<polygon points="378.10,237.59 378.87,239.63 381.05,239.73 379.34,241.09 379.92,243.20 378.10,241.99 376.28,243.20 376.86,241.09 375.15,239.73 377.33,239.63" fill="#fff" stroke="#111" stroke-width="0.9"/>
<polygon points="379.00,237.29 379.77,239.34 381.95,239.44 380.24,240.80 380.82,242.90 379.00,241.70 377.18,242.90 377.76,240.80 376.05,239.44 378.23,239.34" fill="#fff" stroke="#111" stroke-width="0.9"/>
<polygon points="379.90,237.34 380.67,239.39 382.85,239.49 381.14,240.85 381.72,242.95 379.90,241.75 378.08,242.95 378.66,240.85 376.95,239.49 379.13,239.39" fill="#fff" stroke="#111" stroke-width="0.9"/>
<polygon points="380.80,238.01 381.57,240.06 383.75,240.16 382.04,241.52 382.62,243.62 380.80,242.42 378.98,243.62 379.56,241.52 377.85,240.16 380.03,240.06" fill="#fff" stroke="#111" stroke-width="0.9"/>
<polygon points="381.70,238.78 382.47,240.82 384.65,240.92 382.94,242.28 383.52,244.38 381.70,243.18 379.88,244.38 380.46,242.28 378.75,240.92 380.93,240.82" fill="#fff" stroke="#111" stroke-width="0.9"/>
<polygon points="382.60,237.75 383.37,239.79 385.55,239.89 383.84,241.25 384.42,243.36 382.60,242.15 380.78,243.36 381.36,241.25 379.65,239.89 381.83,239.79" fill="#fff" stroke="#111" stroke-width="0.9"/>
<polygon points="383.60,317.52 384.37,319.57 386.55,319.67 384.84,321.03 385.42,323.13 383.60,321.93 381.78,323.13 382.36,321.03 380.65,319.67 382.83,319.57" fill="#fff" stroke="#111" stroke-width="0.9"/>
<polygon points="384.50,318.15 385.27,320.20 387.45,320.29 385.74,321.65 386.32,323.76 384.50,322.55 382.68,323.76 383.26,321.65 381.55,320.29 383.73,320.20" fill="#fff" stroke="#111" stroke-width="0.9"/>
<polygon points="385.40,318.44 386.17,320.48 388.35,320.58 386.64,321.94 387.22,324.04 385.40,322.84 383.58,324.04 384.16,321.94 382.45,320.58 384.63,320.48" fill="#fff" stroke="#111" stroke-width="0.9"/>
<polygon points="386.30,319.03 387.07,321.08 389.25,321.17 387.54,322.53 388.12,324.64 386.30,323.43 384.48,324.64 385.06,322.53 383.35,321.17 385.53,321.08" fill="#fff" stroke="#111" stroke-width="0.9"/>
<polygon points="387.20,319.40 387.97,321.45 390.15,321.54 388.44,322.90 389.02,325.01 387.20,323.80 385.38,325.01 385.96,322.90 384.25,321.54 386.43,321.45" fill="#fff" stroke="#111" stroke-width="0.9"/>
<polygon points="388.10,319.92 388.87,321.96 391.05,322.06 389.34,323.42 389.92,325.52 388.10,324.32 386.28,325.52 386.86,323.42 385.15,322.06 387.33,321.96" fill="#fff" stroke="#111" stroke-width="0.9"/>
<polygon points="389.00,319.76 389.77,321.81 391.95,321.90 390.24,323.26 390.82,325.37 389.00,324.16 387.18,325.37 387.76,323.26 386.05,321.90 388.23,321.81" fill="#fff" stroke="#111" stroke-width="0.9"/>
<polygon points="389.90,320.51 390.67,322.56 392.85,322.65 391.14,324.01 391.72,326.12 389.90,324.91 388.08,326.12 388.66,324.01 386.95,322.65 389.13,322.56" fill="#fff" stroke="#111" stroke-width="0.9"/>
<polygon points="390.80,320.75 391.57,322.80 393.75,322.89 392.04,324.25 392.62,326.36 390.80,325.15 388.98,326.36 389.56,324.25 387.85,322.89 390.03,322.80" fill="#fff" stroke="#111" stroke-width="0.9"/>
<polygon points="391.70,321.16 392.47,323.21 394.65,323.31 392.94,324.67 393.52,326.77 391.70,325.57 389.88,326.77 390.46,324.67 388.75,323.31 390.93,323.21" fill="#fff" stroke="#111" stroke-width="0.9"/>
<polygon points="392.60,321.35 393.37,323.40 395.55,323.49 393.84,324.85 394.42,326.96 392.60,325.75 390.78,326.96 391.36,324.85 389.65,323.49 391.83,323.40" fill="#fff" stroke="#111" stroke-width="0.9"/>
<polygon points="393.50,321.65 394.27,323.69 396.45,323.79 394.74,325.15 395.32,327.25 393.50,326.05 391.68,327.25 392.26,325.15 390.55,323.79 392.73,323.69" fill="#fff" stroke="#111" stroke-width="0.9"/>
<polygon points="394.40,322.13 395.17,324.17 397.35,324.27 395.64,325.63 396.22,327.73 394.40,326.53 392.58,327.73 393.16,325.63 391.45,324.27 393.63,324.17" fill="#fff" stroke="#111" stroke-width="0.9"/>
<polygon points="395.30,322.59 396.07,324.64 398.25,324.73 396.54,326.09 397.12,328.20 395.30,326.99 393.48,328.20 394.06,326.09 392.35,324.73 394.53,324.64" fill="#fff" stroke="#111" stroke-width="0.9"/>
<polygon points="396.20,322.16 396.97,324.21 399.15,324.30 397.44,325.66 398.02,327.77 396.20,326.56 394.38,327.77 394.96,325.66 393.25,324.30 395.43,324.21" fill="#fff" stroke="#111" stroke-width="0.9"/>
<polygon points="397.10,322.82 397.87,324.87 400.05,324.96 398.34,326.32 398.92,328.43 397.10,327.22 395.28,328.43 395.86,326.32 394.15,324.96 396.33,324.87" fill="#fff" stroke="#111" stroke-width="0.9"/>
<polygon points="398.00,323.19 398.77,325.24 400.95,325.34 399.24,326.70 399.82,328.80 398.00,327.60 396.18,328.80 396.76,326.70 395.05,325.34 397.23,325.24" fill="#fff" stroke="#111" stroke-width="0.9"/>
<polygon points="398.90,323.34 399.67,325.38 401.85,325.48 400.14,326.84 400.72,328.95 398.90,327.74 397.08,328.95 397.66,326.84 395.95,325.48 398.13,325.38" fill="#fff" stroke="#111" stroke-width="0.9"/>
<polygon points="399.80,323.47 400.57,325.52 402.75,325.62 401.04,326.98 401.62,329.08 399.80,327.87 397.98,329.08 398.56,326.98 396.85,325.62 399.03,325.52" fill="#fff" stroke="#111" stroke-width="0.9"/>
<polygon points="400.70,323.51 401.47,325.56 403.65,325.65 401.94,327.01 402.52,329.12 400.70,327.91 398.88,329.12 399.46,327.01 397.75,325.65 399.93,325.56" fill="#fff" stroke="#111" stroke-width="0.9"/>
<polygon points="401.60,323.76 402.37,325.81 404.55,325.90 402.84,327.26 403.42,329.37 401.60,328.16 399.78,329.37 400.36,327.26 398.65,325.90 400.83,325.81" fill="#fff" stroke="#111" stroke-width="0.9"/>
<polygon points="402.50,324.20 403.27,326.25 405.45,326.34 403.74,327.70 404.32,329.81 402.50,328.60 400.68,329.81 401.26,327.70 399.55,326.34 401.73,326.25" fill="#fff" stroke="#111" stroke-width="0.9"/>
<polygon points="403.40,324.44 404.17,326.49 406.35,326.58 404.64,327.94 405.22,330.05 403.40,328.84 401.58,330.05 402.16,327.94 400.45,326.58 402.63,326.49" fill="#fff" stroke="#111" stroke-width="0.9"/>
<polygon points="404.30,324.48 405.07,326.53 407.25,326.62 405.54,327.98 406.12,330.09 404.30,328.88 402.48,330.09 403.06,327.98 401.35,326.62 403.53,326.53" fill="#fff" stroke="#111" stroke-width="0.9"/>
<polygon points="405.20,324.53 405.97,326.58 408.15,326.67 406.44,328.03 407.02,330.14 405.20,328.93 403.38,330.14 403.96,328.03 402.25,326.67 404.43,326.58" fill="#fff" stroke="#111" stroke-width="0.9"/>
<polygon points="406.10,324.84 406.87,326.89 409.05,326.99 407.34,328.35 407.92,330.45 406.10,329.25 404.28,330.45 404.86,328.35 403.15,326.99 405.33,326.89" fill="#fff" stroke="#111" stroke-width="0.9"/>
<polygon points="407.60,248.60 408.37,250.64 410.55,250.74 408.84,252.10 409.42,254.20 407.60,253.00 405.78,254.20 406.36,252.10 404.65,250.74 406.83,250.64" fill="#fff" stroke="#111" stroke-width="0.9"/>
<polygon points="408.50,248.42 409.27,250.47 411.45,250.56 409.74,251.92 410.32,254.03 408.50,252.82 406.68,254.03 407.26,251.92 405.55,250.56 407.73,250.47" fill="#fff" stroke="#111" stroke-width="0.9"/>
<polygon points="409.40,248.80 410.17,250.85 412.35,250.95 410.64,252.31 411.22,254.41 409.40,253.21 407.58,254.41 408.16,252.31 406.45,250.95 408.63,250.85" fill="#fff" stroke="#111" stroke-width="0.9"/>
<polygon points="410.30,248.58 411.07,250.63 413.25,250.73 411.54,252.09 412.12,254.19 410.30,252.99 408.48,254.19 409.06,252.09 407.35,250.73 409.53,250.63" fill="#fff" stroke="#111" stroke-width="0.9"/>
<polygon points="411.20,248.20 411.97,250.25 414.15,250.35 412.44,251.71 413.02,253.81 411.20,252.61 409.38,253.81 409.96,251.71 408.25,250.35 410.43,250.25" fill="#fff" stroke="#111" stroke-width="0.9"/>
<polygon points="412.10,248.60 412.87,250.65 415.05,250.75 413.34,252.11 413.92,254.21 412.10,253.01 410.28,254.21 410.86,252.11 409.15,250.75 411.33,250.65" fill="#fff" stroke="#111" stroke-width="0.9"/>
<polygon points="413.00,247.91 413.77,249.96 415.95,250.05 414.24,251.41 414.82,253.52 413.00,252.31 411.18,253.52 411.76,251.41 410.05,250.05 412.23,249.96" fill="#fff" stroke="#111" stroke-width="0.9"/>
<polygon points="413.90,248.90 414.67,250.95 416.85,251.04 415.14,252.40 415.72,254.51 413.90,253.30 412.08,254.51 412.66,252.40 410.95,251.04 413.13,250.95" fill="#fff" stroke="#111" stroke-width="0.9"/>
<polygon points="414.80,249.07 415.57,251.12 417.75,251.22 416.04,252.58 416.62,254.68 414.80,253.48 412.98,254.68 413.56,252.58 411.85,251.22 414.03,251.12" fill="#fff" stroke="#111" stroke-width="0.9"/>
<polygon points="415.70,247.89 416.47,249.93 418.65,250.03 416.94,251.39 417.52,253.49 415.70,252.29 413.88,253.49 414.46,251.39 412.75,250.03 414.93,249.93" fill="#fff" stroke="#111" stroke-width="0.9"/>
<polygon points="416.60,248.68 417.37,250.72 419.55,250.82 417.84,252.18 418.42,254.29 416.60,253.08 414.78,254.29 415.36,252.18 413.65,250.82 415.83,250.72" fill="#fff" stroke="#111" stroke-width="0.9"/>
<polygon points="417.50,247.96 418.27,250.01 420.45,250.11 418.74,251.47 419.32,253.57 417.50,252.37 415.68,253.57 416.26,251.47 414.55,250.11 416.73,250.01" fill="#fff" stroke="#111" stroke-width="0.9"/>
<polygon points="418.40,248.99 419.17,251.03 421.35,251.13 419.64,252.49 420.22,254.60 418.40,253.39 416.58,254.60 417.16,252.49 415.45,251.13 417.63,251.03" fill="#fff" stroke="#111" stroke-width="0.9"/>
<polygon points="419.30,248.90 420.07,250.94 422.25,251.04 420.54,252.40 421.12,254.50 419.30,253.30 417.48,254.50 418.06,252.40 416.35,251.04 418.53,250.94" fill="#fff" stroke="#111" stroke-width="0.9"/>
<polygon points="420.20,248.32 420.97,250.37 423.15,250.46 421.44,251.82 422.02,253.93 420.20,252.72 418.38,253.93 418.96,251.82 417.25,250.46 419.43,250.37" fill="#fff" stroke="#111" stroke-width="0.9"/>
<polygon points="421.10,248.92 421.87,250.97 424.05,251.07 422.34,252.43 422.92,254.53 421.10,253.33 419.28,254.53 419.86,252.43 418.15,251.07 420.33,250.97" fill="#fff" stroke="#111" stroke-width="0.9"/>
<polygon points="422.00,248.20 422.77,250.25 424.95,250.35 423.24,251.71 423.82,253.81 422.00,252.61 420.18,253.81 420.76,251.71 419.05,250.35 421.23,250.25" fill="#fff" stroke="#111" stroke-width="0.9"/>
<polygon points="422.90,248.09 423.67,250.14 425.85,250.23 424.14,251.59 424.72,253.70 422.90,252.49 421.08,253.70 421.66,251.59 419.95,250.23 422.13,250.14" fill="#fff" stroke="#111" stroke-width="0.9"/>
<polygon points="423.80,248.12 424.57,250.17 426.75,250.26 425.04,251.62 425.62,253.73 423.80,252.52 421.98,253.73 422.56,251.62 420.85,250.26 423.03,250.17" fill="#fff" stroke="#111" stroke-width="0.9"/>
<polygon points="424.70,248.32 425.47,250.37 427.65,250.47 425.94,251.83 426.52,253.93 424.70,252.73 422.88,253.93 423.46,251.83 421.75,250.47 423.93,250.37" fill="#fff" stroke="#111" stroke-width="0.9"/>
<polygon points="425.60,248.23 426.37,250.27 428.55,250.37 426.84,251.73 427.42,253.83 425.60,252.63 423.78,253.83 424.36,251.73 422.65,250.37 424.83,250.27" fill="#fff" stroke="#111" stroke-width="0.9"/>
<polygon points="426.50,248.46 427.27,250.50 429.45,250.60 427.74,251.96 428.32,254.06 426.50,252.86 424.68,254.06 425.26,251.96 423.55,250.60 425.73,250.50" fill="#fff" stroke="#111" stroke-width="0.9"/>
<polygon points="427.40,248.06 428.17,250.11 430.35,250.21 428.64,251.57 429.22,253.67 427.40,252.47 425.58,253.67 426.16,251.57 424.45,250.21 426.63,250.11" fill="#fff" stroke="#111" stroke-width="0.9"/>
<polygon points="428.30,248.75 429.07,250.79 431.25,250.89 429.54,252.25 430.12,254.35 428.30,253.15 426.48,254.35 427.06,252.25 425.35,250.89 427.53,250.79" fill="#fff" stroke="#111" stroke-width="0.9"/>
<polygon points="429.20,248.87 429.97,250.91 432.15,251.01 430.44,252.37 431.02,254.47 429.20,253.27 427.38,254.47 427.96,252.37 426.25,251.01 428.43,250.91" fill="#fff" stroke="#111" stroke-width="0.9"/>
<polygon points="430.10,248.10 430.87,250.15 433.05,250.24 431.34,251.60 431.92,253.71 430.10,252.50 428.28,253.71 428.86,251.60 427.15,250.24 429.33,250.15" fill="#fff" stroke="#111" stroke-width="0.9"/>
<polygon points="431.00,247.65 431.77,249.69 433.95,249.79 432.24,251.15 432.82,253.25 431.00,252.05 429.18,253.25 429.76,251.15 428.05,249.79 430.23,249.69" fill="#fff" stroke="#111" stroke-width="0.9"/>
<polygon points="431.90,248.73 432.67,250.78 434.85,250.87 433.14,252.24 433.72,254.34 431.90,253.13 430.08,254.34 430.66,252.24 428.95,250.87 431.13,250.78" fill="#fff" stroke="#111" stroke-width="0.9"/>
<polygon points="432.80,248.95 433.57,251.00 435.75,251.09 434.04,252.45 434.62,254.56 432.80,253.35 430.98,254.56 431.56,252.45 429.85,251.09 432.03,251.00" fill="#fff" stroke="#111" stroke-width="0.9"/>
<polygon points="433.70,248.31 434.47,250.36 436.65,250.45 434.94,251.81 435.52,253.92 433.70,252.71 431.88,253.92 432.46,251.81 430.75,250.45 432.93,250.36" fill="#fff" stroke="#111" stroke-width="0.9"/>
<polygon points="434.60,247.76 435.37,249.81 437.55,249.90 435.84,251.26 436.42,253.37 434.60,252.16 432.78,253.37 433.36,251.26 431.65,249.90 433.83,249.81" fill="#fff" stroke="#111" stroke-width="0.9"/>
<polygon points="435.50,248.55 436.27,250.59 438.45,250.69 436.74,252.05 437.32,254.16 435.50,252.95 433.68,254.16 434.26,252.05 432.55,250.69 434.73,250.59" fill="#fff" stroke="#111" stroke-width="0.9"/>
<polygon points="436.40,249.19 437.17,251.23 439.35,251.33 437.64,252.69 438.22,254.80 436.40,253.59 434.58,254.80 435.16,252.69 433.45,251.33 435.63,251.23" fill="#fff" stroke="#111" stroke-width="0.9"/>
<polygon points="437.30,247.50 438.07,249.54 440.25,249.64 438.54,251.00 439.12,253.11 437.30,251.90 435.48,253.11 436.06,251.00 434.35,249.64 436.53,249.54" fill="#fff" stroke="#111" stroke-width="0.9"/>
<polygon points="438.20,248.69 438.97,250.73 441.15,250.83 439.44,252.19 440.02,254.29 438.20,253.09 436.38,254.29 436.96,252.19 435.25,250.83 437.43,250.73" fill="#fff" stroke="#111" stroke-width="0.9"/>
<polygon points="439.10,248.30 439.87,250.35 442.05,250.44 440.34,251.80 440.92,253.91 439.10,252.70 437.28,253.91 437.86,251.80 436.15,250.44 438.33,250.35" fill="#fff" stroke="#111" stroke-width="0.9"/>
<polygon points="440.00,248.04 440.77,250.09 442.95,250.18 441.24,251.54 441.82,253.65 440.00,252.44 438.18,253.65 438.76,251.54 437.05,250.18 439.23,250.09" fill="#fff" stroke="#111" stroke-width="0.9"/>
<polygon points="440.90,248.73 441.67,250.77 443.85,250.87 442.14,252.23 442.72,254.34 440.90,253.13 439.08,254.34 439.66,252.23 437.95,250.87 440.13,250.77" fill="#fff" stroke="#111" stroke-width="0.9"/>
<polygon points="441.80,247.84 442.57,249.89 444.75,249.98 443.04,251.34 443.62,253.45 441.80,252.24 439.98,253.45 440.56,251.34 438.85,249.98 441.03,249.89" fill="#fff" stroke="#111" stroke-width="0.9"/>
<polygon points="442.70,248.65 443.47,250.70 445.65,250.79 443.94,252.15 444.52,254.26 442.70,253.05 440.88,254.26 441.46,252.15 439.75,250.79 441.93,250.70" fill="#fff" stroke="#111" stroke-width="0.9"/>
<polygon points="443.60,249.17 444.37,251.21 446.55,251.31 444.84,252.67 445.42,254.78 443.60,253.57 441.78,254.78 442.36,252.67 440.65,251.31 442.83,251.21" fill="#fff" stroke="#111" stroke-width="0.9"/>
<polygon points="444.50,248.61 445.27,250.66 447.45,250.75 445.74,252.11 446.32,254.22 444.50,253.01 442.68,254.22 443.26,252.11 441.55,250.75 443.73,250.66" fill="#fff" stroke="#111" stroke-width="0.9"/>
<polygon points="445.40,248.09 446.17,250.14 448.35,250.24 446.64,251.60 447.22,253.70 445.40,252.50 443.58,253.70 444.16,251.60 442.45,250.24 444.63,250.14" fill="#fff" stroke="#111" stroke-width="0.9"/>
<polygon points="446.30,247.65 447.07,249.70 449.25,249.80 447.54,251.16 448.12,253.26 446.30,252.06 444.48,253.26 445.06,251.16 443.35,249.80 445.53,249.70" fill="#fff" stroke="#111" stroke-width="0.9"/>
<polygon points="447.20,247.91 447.97,249.96 450.15,250.06 448.44,251.42 449.02,253.52 447.20,252.32 445.38,253.52 445.96,251.42 444.25,250.06 446.43,249.96" fill="#fff" stroke="#111" stroke-width="0.9"/>
<polygon points="448.10,247.64 448.87,249.69 451.05,249.79 449.34,251.15 449.92,253.25 448.10,252.05 446.28,253.25 446.86,251.15 445.15,249.79 447.33,249.69" fill="#fff" stroke="#111" stroke-width="0.9"/>
<polygon points="449.00,249.38 449.77,251.42 451.95,251.52 450.24,252.88 450.82,254.98 449.00,253.78 447.18,254.98 447.76,252.88 446.05,251.52 448.23,251.42" fill="#fff" stroke="#111" stroke-width="0.9"/>
<polygon points="449.90,248.46 450.67,250.51 452.85,250.60 451.14,251.96 451.72,254.07 449.90,252.86 448.08,254.07 448.66,251.96 446.95,250.60 449.13,250.51" fill="#fff" stroke="#111" stroke-width="0.9"/>
<polygon points="450.80,248.08 451.57,250.12 453.75,250.22 452.04,251.58 452.62,253.68 450.80,252.48 448.98,253.68 449.56,251.58 447.85,250.22 450.03,250.12" fill="#fff" stroke="#111" stroke-width="0.9"/>
<polygon points="451.70,247.96 452.47,250.01 454.65,250.10 452.94,251.46 453.52,253.57 451.70,252.36 449.88,253.57 450.46,251.46 448.75,250.10 450.93,250.01" fill="#fff" stroke="#111" stroke-width="0.9"/>
<polygon points="452.60,248.09 453.37,250.13 455.55,250.23 453.84,251.59 454.42,253.69 452.60,252.49 450.78,253.69 451.36,251.59 449.65,250.23 451.83,250.13" fill="#fff" stroke="#111" stroke-width="0.9"/>
<polygon points="453.50,248.46 454.27,250.51 456.45,250.60 454.74,251.96 455.32,254.07 453.50,252.86 451.68,254.07 452.26,251.96 450.55,250.60 452.73,250.51" fill="#fff" stroke="#111" stroke-width="0.9"/>
<polygon points="454.40,248.00 455.17,250.05 457.35,250.14 455.64,251.50 456.22,253.61 454.40,252.40 452.58,253.61 453.16,251.50 451.45,250.14 453.63,250.05" fill="#fff" stroke="#111" stroke-width="0.9"/>
<polygon points="455.30,249.49 456.07,251.54 458.25,251.63 456.54,252.99 457.12,255.10 455.30,253.89 453.48,255.10 454.06,252.99 452.35,251.63 454.53,251.54" fill="#fff" stroke="#111" stroke-width="0.9"/>
<polygon points="456.20,248.30 456.97,250.35 459.15,250.44 457.44,251.80 458.02,253.91 456.20,252.70 454.38,253.91 454.96,251.80 453.25,250.44 455.43,250.35" fill="#fff" stroke="#111" stroke-width="0.9"/>
<polygon points="457.10,248.30 457.87,250.35 460.05,250.44 458.34,251.80 458.92,253.91 457.10,252.70 455.28,253.91 455.86,251.80 454.15,250.44 456.33,250.35" fill="#fff" stroke="#111" stroke-width="0.9"/>
<polygon points="458.00,248.87 458.77,250.91 460.95,251.01 459.24,252.37 459.82,254.47 458.00,253.27 456.18,254.47 456.76,252.37 455.05,251.01 457.23,250.91" fill="#fff" stroke="#111" stroke-width="0.9"/>
<polygon points="458.90,249.46 459.67,251.50 461.85,251.60 460.14,252.96 460.72,255.06 458.90,253.86 457.08,255.06 457.66,252.96 455.95,251.60 458.13,251.50" fill="#fff" stroke="#111" stroke-width="0.9"/>
<polygon points="459.80,249.41 460.57,251.46 462.75,251.55 461.04,252.91 461.62,255.02 459.80,253.81 457.98,255.02 458.56,252.91 456.85,251.55 459.03,251.46" fill="#fff" stroke="#111" stroke-width="0.9"/>
<polygon points="460.70,248.52 461.47,250.57 463.65,250.67 461.94,252.03 462.52,254.13 460.70,252.93 458.88,254.13 459.46,252.03 457.75,250.67 459.93,250.57" fill="#fff" stroke="#111" stroke-width="0.9"/>
<polygon points="461.60,248.92 462.37,250.96 464.55,251.06 462.84,252.42 463.42,254.52 461.60,253.32 459.78,254.52 460.36,252.42 458.65,251.06 460.83,250.96" fill="#fff" stroke="#111" stroke-width="0.9"/>
<polygon points="462.50,248.88 463.27,250.93 465.45,251.02 463.74,252.38 464.32,254.49 462.50,253.28 460.68,254.49 461.26,252.38 459.55,251.02 461.73,250.93" fill="#fff" stroke="#111" stroke-width="0.9"/>
<polygon points="463.40,249.09 464.17,251.14 466.35,251.23 464.64,252.59 465.22,254.70 463.40,253.49 461.58,254.70 462.16,252.59 460.45,251.23 462.63,251.14" fill="#fff" stroke="#111" stroke-width="0.9"/>
<polygon points="464.30,248.97 465.07,251.02 467.25,251.11 465.54,252.48 466.12,254.58 464.30,253.37 462.48,254.58 463.06,252.48 461.35,251.11 463.53,251.02" fill="#fff" stroke="#111" stroke-width="0.9"/>
<polygon points="465.20,248.39 465.97,250.44 468.15,250.53 466.44,251.89 467.02,254.00 465.20,252.79 463.38,254.00 463.96,251.89 462.25,250.53 464.43,250.44" fill="#fff" stroke="#111" stroke-width="0.9"/>
<polygon points="466.10,248.25 466.87,250.30 469.05,250.40 467.34,251.76 467.92,253.86 466.10,252.66 464.28,253.86 464.86,251.76 463.15,250.40 465.33,250.30" fill="#fff" stroke="#111" stroke-width="0.9"/>
<polygon points="467.00,248.99 467.77,251.04 469.95,251.13 468.24,252.49 468.82,254.60 467.00,253.39 465.18,254.60 465.76,252.49 464.05,251.13 466.23,251.04" fill="#fff" stroke="#111" stroke-width="0.9"/>
<polygon points="467.90,248.33 468.67,250.38 470.85,250.47 469.14,251.83 469.72,253.94 467.90,252.73 466.08,253.94 466.66,251.83 464.95,250.47 467.13,250.38" fill="#fff" stroke="#111" stroke-width="0.9"/>
<polygon points="468.80,249.62 469.57,251.67 471.75,251.76 470.04,253.12 470.62,255.23 468.80,254.02 466.98,255.23 467.56,253.12 465.85,251.76 468.03,251.67" fill="#fff" stroke="#111" stroke-width="0.9"/>
<polygon points="469.70,248.98 470.47,251.03 472.65,251.12 470.94,252.48 471.52,254.59 469.70,253.38 467.88,254.59 468.46,252.48 466.75,251.12 468.93,251.03" fill="#fff" stroke="#111" stroke-width="0.9"/>
<polygon points="470.60,248.47 471.37,250.51 473.55,250.61 471.84,251.97 472.42,254.07 470.60,252.87 468.78,254.07 469.36,251.97 467.65,250.61 469.83,250.51" fill="#fff" stroke="#111" stroke-width="0.9"/>
<polygon points="471.50,248.84 472.27,250.88 474.45,250.98 472.74,252.34 473.32,254.44 471.50,253.24 469.68,254.44 470.26,252.34 468.55,250.98 470.73,250.88" fill="#fff" stroke="#111" stroke-width="0.9"/>
<polygon points="472.40,248.76 473.17,250.81 475.35,250.91 473.64,252.27 474.22,254.37 472.40,253.16 470.58,254.37 471.16,252.27 469.45,250.91 471.63,250.81" fill="#fff" stroke="#111" stroke-width="0.9"/>
<polygon points="473.30,248.97 474.07,251.02 476.25,251.11 474.54,252.47 475.12,254.58 473.30,253.37 471.48,254.58 472.06,252.47 470.35,251.11 472.53,251.02" fill="#fff" stroke="#111" stroke-width="0.9"/>
<polygon points="474.20,249.53 474.97,251.57 477.15,251.67 475.44,253.03 476.02,255.14 474.20,253.93 472.38,255.14 472.96,253.03 471.25,251.67 473.43,251.57" fill="#fff" stroke="#111" stroke-width="0.9"/>
<polygon points="475.10,248.35 475.87,250.40 478.05,250.49 476.34,251.85 476.92,253.96 475.10,252.75 473.28,253.96 473.86,251.85 472.15,250.49 474.33,250.40" fill="#fff" stroke="#111" stroke-width="0.9"/>
<polygon points="476.00,248.16 476.77,250.21 478.95,250.30 477.24,251.66 477.82,253.77 476.00,252.56 474.18,253.77 474.76,251.66 473.05,250.30 475.23,250.21" fill="#fff" stroke="#111" stroke-width="0.9"/>
<polygon points="476.90,249.28 477.67,251.33 479.85,251.42 478.14,252.78 478.72,254.89 476.90,253.68 475.08,254.89 475.66,252.78 473.95,251.42 476.13,251.33" fill="#fff" stroke="#111" stroke-width="0.9"/>
<polygon points="477.80,249.13 478.57,251.18 480.75,251.27 479.04,252.63 479.62,254.74 477.80,253.53 475.98,254.74 476.56,252.63 474.85,251.27 477.03,251.18" fill="#fff" stroke="#111" stroke-width="0.9"/>
<polygon points="311.50,209.30 308.40,215.01 314.60,215.01" fill="#fff" stroke="#111" stroke-width="0.9" stroke-linejoin="miter"/>
<polygon points="313.00,210.07 309.90,215.78 316.10,215.78" fill="#fff" stroke="#111" stroke-width="0.9" stroke-linejoin="miter"/>
<polygon points="314.50,210.81 311.40,216.52 317.60,216.52" fill="#fff" stroke="#111" stroke-width="0.9" stroke-linejoin="miter"/>
<polygon points="316.00,211.10 312.90,216.81 319.10,216.81" fill="#fff" stroke="#111" stroke-width="0.9" stroke-linejoin="miter"/>
<polygon points="317.50,212.19 314.40,217.90 320.60,217.90" fill="#fff" stroke="#111" stroke-width="0.9" stroke-linejoin="miter"/>
<polygon points="319.00,211.95 315.90,217.65 322.10,217.65" fill="#fff" stroke="#111" stroke-width="0.9" stroke-linejoin="miter"/>
<polygon points="320.50,213.02 317.40,218.73 323.60,218.73" fill="#fff" stroke="#111" stroke-width="0.9" stroke-linejoin="miter"/>
<polygon points="322.00,213.04 318.90,218.74 325.10,218.74" fill="#fff" stroke="#111" stroke-width="0.9" stroke-linejoin="miter"/>
<polygon points="323.50,213.35 320.40,219.06 326.60,219.06" fill="#fff" stroke="#111" stroke-width="0.9" stroke-linejoin="miter"/>
<polygon points="325.00,214.69 321.90,220.39 328.10,220.39" fill="#fff" stroke="#111" stroke-width="0.9" stroke-linejoin="miter"/>
<polygon points="326.50,215.13 323.40,220.83 329.60,220.83" fill="#fff" stroke="#111" stroke-width="0.9" stroke-linejoin="miter"/>
<polygon points="328.00,214.34 324.90,220.04 331.10,220.04" fill="#fff" stroke="#111" stroke-width="0.9" stroke-linejoin="miter"/>
<polygon points="329.50,215.21 326.40,220.92 332.60,220.92" fill="#fff" stroke="#111" stroke-width="0.9" stroke-linejoin="miter"/>
<polygon points="331.00,216.38 327.90,222.09 334.10,222.09" fill="#fff" stroke="#111" stroke-width="0.9" stroke-linejoin="miter"/>
<polygon points="332.50,217.16 329.40,222.86 335.60,222.86" fill="#fff" stroke="#111" stroke-width="0.9" stroke-linejoin="miter"/>
<polygon points="334.00,216.64 330.90,222.34 337.10,222.34" fill="#fff" stroke="#111" stroke-width="0.9" stroke-linejoin="miter"/>
<polygon points="335.50,217.23 332.40,222.93 338.60,222.93" fill="#fff" stroke="#111" stroke-width="0.9" stroke-linejoin="miter"/>
<polygon points="337.00,216.96 333.90,222.67 340.10,222.67" fill="#fff" stroke="#111" stroke-width="0.9" stroke-linejoin="miter"/>
<polygon points="338.50,219.27 335.40,224.98 341.60,224.98" fill="#fff" stroke="#111" stroke-width="0.9" stroke-linejoin="miter"/>
<polygon points="340.00,218.60 336.90,224.31 343.10,224.31" fill="#fff" stroke="#111" stroke-width="0.9" stroke-linejoin="miter"/>
<polygon points="341.50,219.16 338.40,224.87 344.60,224.87" fill="#fff" stroke="#111" stroke-width="0.9" stroke-linejoin="miter"/>
<polygon points="343.00,219.39 339.90,225.10 346.10,225.10" fill="#fff" stroke="#111" stroke-width="0.9" stroke-linejoin="miter"/>
<polygon points="344.50,219.88 341.40,225.58 347.60,225.58" fill="#fff" stroke="#111" stroke-width="0.9" stroke-linejoin="miter"/>
<polygon points="346.00,220.06 342.90,225.77 349.10,225.77" fill="#fff" stroke="#111" stroke-width="0.9" stroke-linejoin="miter"/>
<polygon points="347.50,219.89 344.40,225.59 350.60,225.59" fill="#fff" stroke="#111" stroke-width="0.9" stroke-linejoin="miter"/>
<polygon points="349.00,220.62 345.90,226.33 352.10,226.33" fill="#fff" stroke="#111" stroke-width="0.9" stroke-linejoin="miter"/>
<polygon points="350.50,220.49 347.40,226.19 353.60,226.19" fill="#fff" stroke="#111" stroke-width="0.9" stroke-linejoin="miter"/>
<polygon points="352.00,221.29 348.90,226.99 355.10,226.99" fill="#fff" stroke="#111" stroke-width="0.9" stroke-linejoin="miter"/>
<polygon points="353.50,220.47 350.40,226.17 356.60,226.17" fill="#fff" stroke="#111" stroke-width="0.9" stroke-linejoin="miter"/>
<polygon points="355.00,220.76 351.90,226.47 358.10,226.47" fill="#fff" stroke="#111" stroke-width="0.9" stroke-linejoin="miter"/>
<polygon points="356.50,221.56 353.40,227.26 359.60,227.26" fill="#fff" stroke="#111" stroke-width="0.9" stroke-linejoin="miter"/>
<polygon points="358.00,222.06 354.90,227.77 361.10,227.77" fill="#fff" stroke="#111" stroke-width="0.9" stroke-linejoin="miter"/>
<polygon points="359.50,221.69 356.40,227.39 362.60,227.39" fill="#fff" stroke="#111" stroke-width="0.9" stroke-linejoin="miter"/>
<polygon points="361.00,221.46 357.90,227.16 364.10,227.16" fill="#fff" stroke="#111" stroke-width="0.9" stroke-linejoin="miter"/>
<polygon points="362.50,221.95 359.40,227.65 365.60,227.65" fill="#fff" stroke="#111" stroke-width="0.9" stroke-linejoin="miter"/>
<polygon points="364.00,221.95 360.90,227.66 367.10,227.66" fill="#fff" stroke="#111" stroke-width="0.9" stroke-linejoin="miter"/>
<polygon points="365.50,223.35 362.40,229.05 368.60,229.05" fill="#fff" stroke="#111" stroke-width="0.9" stroke-linejoin="miter"/>
<polygon points="367.00,223.04 363.90,228.75 370.10,228.75" fill="#fff" stroke="#111" stroke-width="0.9" stroke-linejoin="miter"/>
<polygon points="368.50,223.37 365.40,229.07 371.60,229.07" fill="#fff" stroke="#111" stroke-width="0.9" stroke-linejoin="miter"/>
<polygon points="370.00,223.03 366.90,228.73 373.10,228.73" fill="#fff" stroke="#111" stroke-width="0.9" stroke-linejoin="miter"/>
<polygon points="371.50,222.75 368.40,228.45 374.60,228.45" fill="#fff" stroke="#111" stroke-width="0.9" stroke-linejoin="miter"/>
<polygon points="373.00,223.76 369.90,229.46 376.10,229.46" fill="#fff" stroke="#111" stroke-width="0.9" stroke-linejoin="miter"/>
<polygon points="374.50,224.14 371.40,229.84 377.60,229.84" fill="#fff" stroke="#111" stroke-width="0.9" stroke-linejoin="miter"/>
<polygon points="376.00,223.75 372.90,229.45 379.10,229.45" fill="#fff" stroke="#111" stroke-width="0.9" stroke-linejoin="miter"/>
<polygon points="377.50,223.59 374.40,229.29 380.60,229.29" fill="#fff" stroke="#111" stroke-width="0.9" stroke-linejoin="miter"/>
<polygon points="379.00,224.29 375.90,229.99 382.10,229.99" fill="#fff" stroke="#111" stroke-width="0.9" stroke-linejoin="miter"/>
<polygon points="380.50,223.70 377.40,229.41 383.60,229.41" fill="#fff" stroke="#111" stroke-width="0.9" stroke-linejoin="miter"/>
<polygon points="382.00,224.03 378.90,229.74 385.10,229.74" fill="#fff" stroke="#111" stroke-width="0.9" stroke-linejoin="miter"/>
<polygon points="383.60,305.71 380.50,311.41 386.70,311.41" fill="#fff" stroke="#111" stroke-width="0.9" stroke-linejoin="miter"/>
<polygon points="385.10,306.02 382.00,311.73 388.20,311.73" fill="#fff" stroke="#111" stroke-width="0.9" stroke-linejoin="miter"/>
<polygon points="386.60,306.53 383.50,312.23 389.70,312.23" fill="#fff" stroke="#111" stroke-width="0.9" stroke-linejoin="miter"/>
<polygon points="388.10,307.30 385.00,313.00 391.20,313.00" fill="#fff" stroke="#111" stroke-width="0.9" stroke-linejoin="miter"/>
<polygon points="389.60,307.80 386.50,313.50 392.70,313.50" fill="#fff" stroke="#111" stroke-width="0.9" stroke-linejoin="miter"/>
<polygon points="391.10,308.57 388.00,314.28 394.20,314.28" fill="#fff" stroke="#111" stroke-width="0.9" stroke-linejoin="miter"/>
<polygon points="392.60,308.79 389.50,314.49 395.70,314.49" fill="#fff" stroke="#111" stroke-width="0.9" stroke-linejoin="miter"/>
<polygon points="394.10,309.37 391.00,315.08 397.20,315.08" fill="#fff" stroke="#111" stroke-width="0.9" stroke-linejoin="miter"/>
<polygon points="395.60,309.68 392.50,315.38 398.70,315.38" fill="#fff" stroke="#111" stroke-width="0.9" stroke-linejoin="miter"/>
<polygon points="397.10,309.95 394.00,315.66 400.20,315.66" fill="#fff" stroke="#111" stroke-width="0.9" stroke-linejoin="miter"/>
<polygon points="398.60,310.36 395.50,316.06 401.70,316.06" fill="#fff" stroke="#111" stroke-width="0.9" stroke-linejoin="miter"/>
<polygon points="400.10,311.08 397.00,316.78 403.20,316.78" fill="#fff" stroke="#111" stroke-width="0.9" stroke-linejoin="miter"/>
<polygon points="401.60,311.22 398.50,316.93 404.70,316.93" fill="#fff" stroke="#111" stroke-width="0.9" stroke-linejoin="miter"/>
<polygon points="403.10,311.96 400.00,317.66 406.20,317.66" fill="#fff" stroke="#111" stroke-width="0.9" stroke-linejoin="miter"/>
<polygon points="404.60,312.39 401.50,318.09 407.70,318.09" fill="#fff" stroke="#111" stroke-width="0.9" stroke-linejoin="miter"/>
<polygon points="406.10,312.56 403.00,318.27 409.20,318.27" fill="#fff" stroke="#111" stroke-width="0.9" stroke-linejoin="miter"/>
<polygon points="407.60,230.35 404.50,236.05 410.70,236.05" fill="#fff" stroke="#111" stroke-width="0.9" stroke-linejoin="miter"/>
<polygon points="409.10,231.40 406.00,237.11 412.20,237.11" fill="#fff" stroke="#111" stroke-width="0.9" stroke-linejoin="miter"/>
<polygon points="410.60,230.77 407.50,236.47 413.70,236.47" fill="#fff" stroke="#111" stroke-width="0.9" stroke-linejoin="miter"/>
<polygon points="412.10,231.30 409.00,237.00 415.20,237.00" fill="#fff" stroke="#111" stroke-width="0.9" stroke-linejoin="miter"/>
<polygon points="413.60,230.70 410.50,236.40 416.70,236.40" fill="#fff" stroke="#111" stroke-width="0.9" stroke-linejoin="miter"/>
<polygon points="415.10,231.37 412.00,237.08 418.20,237.08" fill="#fff" stroke="#111" stroke-width="0.9" stroke-linejoin="miter"/>
<polygon points="416.60,230.50 413.50,236.21 419.70,236.21" fill="#fff" stroke="#111" stroke-width="0.9" stroke-linejoin="miter"/>
<polygon points="418.10,231.37 415.00,237.07 421.20,237.07" fill="#fff" stroke="#111" stroke-width="0.9" stroke-linejoin="miter"/>
<polygon points="419.60,230.90 416.50,236.61 422.70,236.61" fill="#fff" stroke="#111" stroke-width="0.9" stroke-linejoin="miter"/>
<polygon points="421.10,231.15 418.00,236.85 424.20,236.85" fill="#fff" stroke="#111" stroke-width="0.9" stroke-linejoin="miter"/>
<polygon points="422.60,231.61 419.50,237.32 425.70,237.32" fill="#fff" stroke="#111" stroke-width="0.9" stroke-linejoin="miter"/>
<polygon points="424.10,231.46 421.00,237.17 427.20,237.17" fill="#fff" stroke="#111" stroke-width="0.9" stroke-linejoin="miter"/>
<polygon points="425.60,231.42 422.50,237.12 428.70,237.12" fill="#fff" stroke="#111" stroke-width="0.9" stroke-linejoin="miter"/>
<polygon points="427.10,231.90 424.00,237.60 430.20,237.60" fill="#fff" stroke="#111" stroke-width="0.9" stroke-linejoin="miter"/>
<polygon points="428.60,232.02 425.50,237.72 431.70,237.72" fill="#fff" stroke="#111" stroke-width="0.9" stroke-linejoin="miter"/>
<polygon points="430.10,231.01 427.00,236.71 433.20,236.71" fill="#fff" stroke="#111" stroke-width="0.9" stroke-linejoin="miter"/>
<polygon points="431.60,232.10 428.50,237.80 434.70,237.80" fill="#fff" stroke="#111" stroke-width="0.9" stroke-linejoin="miter"/>
<polygon points="433.10,232.28 430.00,237.98 436.20,237.98" fill="#fff" stroke="#111" stroke-width="0.9" stroke-linejoin="miter"/>
<polygon points="434.60,231.68 431.50,237.39 437.70,237.39" fill="#fff" stroke="#111" stroke-width="0.9" stroke-linejoin="miter"/>
<polygon points="436.10,232.37 433.00,238.08 439.20,238.08" fill="#fff" stroke="#111" stroke-width="0.9" stroke-linejoin="miter"/>
<polygon points="437.60,231.64 434.50,237.34 440.70,237.34" fill="#fff" stroke="#111" stroke-width="0.9" stroke-linejoin="miter"/>
<polygon points="439.10,233.14 436.00,238.84 442.20,238.84" fill="#fff" stroke="#111" stroke-width="0.9" stroke-linejoin="miter"/>
<polygon points="440.60,232.42 437.50,238.12 443.70,238.12" fill="#fff" stroke="#111" stroke-width="0.9" stroke-linejoin="miter"/>
<polygon points="442.10,232.62 439.00,238.32 445.20,238.32" fill="#fff" stroke="#111" stroke-width="0.9" stroke-linejoin="miter"/>
<polygon points="443.60,233.38 440.50,239.08 446.70,239.08" fill="#fff" stroke="#111" stroke-width="0.9" stroke-linejoin="miter"/>
<polygon points="445.10,232.83 442.00,238.53 448.20,238.53" fill="#fff" stroke="#111" stroke-width="0.9" stroke-linejoin="miter"/>
<polygon points="446.60,233.32 443.50,239.02 449.70,239.02" fill="#fff" stroke="#111" stroke-width="0.9" stroke-linejoin="miter"/>
<polygon points="448.10,232.62 445.00,238.32 451.20,238.32" fill="#fff" stroke="#111" stroke-width="0.9" stroke-linejoin="miter"/>
<polygon points="449.60,232.97 446.50,238.68 452.70,238.68" fill="#fff" stroke="#111" stroke-width="0.9" stroke-linejoin="miter"/>
<polygon points="451.10,232.68 448.00,238.39 454.20,238.39" fill="#fff" stroke="#111" stroke-width="0.9" stroke-linejoin="miter"/>
<polygon points="452.60,233.40 449.50,239.10 455.70,239.10" fill="#fff" stroke="#111" stroke-width="0.9" stroke-linejoin="miter"/>
<polygon points="454.10,234.14 451.00,239.84 457.20,239.84" fill="#fff" stroke="#111" stroke-width="0.9" stroke-linejoin="miter"/>
<polygon points="455.60,233.85 452.50,239.56 458.70,239.56" fill="#fff" stroke="#111" stroke-width="0.9" stroke-linejoin="miter"/>
<polygon points="457.10,234.31 454.00,240.02 460.20,240.02" fill="#fff" stroke="#111" stroke-width="0.9" stroke-linejoin="miter"/>
<polygon points="458.60,233.48 455.50,239.19 461.70,239.19" fill="#fff" stroke="#111" stroke-width="0.9" stroke-linejoin="miter"/>
<polygon points="460.10,233.68 457.00,239.39 463.20,239.39" fill="#fff" stroke="#111" stroke-width="0.9" stroke-linejoin="miter"/>
<polygon points="461.60,234.02 458.50,239.72 464.70,239.72" fill="#fff" stroke="#111" stroke-width="0.9" stroke-linejoin="miter"/>
<polygon points="463.10,234.66 460.00,240.37 466.20,240.37" fill="#fff" stroke="#111" stroke-width="0.9" stroke-linejoin="miter"/>
<polygon points="464.60,234.68 461.50,240.39 467.70,240.39" fill="#fff" stroke="#111" stroke-width="0.9" stroke-linejoin="miter"/>
<polygon points="466.10,234.62 463.00,240.33 469.20,240.33" fill="#fff" stroke="#111" stroke-width="0.9" stroke-linejoin="miter"/>
<polygon points="467.60,235.07 464.50,240.77 470.70,240.77" fill="#fff" stroke="#111" stroke-width="0.9" stroke-linejoin="miter"/>
<polygon points="469.10,234.81 466.00,240.51 472.20,240.51" fill="#fff" stroke="#111" stroke-width="0.9" stroke-linejoin="miter"/>
<polygon points="470.60,235.00 467.50,240.71 473.70,240.71" fill="#fff" stroke="#111" stroke-width="0.9" stroke-linejoin="miter"/>
<polygon points="472.10,235.79 469.00,241.50 475.20,241.50" fill="#fff" stroke="#111" stroke-width="0.9" stroke-linejoin="miter"/>
<polygon points="473.60,234.97 470.50,240.68 476.70,240.68" fill="#fff" stroke="#111" stroke-width="0.9" stroke-linejoin="miter"/>
<polygon points="475.10,235.49 472.00,241.19 478.20,241.19" fill="#fff" stroke="#111" stroke-width="0.9" stroke-linejoin="miter"/>
<polygon points="476.60,236.33 473.50,242.03 479.70,242.03" fill="#fff" stroke="#111" stroke-width="0.9" stroke-linejoin="miter"/>
<polygon points="478.10,235.65 475.00,241.35 481.20,241.35" fill="#fff" stroke="#111" stroke-width="0.9" stroke-linejoin="miter"/>
<circle cx="317.00" cy="293.00" r="2.40" fill="#fff" stroke="#000" stroke-width="0.85"/>
<text x="329.00" y="295.90" font-size="8.1" font-weight="bold" text-anchor="start" transform="translate(329.00 295.90) scale(0.975 1) translate(-329.00 -295.90)" >HPMC 100</text>
<polygon points="317.00,299.86 314.15,305.10 319.85,305.10" fill="#fff" stroke="#000" stroke-width="0.85" stroke-linejoin="miter"/>
<text x="329.00" y="305.80" font-size="8.1" font-weight="bold" text-anchor="start" transform="translate(329.00 305.80) scale(0.975 1) translate(-329.00 -305.80)" >HPMC 4000</text>
<polygon points="317.00,310.10 320.00,313.10 317.00,316.10 314.00,313.10" fill="#fff" stroke="#000" stroke-width="0.85"/>
<text x="329.00" y="316.00" font-size="8.1" font-weight="bold" text-anchor="start" transform="translate(329.00 316.00) scale(0.975 1) translate(-329.00 -316.00)" >MC 400</text>
<polygon points="317.00,321.00 317.62,322.65 319.38,322.73 318.00,323.82 318.47,325.52 317.00,324.55 315.53,325.52 316.00,323.82 314.62,322.73 316.38,322.65" fill="#fff" stroke="#000" stroke-width="0.85"/>
<text x="329.00" y="326.20" font-size="8.1" font-weight="bold" text-anchor="start" transform="translate(329.00 326.20) scale(0.975 1) translate(-329.00 -326.20)" >MC 1500</text>
</svg>
</body></html>
